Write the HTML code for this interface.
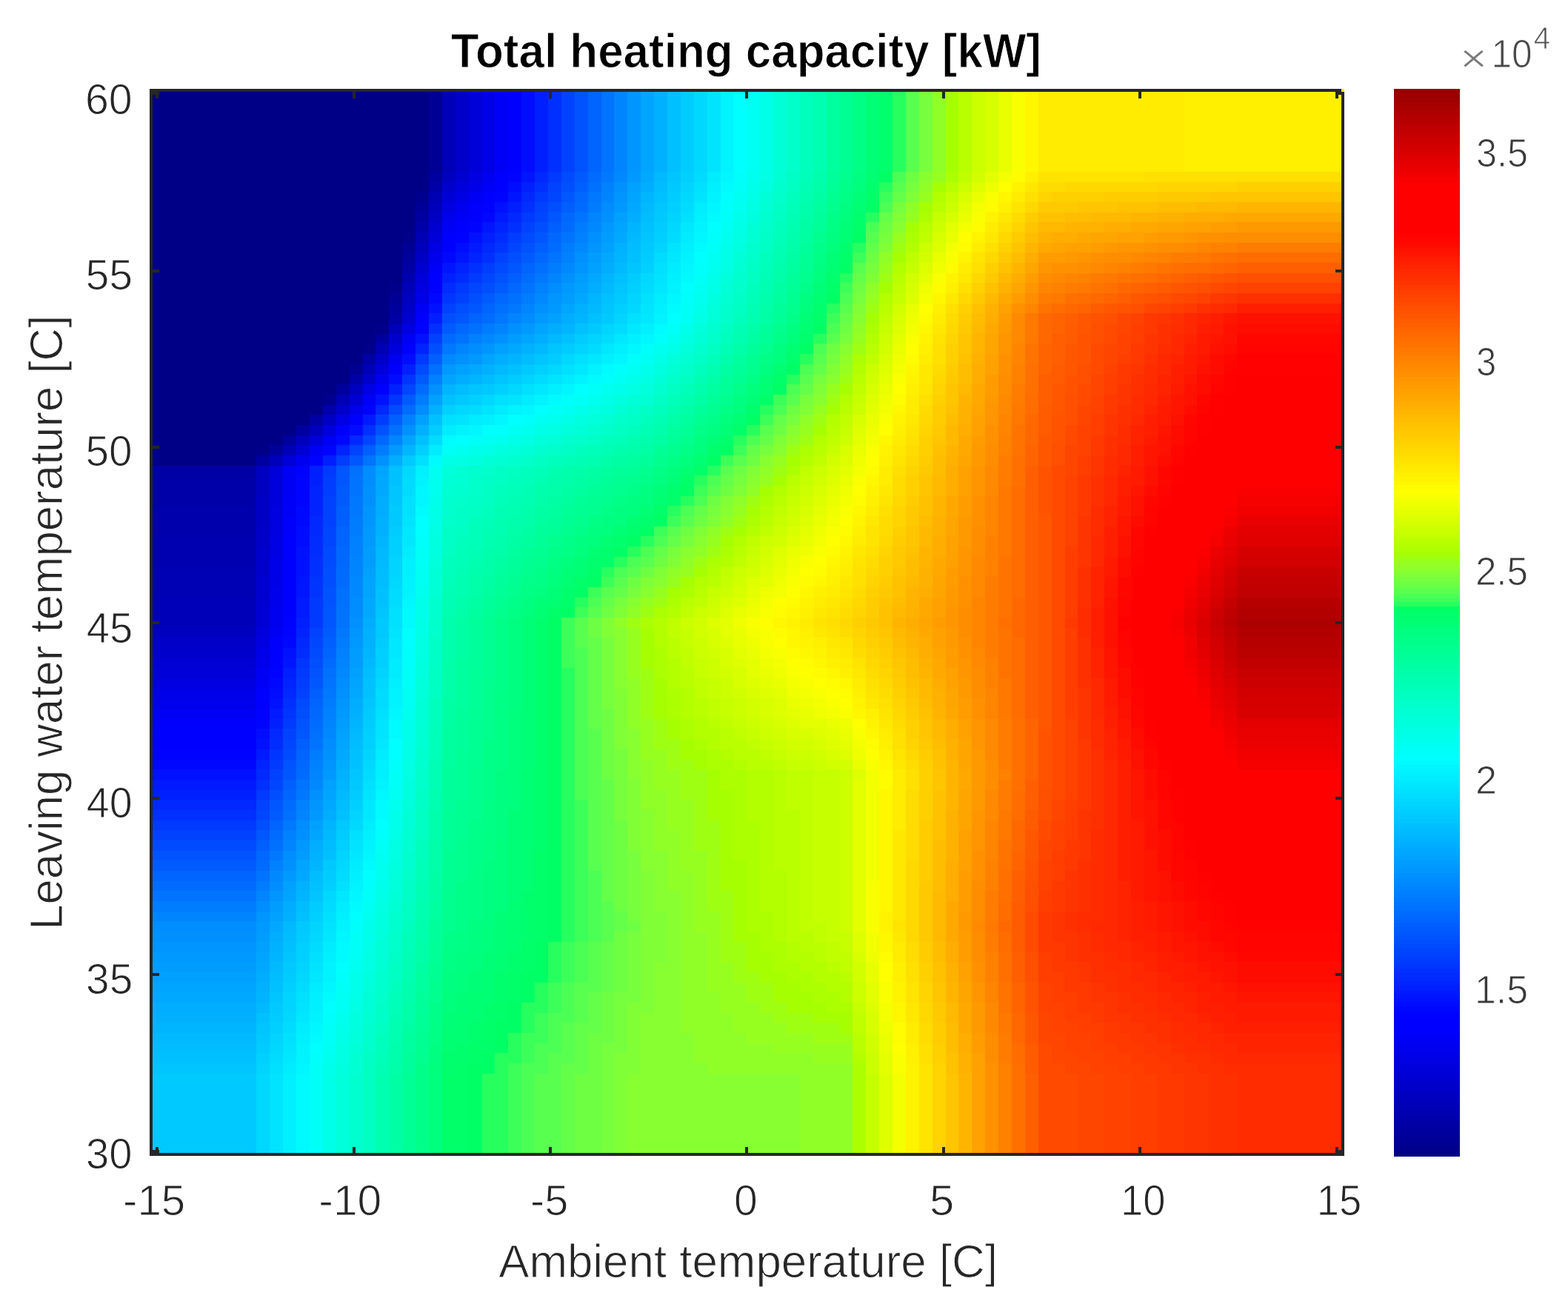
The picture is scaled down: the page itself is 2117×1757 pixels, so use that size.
<!DOCTYPE html>
<html lang="en">
<head>
<meta charset="utf-8">
<title>Total heating capacity [kW]</title>
<style>
html,body{margin:0;padding:0;background:#fff}
body{width:2117px;height:1757px;overflow:hidden;position:relative}
body>svg{position:absolute;left:0;top:0;display:block}
text{font-family:"Liberation Sans",Arial,Helvetica,sans-serif;fill:#262626;stroke:#fff;stroke-width:1px}
</style>
</head>
<body>
<svg width="2117" height="1757" viewBox="0 0 2117 1757">
<rect width="2117" height="1757" fill="#fff"/>
<svg x="203.40" y="122.40" width="1609.80" height="1436.80" viewBox="0 0 90 105" preserveAspectRatio="none" shape-rendering="crispEdges">
<path fill="#000087" d="M0 0h21v1h-21zM0 1h21v1h-21zM0 2h21v1h-21zM0 3h21v1h-21zM0 4h21v1h-21zM0 5h21v1h-21zM0 6h21v1h-21zM0 7h21v1h-21zM0 8h21v1h-21zM0 9h21v1h-21zM0 10h20v1h-20zM0 11h20v1h-20zM0 12h20v1h-20zM0 13h20v1h-20zM0 14h19v1h-19zM0 15h19v1h-19zM0 16h19v1h-19zM0 17h19v1h-19zM0 18h19v1h-19zM0 19h18v1h-18zM0 20h18v1h-18zM0 21h18v1h-18zM0 22h18v1h-18zM0 23h17v1h-17zM0 24h17v1h-17zM0 25h16v1h-16zM0 26h16v1h-16zM0 27h15v1h-15zM0 28h15v1h-15zM0 29h14v1h-14zM0 30h13v1h-13zM0 31h13v1h-13zM0 32h12v1h-12zM0 33h11v1h-11zM0 34h10v1h-10zM0 35h9v1h-9zM0 36h8v1h-8z"/>
<path fill="#00008b" d="M19 14h1v1h-1zM18 19h1v1h-1zM17 23h1v1h-1zM16 25h1v1h-1z"/>
<path fill="#00008f" d="M20 10h1v1h-1zM13 30h1v1h-1z"/>
<path fill="#000094" d="M21 0h1v1h-1zM21 1h1v1h-1zM21 2h1v1h-1zM21 3h1v1h-1zM21 4h1v1h-1zM21 5h1v1h-1zM21 6h1v1h-1zM21 7h1v1h-1zM19 15h1v1h-1zM18 20h1v1h-1zM15 27h1v1h-1z"/>
<path fill="#000098" d="M20 11h1v1h-1z"/>
<path fill="#00009c" d="M19 16h1v1h-1zM18 21h1v1h-1zM14 29h1v1h-1zM10 34h1v1h-1zM9 35h1v1h-1z"/>
<path fill="#0000a0" d="M21 8h1v1h-1zM20 12h1v1h-1zM17 24h1v1h-1zM11 33h1v1h-1zM8 36h1v1h-1z"/>
<path fill="#0000a4" d="M19 17h1v1h-1zM18 22h1v1h-1zM16 26h1v1h-1zM12 32h1v1h-1zM0 37h8v1h-8z"/>
<path fill="#0000a8" d="M21 9h1v1h-1zM20 13h1v1h-1zM15 28h1v1h-1zM0 38h8v1h-8zM0 39h8v1h-8zM0 40h8v1h-8z"/>
<path fill="#0000ac" d="M13 31h1v1h-1zM0 41h8v1h-8zM0 42h8v1h-8zM0 43h8v1h-8z"/>
<path fill="#0000b0" d="M19 18h1v1h-1zM0 44h8v1h-8zM0 45h8v1h-8zM0 46h8v1h-8z"/>
<path fill="#0000b4" d="M21 10h1v1h-1zM20 14h1v1h-1zM17 25h1v1h-1zM14 30h1v1h-1zM0 47h8v1h-8zM0 48h8v1h-8zM0 49h8v1h-8z"/>
<path fill="#0000b8" d="M22 0h1v1h-1zM22 1h1v1h-1zM22 2h1v1h-1zM22 3h1v1h-1zM22 4h1v1h-1zM22 5h1v1h-1zM22 6h1v1h-1zM22 7h1v1h-1zM19 19h1v1h-1zM18 23h1v1h-1zM16 27h1v1h-1zM10 35h1v1h-1zM0 50h8v1h-8zM0 51h8v1h-8zM0 52h8v1h-8z"/>
<path fill="#0000bc" d="M21 11h1v1h-1zM20 15h1v1h-1zM12 33h1v1h-1zM11 34h1v1h-1zM9 36h1v1h-1z"/>
<path fill="#0000c0" d="M22 8h1v1h-1zM19 20h1v1h-1zM15 29h1v1h-1zM8 37h1v1h-1zM8 38h1v1h-1zM8 39h1v1h-1zM0 53h8v1h-8z"/>
<path fill="#0000c4" d="M21 12h1v1h-1zM20 16h1v1h-1zM13 32h1v1h-1zM8 40h1v1h-1zM8 41h1v1h-1zM8 42h1v1h-1z"/>
<path fill="#0000c8" d="M23 0h1v1h-1zM23 1h1v1h-1zM23 2h1v1h-1zM23 3h1v1h-1zM23 4h1v1h-1zM23 5h1v1h-1zM23 6h1v1h-1zM23 7h1v1h-1zM19 21h1v1h-1zM17 26h1v1h-1zM8 43h1v1h-1zM8 44h1v1h-1zM0 54h8v1h-8z"/>
<path fill="#0000cc" d="M22 9h1v1h-1zM18 24h1v1h-1zM16 28h1v1h-1zM14 31h1v1h-1zM8 45h1v1h-1zM8 46h1v1h-1zM8 47h1v1h-1zM0 55h8v1h-8z"/>
<path fill="#0000d0" d="M23 8h1v1h-1zM21 13h1v1h-1zM20 17h1v1h-1zM19 22h1v1h-1zM8 48h1v1h-1zM8 49h1v1h-1zM8 50h1v1h-1z"/>
<path fill="#0000d4" d="M22 10h1v1h-1zM15 30h1v1h-1zM11 35h1v1h-1zM8 51h1v1h-1zM8 52h1v1h-1zM0 56h8v1h-8z"/>
<path fill="#0000d8" d="M24 0h1v1h-1zM24 1h1v1h-1zM24 2h1v1h-1zM24 3h1v1h-1zM24 4h1v1h-1zM24 5h1v1h-1zM24 6h1v1h-1zM24 7h1v1h-1zM21 14h1v1h-1zM20 18h1v1h-1zM12 34h1v1h-1zM10 36h1v1h-1zM9 37h1v1h-1zM0 57h8v1h-8z"/>
<path fill="#0000dc" d="M23 9h1v1h-1zM18 25h1v1h-1zM17 27h1v1h-1zM13 33h1v1h-1zM9 38h1v1h-1zM9 39h1v1h-1zM9 40h1v1h-1zM8 53h1v1h-1z"/>
<path fill="#0000e0" d="M24 8h1v1h-1zM22 11h1v1h-1zM20 19h1v1h-1zM19 23h1v1h-1zM9 41h1v1h-1zM9 42h1v1h-1zM9 43h1v1h-1zM8 54h1v1h-1zM0 58h8v1h-8z"/>
<path fill="#0000e4" d="M23 10h1v1h-1zM21 15h1v1h-1zM16 29h1v1h-1zM14 32h1v1h-1zM9 44h1v1h-1zM9 45h1v1h-1z"/>
<path fill="#0000e8" d="M25 0h1v1h-1zM25 1h1v1h-1zM25 2h1v1h-1zM25 3h1v1h-1zM25 4h1v1h-1zM25 5h1v1h-1zM25 6h1v1h-1zM25 7h1v1h-1zM24 9h1v1h-1zM20 20h1v1h-1zM9 46h1v1h-1zM9 47h1v1h-1zM9 48h1v1h-1zM8 55h1v1h-1zM0 59h8v1h-8z"/>
<path fill="#0000ec" d="M22 12h1v1h-1zM21 16h1v1h-1zM15 31h1v1h-1zM9 49h1v1h-1zM9 50h1v1h-1zM8 56h1v1h-1zM0 60h8v1h-8z"/>
<path fill="#0000f0" d="M25 8h1v1h-1zM23 11h1v1h-1zM18 26h1v1h-1zM17 28h1v1h-1zM11 36h1v1h-1zM9 51h1v1h-1zM9 52h1v1h-1z"/>
<path fill="#0000f4" d="M24 10h1v1h-1zM22 13h1v1h-1zM20 21h1v1h-1zM19 24h1v1h-1zM13 34h1v1h-1zM12 35h1v1h-1zM10 37h1v1h-1zM10 38h1v1h-1zM10 39h1v1h-1zM9 53h1v1h-1zM8 57h1v1h-1zM0 61h8v1h-8z"/>
<path fill="#0000f8" d="M26 0h1v1h-1zM26 1h1v1h-1zM26 2h1v1h-1zM26 3h1v1h-1zM26 4h1v1h-1zM26 5h1v1h-1zM26 6h1v1h-1zM26 7h1v1h-1zM25 9h1v1h-1zM23 12h1v1h-1zM21 17h1v1h-1zM16 30h1v1h-1zM10 40h1v1h-1zM10 41h1v1h-1zM8 58h1v1h-1z"/>
<path fill="#0000fc" d="M24 11h1v1h-1zM20 22h1v1h-1zM14 33h1v1h-1zM10 42h1v1h-1zM10 43h1v1h-1zM9 54h1v1h-1zM0 62h8v1h-8z"/>
<path fill="#0000ff" d="M26 8h1v1h-1zM22 14h1v1h-1zM21 18h1v1h-1zM10 44h1v1h-1zM10 45h1v1h-1zM10 46h1v1h-1zM9 55h1v1h-1zM8 59h1v1h-1zM0 63h8v1h-8z"/>
<path fill="#0000ff" d="M25 10h1v1h-1zM23 13h1v1h-1zM19 25h1v1h-1zM18 27h1v1h-1zM15 32h1v1h-1zM10 47h1v1h-1zM10 48h1v1h-1zM8 60h1v1h-1z"/>
<path fill="#0000ff" d="M27 0h1v1h-1zM27 1h1v1h-1zM27 2h1v1h-1zM27 3h1v1h-1zM27 4h1v1h-1zM27 5h1v1h-1zM27 6h1v1h-1zM27 7h1v1h-1zM26 9h1v1h-1zM24 12h1v1h-1zM22 15h1v1h-1zM21 19h1v1h-1zM17 29h1v1h-1zM10 49h1v1h-1zM10 50h1v1h-1zM10 51h1v1h-1zM9 56h1v1h-1zM0 64h8v1h-8z"/>
<path fill="#0002ff" d="M25 11h1v1h-1zM23 14h1v1h-1zM20 23h1v1h-1zM16 31h1v1h-1zM12 36h1v1h-1zM11 37h1v1h-1zM10 52h1v1h-1zM9 57h1v1h-1zM8 61h1v1h-1zM0 65h8v1h-8z"/>
<path fill="#0004ff" d="M27 8h1v1h-1zM26 10h1v1h-1zM24 13h1v1h-1zM13 35h1v1h-1zM11 38h1v1h-1zM11 39h1v1h-1zM11 40h1v1h-1zM10 53h1v1h-1zM8 62h1v1h-1z"/>
<path fill="#0007ff" d="M25 12h1v1h-1zM22 16h1v1h-1zM21 20h1v1h-1zM14 34h1v1h-1zM11 41h1v1h-1zM11 42h1v1h-1zM10 54h1v1h-1zM9 58h1v1h-1zM0 66h8v1h-8z"/>
<path fill="#000cff" d="M28 0h1v1h-1zM28 1h1v1h-1zM28 2h1v1h-1zM28 3h1v1h-1zM28 4h1v1h-1zM28 5h1v1h-1zM28 6h1v1h-1zM28 7h1v1h-1zM27 9h1v1h-1zM23 15h1v1h-1zM19 26h1v1h-1zM18 28h1v1h-1zM15 33h1v1h-1zM11 43h1v1h-1zM11 44h1v1h-1zM9 59h1v1h-1zM8 63h1v1h-1z"/>
<path fill="#0011ff" d="M26 11h1v1h-1zM24 14h1v1h-1zM21 21h1v1h-1zM20 24h1v1h-1zM17 30h1v1h-1zM11 45h1v1h-1zM11 46h1v1h-1zM11 47h1v1h-1zM10 55h1v1h-1zM9 60h1v1h-1zM8 64h1v1h-1zM0 67h8v1h-8z"/>
<path fill="#0015ff" d="M28 8h1v1h-1zM27 10h1v1h-1zM25 13h1v1h-1zM23 16h1v1h-1zM22 17h1v1h-1zM11 48h1v1h-1zM11 49h1v1h-1zM10 56h1v1h-1z"/>
<path fill="#001aff" d="M26 12h1v1h-1zM24 15h1v1h-1zM16 32h1v1h-1zM11 50h1v1h-1zM11 51h1v1h-1zM9 61h1v1h-1zM8 65h1v1h-1zM0 68h8v1h-8z"/>
<path fill="#001fff" d="M29 0h1v1h-1zM29 1h1v1h-1zM29 2h1v1h-1zM29 3h1v1h-1zM29 4h1v1h-1zM29 5h1v1h-1zM29 6h1v1h-1zM29 7h1v1h-1zM28 9h1v1h-1zM27 11h1v1h-1zM25 14h1v1h-1zM22 18h1v1h-1zM21 22h1v1h-1zM19 27h1v1h-1zM18 29h1v1h-1zM13 36h1v1h-1zM12 37h1v1h-1zM12 38h1v1h-1zM11 52h1v1h-1zM10 57h1v1h-1zM9 62h1v1h-1zM0 69h8v1h-8z"/>
<path fill="#0023ff" d="M26 13h1v1h-1zM24 16h1v1h-1zM23 17h1v1h-1zM20 25h1v1h-1zM14 35h1v1h-1zM12 39h1v1h-1zM12 40h1v1h-1zM12 41h1v1h-1zM11 53h1v1h-1zM10 58h1v1h-1zM8 66h1v1h-1z"/>
<path fill="#0028ff" d="M29 8h1v1h-1zM28 10h1v1h-1zM27 12h1v1h-1zM25 15h1v1h-1zM17 31h1v1h-1zM15 34h1v1h-1zM12 42h1v1h-1zM12 43h1v1h-1zM11 54h1v1h-1zM10 59h1v1h-1zM9 63h1v1h-1zM8 67h1v1h-1zM0 70h8v1h-8z"/>
<path fill="#002cff" d="M26 14h1v1h-1zM23 18h1v1h-1zM22 19h1v1h-1zM12 44h1v1h-1zM12 45h1v1h-1zM11 55h1v1h-1zM9 64h1v1h-1z"/>
<path fill="#0030ff" d="M30 0h1v1h-1zM30 1h1v1h-1zM30 2h1v1h-1zM30 3h1v1h-1zM30 4h1v1h-1zM30 5h1v1h-1zM30 6h1v1h-1zM30 7h1v1h-1zM29 9h1v1h-1zM28 11h1v1h-1zM27 13h1v1h-1zM25 16h1v1h-1zM24 17h1v1h-1zM21 23h1v1h-1zM16 33h1v1h-1zM12 46h1v1h-1zM12 47h1v1h-1zM10 60h1v1h-1zM8 68h1v1h-1zM0 71h8v1h-8z"/>
<path fill="#0035ff" d="M26 15h1v1h-1zM22 20h1v1h-1zM19 28h1v1h-1zM18 30h1v1h-1zM12 48h1v1h-1zM12 49h1v1h-1zM11 56h1v1h-1zM10 61h1v1h-1zM9 65h1v1h-1z"/>
<path fill="#0039ff" d="M30 8h1v1h-1zM29 10h1v1h-1zM28 12h1v1h-1zM24 18h1v1h-1zM23 19h1v1h-1zM20 26h1v1h-1zM13 37h1v1h-1zM12 50h1v1h-1zM12 51h1v1h-1zM12 52h1v1h-1zM11 57h1v1h-1zM10 62h1v1h-1zM9 66h1v1h-1zM8 69h1v1h-1zM0 72h8v1h-8z"/>
<path fill="#003eff" d="M27 14h1v1h-1zM25 17h1v1h-1zM17 32h1v1h-1zM14 36h1v1h-1zM13 38h1v1h-1zM13 39h1v1h-1zM11 58h1v1h-1z"/>
<path fill="#0042ff" d="M31 0h1v1h-1zM31 1h1v1h-1zM31 2h1v1h-1zM31 3h1v1h-1zM31 4h1v1h-1zM31 5h1v1h-1zM31 6h1v1h-1zM31 7h1v1h-1zM30 9h1v1h-1zM29 11h1v1h-1zM28 13h1v1h-1zM26 16h1v1h-1zM23 20h1v1h-1zM22 21h1v1h-1zM21 24h1v1h-1zM15 35h1v1h-1zM13 40h1v1h-1zM13 41h1v1h-1zM13 42h1v1h-1zM12 53h1v1h-1zM11 59h1v1h-1zM10 63h1v1h-1zM9 67h1v1h-1zM8 70h1v1h-1zM0 73h8v1h-8z"/>
<path fill="#0046ff" d="M30 10h1v1h-1zM29 12h1v1h-1zM27 15h1v1h-1zM25 18h1v1h-1zM24 19h1v1h-1zM19 29h1v1h-1zM16 34h1v1h-1zM13 43h1v1h-1zM13 44h1v1h-1zM12 54h1v1h-1zM10 64h1v1h-1zM9 68h1v1h-1zM8 71h1v1h-1z"/>
<path fill="#004aff" d="M31 8h1v1h-1zM28 14h1v1h-1zM26 17h1v1h-1zM20 27h1v1h-1zM18 31h1v1h-1zM13 45h1v1h-1zM13 46h1v1h-1zM12 55h1v1h-1zM11 60h1v1h-1zM10 65h1v1h-1zM0 74h8v1h-8z"/>
<path fill="#004fff" d="M31 9h1v1h-1zM30 11h1v1h-1zM29 13h1v1h-1zM27 16h1v1h-1zM25 19h1v1h-1zM24 20h1v1h-1zM23 21h1v1h-1zM22 22h1v1h-1zM21 25h1v1h-1zM13 47h1v1h-1zM13 48h1v1h-1zM12 56h1v1h-1zM11 61h1v1h-1zM9 69h1v1h-1zM8 72h1v1h-1z"/>
<path fill="#0053ff" d="M32 0h1v1h-1zM32 1h1v1h-1zM32 2h1v1h-1zM32 3h1v1h-1zM32 4h1v1h-1zM32 5h1v1h-1zM32 6h1v1h-1zM32 7h1v1h-1zM28 15h1v1h-1zM26 18h1v1h-1zM17 33h1v1h-1zM13 49h1v1h-1zM13 50h1v1h-1zM12 57h1v1h-1zM11 62h1v1h-1zM10 66h1v1h-1zM0 75h8v1h-8z"/>
<path fill="#0057ff" d="M31 10h1v1h-1zM30 12h1v1h-1zM29 14h1v1h-1zM27 17h1v1h-1zM24 21h1v1h-1zM23 22h1v1h-1zM15 36h1v1h-1zM14 37h1v1h-1zM14 38h1v1h-1zM13 51h1v1h-1zM13 52h1v1h-1zM12 58h1v1h-1zM11 63h1v1h-1zM10 67h1v1h-1zM9 70h1v1h-1zM8 73h1v1h-1z"/>
<path fill="#005bff" d="M32 8h1v1h-1zM28 16h1v1h-1zM26 19h1v1h-1zM25 20h1v1h-1zM22 23h1v1h-1zM20 28h1v1h-1zM19 30h1v1h-1zM14 39h1v1h-1zM14 40h1v1h-1zM13 53h1v1h-1zM9 71h1v1h-1zM0 76h8v1h-8z"/>
<path fill="#005fff" d="M32 9h1v1h-1zM31 11h1v1h-1zM30 13h1v1h-1zM29 15h1v1h-1zM27 18h1v1h-1zM21 26h1v1h-1zM18 32h1v1h-1zM16 35h1v1h-1zM14 41h1v1h-1zM14 42h1v1h-1zM13 54h1v1h-1zM12 59h1v1h-1zM11 64h1v1h-1zM10 68h1v1h-1zM8 74h1v1h-1z"/>
<path fill="#0064ff" d="M33 0h1v1h-1zM33 1h1v1h-1zM33 2h1v1h-1zM33 3h1v1h-1zM33 4h1v1h-1zM33 5h1v1h-1zM33 6h1v1h-1zM33 7h1v1h-1zM28 17h1v1h-1zM25 21h1v1h-1zM24 22h1v1h-1zM14 43h1v1h-1zM14 44h1v1h-1zM13 55h1v1h-1zM12 60h1v1h-1zM11 65h1v1h-1zM10 69h1v1h-1zM9 72h1v1h-1zM0 77h8v1h-8z"/>
<path fill="#0068ff" d="M32 10h1v1h-1zM31 12h1v1h-1zM30 14h1v1h-1zM29 16h1v1h-1zM27 19h1v1h-1zM26 20h1v1h-1zM23 23h1v1h-1zM17 34h1v1h-1zM14 45h1v1h-1zM14 46h1v1h-1zM12 61h1v1h-1zM11 66h1v1h-1zM8 75h1v1h-1z"/>
<path fill="#006cff" d="M33 8h1v1h-1zM32 11h1v1h-1zM31 13h1v1h-1zM30 15h1v1h-1zM28 18h1v1h-1zM25 22h1v1h-1zM22 24h1v1h-1zM20 29h1v1h-1zM19 31h1v1h-1zM14 47h1v1h-1zM14 48h1v1h-1zM13 56h1v1h-1zM12 62h1v1h-1zM11 67h1v1h-1zM10 70h1v1h-1zM9 73h1v1h-1zM8 76h1v1h-1zM0 78h8v1h-8z"/>
<path fill="#0070ff" d="M33 9h1v1h-1zM29 17h1v1h-1zM27 20h1v1h-1zM26 21h1v1h-1zM24 23h1v1h-1zM21 27h1v1h-1zM18 33h1v1h-1zM15 37h1v1h-1zM14 49h1v1h-1zM14 50h1v1h-1zM13 57h1v1h-1zM12 63h1v1h-1zM10 71h1v1h-1zM9 74h1v1h-1z"/>
<path fill="#0074ff" d="M34 0h1v1h-1zM34 1h1v1h-1zM34 2h1v1h-1zM34 3h1v1h-1zM34 4h1v1h-1zM34 5h1v1h-1zM34 6h1v1h-1zM34 7h1v1h-1zM32 12h1v1h-1zM31 14h1v1h-1zM30 16h1v1h-1zM28 19h1v1h-1zM23 24h1v1h-1zM16 36h1v1h-1zM15 38h1v1h-1zM15 39h1v1h-1zM14 51h1v1h-1zM14 52h1v1h-1zM13 58h1v1h-1zM12 64h1v1h-1zM11 68h1v1h-1zM8 77h1v1h-1zM0 79h8v1h-8z"/>
<path fill="#0078ff" d="M34 8h1v1h-1zM33 10h1v1h-1zM29 18h1v1h-1zM27 21h1v1h-1zM26 22h1v1h-1zM22 25h1v1h-1zM15 40h1v1h-1zM15 41h1v1h-1zM14 53h1v1h-1zM13 59h1v1h-1zM11 69h1v1h-1zM10 72h1v1h-1zM9 75h1v1h-1z"/>
<path fill="#007cff" d="M33 11h1v1h-1zM32 13h1v1h-1zM31 15h1v1h-1zM30 17h1v1h-1zM28 20h1v1h-1zM25 23h1v1h-1zM20 30h1v1h-1zM17 35h1v1h-1zM15 42h1v1h-1zM15 43h1v1h-1zM14 54h1v1h-1zM13 60h1v1h-1zM12 65h1v1h-1zM8 78h1v1h-1zM0 80h8v1h-8z"/>
<path fill="#0081ff" d="M34 9h1v1h-1zM32 14h1v1h-1zM31 16h1v1h-1zM29 19h1v1h-1zM24 24h1v1h-1zM21 28h1v1h-1zM19 32h1v1h-1zM15 44h1v1h-1zM15 45h1v1h-1zM14 55h1v1h-1zM13 61h1v1h-1zM12 66h1v1h-1zM11 70h1v1h-1zM10 73h1v1h-1zM9 76h1v1h-1z"/>
<path fill="#0085ff" d="M35 0h1v1h-1zM35 1h1v1h-1zM35 2h1v1h-1zM35 3h1v1h-1zM35 4h1v1h-1zM35 5h1v1h-1zM35 6h1v1h-1zM35 7h1v1h-1zM34 10h1v1h-1zM33 12h1v1h-1zM30 18h1v1h-1zM28 21h1v1h-1zM27 22h1v1h-1zM26 23h1v1h-1zM23 25h1v1h-1zM18 34h1v1h-1zM15 46h1v1h-1zM15 47h1v1h-1zM14 56h1v1h-1zM13 62h1v1h-1zM12 67h1v1h-1zM11 71h1v1h-1zM10 74h1v1h-1zM8 79h1v1h-1zM0 81h8v1h-8z"/>
<path fill="#0089ff" d="M35 8h1v1h-1zM33 13h1v1h-1zM32 15h1v1h-1zM31 17h1v1h-1zM29 20h1v1h-1zM25 24h1v1h-1zM22 26h1v1h-1zM15 48h1v1h-1zM15 49h1v1h-1zM14 57h1v1h-1zM13 63h1v1h-1zM12 68h1v1h-1zM9 77h1v1h-1z"/>
<path fill="#008dff" d="M34 11h1v1h-1zM30 19h1v1h-1zM28 22h1v1h-1zM24 25h1v1h-1zM20 31h1v1h-1zM16 37h1v1h-1zM16 38h1v1h-1zM15 50h1v1h-1zM15 51h1v1h-1zM14 58h1v1h-1zM13 64h1v1h-1zM11 72h1v1h-1zM10 75h1v1h-1zM9 78h1v1h-1zM8 80h1v1h-1zM0 82h8v1h-8z"/>
<path fill="#0091ff" d="M35 9h1v1h-1zM34 12h1v1h-1zM33 14h1v1h-1zM32 16h1v1h-1zM31 18h1v1h-1zM29 21h1v1h-1zM27 23h1v1h-1zM26 24h1v1h-1zM23 26h1v1h-1zM21 29h1v1h-1zM19 33h1v1h-1zM17 36h1v1h-1zM16 39h1v1h-1zM16 40h1v1h-1zM15 52h1v1h-1zM14 59h1v1h-1zM13 65h1v1h-1zM12 69h1v1h-1zM11 73h1v1h-1zM10 76h1v1h-1zM0 83h8v1h-8z"/>
<path fill="#0095ff" d="M36 0h1v1h-1zM36 1h1v1h-1zM36 2h1v1h-1zM36 3h1v1h-1zM36 4h1v1h-1zM36 5h1v1h-1zM36 6h1v1h-1zM36 7h1v1h-1zM35 10h1v1h-1zM33 15h1v1h-1zM32 17h1v1h-1zM30 20h1v1h-1zM25 25h1v1h-1zM16 41h1v1h-1zM16 42h1v1h-1zM15 53h1v1h-1zM14 60h1v1h-1zM13 66h1v1h-1zM12 70h1v1h-1zM9 79h1v1h-1zM8 81h1v1h-1zM0 84h8v1h-8z"/>
<path fill="#0099ff" d="M36 8h1v1h-1zM35 11h1v1h-1zM34 13h1v1h-1zM31 19h1v1h-1zM30 21h1v1h-1zM29 22h1v1h-1zM28 23h1v1h-1zM24 26h1v1h-1zM22 27h1v1h-1zM18 35h1v1h-1zM16 43h1v1h-1zM16 44h1v1h-1zM15 54h1v1h-1zM14 61h1v1h-1zM13 67h1v1h-1zM12 71h1v1h-1zM11 74h1v1h-1zM10 77h1v1h-1zM8 82h1v1h-1zM0 85h8v1h-8z"/>
<path fill="#009dff" d="M34 14h1v1h-1zM33 16h1v1h-1zM32 18h1v1h-1zM31 20h1v1h-1zM27 24h1v1h-1zM16 45h1v1h-1zM16 46h1v1h-1zM15 55h1v1h-1zM15 56h1v1h-1zM14 62h1v1h-1zM11 75h1v1h-1zM9 80h1v1h-1zM8 83h1v1h-1zM0 86h8v1h-8z"/>
<path fill="#00a1ff" d="M36 9h1v1h-1zM35 12h1v1h-1zM34 15h1v1h-1zM33 17h1v1h-1zM32 19h1v1h-1zM30 22h1v1h-1zM26 25h1v1h-1zM23 27h1v1h-1zM21 30h1v1h-1zM20 32h1v1h-1zM16 47h1v1h-1zM15 57h1v1h-1zM14 63h1v1h-1zM13 68h1v1h-1zM12 72h1v1h-1zM10 78h1v1h-1zM9 81h1v1h-1zM8 84h1v1h-1zM0 87h8v1h-8z"/>
<path fill="#00a5ff" d="M37 0h1v1h-1zM37 1h1v1h-1zM37 2h1v1h-1zM37 3h1v1h-1zM37 4h1v1h-1zM37 5h1v1h-1zM37 6h1v1h-1zM37 7h1v1h-1zM36 10h1v1h-1zM35 13h1v1h-1zM31 21h1v1h-1zM29 23h1v1h-1zM28 24h1v1h-1zM25 26h1v1h-1zM22 28h1v1h-1zM19 34h1v1h-1zM17 37h1v1h-1zM16 48h1v1h-1zM16 49h1v1h-1zM15 58h1v1h-1zM14 64h1v1h-1zM13 69h1v1h-1zM12 73h1v1h-1zM11 76h1v1h-1zM10 79h1v1h-1zM8 85h1v1h-1zM0 88h8v1h-8z"/>
<path fill="#00a9ff" d="M37 8h1v1h-1zM36 11h1v1h-1zM35 14h1v1h-1zM34 16h1v1h-1zM33 18h1v1h-1zM32 20h1v1h-1zM27 25h1v1h-1zM24 27h1v1h-1zM17 38h1v1h-1zM17 39h1v1h-1zM16 50h1v1h-1zM16 51h1v1h-1zM15 59h1v1h-1zM14 65h1v1h-1zM13 70h1v1h-1zM11 77h1v1h-1zM9 82h1v1h-1zM8 86h1v1h-1zM0 89h8v1h-8z"/>
<path fill="#00adff" d="M37 9h1v1h-1zM36 12h1v1h-1zM34 17h1v1h-1zM33 19h1v1h-1zM31 22h1v1h-1zM30 23h1v1h-1zM29 24h1v1h-1zM26 26h1v1h-1zM23 28h1v1h-1zM18 36h1v1h-1zM17 40h1v1h-1zM17 41h1v1h-1zM16 52h1v1h-1zM15 60h1v1h-1zM14 66h1v1h-1zM13 71h1v1h-1zM12 74h1v1h-1zM10 80h1v1h-1zM9 83h1v1h-1zM8 87h1v1h-1zM0 90h8v1h-8z"/>
<path fill="#00b1ff" d="M38 0h1v1h-1zM38 1h1v1h-1zM38 2h1v1h-1zM38 3h1v1h-1zM38 4h1v1h-1zM38 5h1v1h-1zM38 6h1v1h-1zM38 7h1v1h-1zM35 15h1v1h-1zM32 21h1v1h-1zM28 25h1v1h-1zM25 27h1v1h-1zM21 31h1v1h-1zM20 33h1v1h-1zM17 42h1v1h-1zM17 43h1v1h-1zM16 53h1v1h-1zM16 54h1v1h-1zM15 61h1v1h-1zM14 67h1v1h-1zM12 75h1v1h-1zM11 78h1v1h-1zM10 81h1v1h-1zM9 84h1v1h-1zM8 88h1v1h-1zM0 91h8v1h-8z"/>
<path fill="#00b5ff" d="M37 10h1v1h-1zM36 13h1v1h-1zM35 16h1v1h-1zM34 18h1v1h-1zM33 20h1v1h-1zM32 22h1v1h-1zM31 23h1v1h-1zM27 26h1v1h-1zM24 28h1v1h-1zM22 29h1v1h-1zM19 35h1v1h-1zM17 44h1v1h-1zM16 55h1v1h-1zM15 62h1v1h-1zM14 68h1v1h-1zM13 72h1v1h-1zM12 76h1v1h-1zM11 79h1v1h-1zM9 85h1v1h-1zM8 89h1v1h-1zM0 92h8v1h-8z"/>
<path fill="#00b9ff" d="M38 8h1v1h-1zM37 11h1v1h-1zM36 14h1v1h-1zM35 17h1v1h-1zM34 19h1v1h-1zM33 21h1v1h-1zM30 24h1v1h-1zM29 25h1v1h-1zM26 27h1v1h-1zM17 45h1v1h-1zM17 46h1v1h-1zM16 56h1v1h-1zM15 63h1v1h-1zM14 69h1v1h-1zM13 73h1v1h-1zM10 82h1v1h-1zM9 86h1v1h-1zM8 90h1v1h-1zM0 93h8v1h-8z"/>
<path fill="#00bdff" d="M38 9h1v1h-1zM37 12h1v1h-1zM36 15h1v1h-1zM28 26h1v1h-1zM25 28h1v1h-1zM23 29h1v1h-1zM17 47h1v1h-1zM17 48h1v1h-1zM16 57h1v1h-1zM15 64h1v1h-1zM14 70h1v1h-1zM13 74h1v1h-1zM12 77h1v1h-1zM11 80h1v1h-1zM10 83h1v1h-1zM9 87h1v1h-1zM0 94h8v1h-8z"/>
<path fill="#00c1ff" d="M39 0h1v1h-1zM39 1h1v1h-1zM39 2h1v1h-1zM39 3h1v1h-1zM39 4h1v1h-1zM39 5h1v1h-1zM39 6h1v1h-1zM39 7h1v1h-1zM38 10h1v1h-1zM37 13h1v1h-1zM36 16h1v1h-1zM35 18h1v1h-1zM34 20h1v1h-1zM33 22h1v1h-1zM32 23h1v1h-1zM31 24h1v1h-1zM27 27h1v1h-1zM22 30h1v1h-1zM21 32h1v1h-1zM20 34h1v1h-1zM18 37h1v1h-1zM18 38h1v1h-1zM17 49h1v1h-1zM17 50h1v1h-1zM16 58h1v1h-1zM16 59h1v1h-1zM15 65h1v1h-1zM15 66h1v1h-1zM14 71h1v1h-1zM13 75h1v1h-1zM12 78h1v1h-1zM11 81h1v1h-1zM10 84h1v1h-1zM9 88h1v1h-1zM8 91h1v1h-1zM0 95h8v1h-8z"/>
<path fill="#00c5ff" d="M39 8h1v1h-1zM38 11h1v1h-1zM37 14h1v1h-1zM36 17h1v1h-1zM35 19h1v1h-1zM34 21h1v1h-1zM30 25h1v1h-1zM29 26h1v1h-1zM26 28h1v1h-1zM24 29h1v1h-1zM18 39h1v1h-1zM18 40h1v1h-1zM17 51h1v1h-1zM16 60h1v1h-1zM15 67h1v1h-1zM12 79h1v1h-1zM10 85h1v1h-1zM9 89h1v1h-1zM8 92h1v1h-1zM0 96h8v1h-8z"/>
<path fill="#00c9ff" d="M39 9h1v1h-1zM38 12h1v1h-1zM37 15h1v1h-1zM35 20h1v1h-1zM34 22h1v1h-1zM33 23h1v1h-1zM28 27h1v1h-1zM25 29h1v1h-1zM23 30h1v1h-1zM19 36h1v1h-1zM18 41h1v1h-1zM18 42h1v1h-1zM17 52h1v1h-1zM17 53h1v1h-1zM16 61h1v1h-1zM15 68h1v1h-1zM14 72h1v1h-1zM13 76h1v1h-1zM11 82h1v1h-1zM10 86h1v1h-1zM9 90h1v1h-1zM8 93h1v1h-1zM0 97h8v1h-8zM0 98h8v1h-8zM0 99h8v1h-8zM0 100h8v1h-8zM0 101h8v1h-8zM0 102h8v1h-8zM0 103h8v1h-8zM0 104h8v1h-8z"/>
<path fill="#00ccff" d="M40 0h1v1h-1zM40 1h1v1h-1zM40 2h1v1h-1zM40 3h1v1h-1zM40 4h1v1h-1zM40 5h1v1h-1zM40 6h1v1h-1zM40 7h1v1h-1zM39 10h1v1h-1zM38 13h1v1h-1zM37 16h1v1h-1zM36 18h1v1h-1zM32 24h1v1h-1zM31 25h1v1h-1zM30 26h1v1h-1zM27 28h1v1h-1zM21 33h1v1h-1zM18 43h1v1h-1zM17 54h1v1h-1zM16 62h1v1h-1zM15 69h1v1h-1zM14 73h1v1h-1zM13 77h1v1h-1zM12 80h1v1h-1zM11 83h1v1h-1zM10 87h1v1h-1zM9 91h1v1h-1zM8 94h1v1h-1z"/>
<path fill="#00d0ff" d="M40 8h1v1h-1zM39 11h1v1h-1zM38 14h1v1h-1zM37 17h1v1h-1zM36 19h1v1h-1zM35 21h1v1h-1zM29 27h1v1h-1zM26 29h1v1h-1zM24 30h1v1h-1zM22 31h1v1h-1zM20 35h1v1h-1zM18 44h1v1h-1zM18 45h1v1h-1zM17 55h1v1h-1zM17 56h1v1h-1zM16 63h1v1h-1zM16 64h1v1h-1zM15 70h1v1h-1zM14 74h1v1h-1zM13 78h1v1h-1zM12 81h1v1h-1zM11 84h1v1h-1zM11 85h1v1h-1zM10 88h1v1h-1zM9 92h1v1h-1zM8 95h1v1h-1z"/>
<path fill="#00d4ff" d="M40 9h1v1h-1zM39 12h1v1h-1zM38 15h1v1h-1zM36 20h1v1h-1zM35 22h1v1h-1zM34 23h1v1h-1zM33 24h1v1h-1zM32 25h1v1h-1zM28 28h1v1h-1zM18 46h1v1h-1zM18 47h1v1h-1zM17 57h1v1h-1zM16 65h1v1h-1zM15 71h1v1h-1zM14 75h1v1h-1zM12 82h1v1h-1zM11 86h1v1h-1zM10 89h1v1h-1zM10 90h1v1h-1zM9 93h1v1h-1zM8 96h1v1h-1z"/>
<path fill="#00d8ff" d="M41 0h1v1h-1zM41 1h1v1h-1zM41 2h1v1h-1zM41 3h1v1h-1zM41 4h1v1h-1zM41 5h1v1h-1zM41 6h1v1h-1zM41 7h1v1h-1zM40 10h1v1h-1zM39 13h1v1h-1zM37 18h1v1h-1zM36 21h1v1h-1zM31 26h1v1h-1zM30 27h1v1h-1zM27 29h1v1h-1zM25 30h1v1h-1zM23 31h1v1h-1zM19 37h1v1h-1zM18 48h1v1h-1zM17 58h1v1h-1zM16 66h1v1h-1zM15 72h1v1h-1zM14 76h1v1h-1zM13 79h1v1h-1zM12 83h1v1h-1zM11 87h1v1h-1zM10 91h1v1h-1zM9 94h1v1h-1zM8 97h1v1h-1zM8 98h1v1h-1zM8 99h1v1h-1zM8 100h1v1h-1zM8 101h1v1h-1zM8 102h1v1h-1zM8 103h1v1h-1zM8 104h1v1h-1z"/>
<path fill="#00dcff" d="M41 8h1v1h-1zM40 11h1v1h-1zM39 14h1v1h-1zM38 16h1v1h-1zM37 19h1v1h-1zM35 23h1v1h-1zM34 24h1v1h-1zM33 25h1v1h-1zM29 28h1v1h-1zM24 31h1v1h-1zM21 34h1v1h-1zM19 38h1v1h-1zM19 39h1v1h-1zM18 49h1v1h-1zM18 50h1v1h-1zM17 59h1v1h-1zM17 60h1v1h-1zM16 67h1v1h-1zM14 77h1v1h-1zM13 80h1v1h-1zM12 84h1v1h-1zM11 88h1v1h-1zM10 92h1v1h-1zM9 95h1v1h-1z"/>
<path fill="#00e0ff" d="M41 9h1v1h-1zM40 12h1v1h-1zM38 17h1v1h-1zM37 20h1v1h-1zM36 22h1v1h-1zM32 26h1v1h-1zM31 27h1v1h-1zM28 29h1v1h-1zM26 30h1v1h-1zM22 32h1v1h-1zM20 36h1v1h-1zM19 40h1v1h-1zM19 41h1v1h-1zM18 51h1v1h-1zM18 52h1v1h-1zM17 61h1v1h-1zM16 68h1v1h-1zM15 73h1v1h-1zM14 78h1v1h-1zM13 81h1v1h-1zM12 85h1v1h-1zM11 89h1v1h-1zM10 93h1v1h-1zM9 96h1v1h-1z"/>
<path fill="#00e4ff" d="M42 0h1v1h-1zM42 1h1v1h-1zM42 2h1v1h-1zM42 3h1v1h-1zM42 4h1v1h-1zM42 5h1v1h-1zM42 6h1v1h-1zM42 7h1v1h-1zM41 10h1v1h-1zM39 15h1v1h-1zM38 18h1v1h-1zM37 21h1v1h-1zM30 28h1v1h-1zM27 30h1v1h-1zM25 31h1v1h-1zM23 32h1v1h-1zM19 42h1v1h-1zM18 53h1v1h-1zM17 62h1v1h-1zM17 63h1v1h-1zM16 69h1v1h-1zM15 74h1v1h-1zM13 82h1v1h-1zM12 86h1v1h-1zM11 90h1v1h-1zM10 94h1v1h-1zM9 97h1v1h-1zM9 98h1v1h-1zM9 99h1v1h-1zM9 100h1v1h-1zM9 101h1v1h-1zM9 102h1v1h-1zM9 103h1v1h-1zM9 104h1v1h-1z"/>
<path fill="#00e8ff" d="M40 13h1v1h-1zM39 16h1v1h-1zM38 19h1v1h-1zM37 22h1v1h-1zM36 23h1v1h-1zM35 24h1v1h-1zM34 25h1v1h-1zM33 26h1v1h-1zM32 27h1v1h-1zM29 29h1v1h-1zM19 43h1v1h-1zM19 44h1v1h-1zM18 54h1v1h-1zM18 55h1v1h-1zM17 64h1v1h-1zM16 70h1v1h-1zM16 71h1v1h-1zM15 75h1v1h-1zM14 79h1v1h-1zM13 83h1v1h-1zM12 87h1v1h-1zM11 91h1v1h-1zM10 95h1v1h-1z"/>
<path fill="#00ecff" d="M42 8h1v1h-1zM41 11h1v1h-1zM40 14h1v1h-1zM39 17h1v1h-1zM38 20h1v1h-1zM31 28h1v1h-1zM28 30h1v1h-1zM26 31h1v1h-1zM24 32h1v1h-1zM22 33h1v1h-1zM21 35h1v1h-1zM19 45h1v1h-1zM18 56h1v1h-1zM18 57h1v1h-1zM17 65h1v1h-1zM16 72h1v1h-1zM15 76h1v1h-1zM14 80h1v1h-1zM13 84h1v1h-1zM12 88h1v1h-1zM11 92h1v1h-1zM10 96h1v1h-1z"/>
<path fill="#00f0ff" d="M42 9h1v1h-1zM41 12h1v1h-1zM40 15h1v1h-1zM39 18h1v1h-1zM38 21h1v1h-1zM37 23h1v1h-1zM36 24h1v1h-1zM35 25h1v1h-1zM34 26h1v1h-1zM30 29h1v1h-1zM25 32h1v1h-1zM20 37h1v1h-1zM19 46h1v1h-1zM19 47h1v1h-1zM18 58h1v1h-1zM17 66h1v1h-1zM17 67h1v1h-1zM16 73h1v1h-1zM15 77h1v1h-1zM14 81h1v1h-1zM13 85h1v1h-1zM12 89h1v1h-1zM12 90h1v1h-1zM11 93h1v1h-1zM10 97h1v1h-1zM10 98h1v1h-1zM10 99h1v1h-1zM10 100h1v1h-1zM10 101h1v1h-1zM10 102h1v1h-1zM10 103h1v1h-1zM10 104h1v1h-1z"/>
<path fill="#00f3ff" d="M43 0h1v1h-1zM43 1h1v1h-1zM43 2h1v1h-1zM43 3h1v1h-1zM43 4h1v1h-1zM43 5h1v1h-1zM43 6h1v1h-1zM43 7h1v1h-1zM42 10h1v1h-1zM41 13h1v1h-1zM40 16h1v1h-1zM39 19h1v1h-1zM38 22h1v1h-1zM33 27h1v1h-1zM32 28h1v1h-1zM29 30h1v1h-1zM27 31h1v1h-1zM23 33h1v1h-1zM20 38h1v1h-1zM19 48h1v1h-1zM19 49h1v1h-1zM18 59h1v1h-1zM18 60h1v1h-1zM17 68h1v1h-1zM16 74h1v1h-1zM15 78h1v1h-1zM14 82h1v1h-1zM13 86h1v1h-1zM13 87h1v1h-1zM12 91h1v1h-1zM11 94h1v1h-1zM11 95h1v1h-1z"/>
<path fill="#00f7ff" d="M43 8h1v1h-1zM42 11h1v1h-1zM41 14h1v1h-1zM40 17h1v1h-1zM39 20h1v1h-1zM37 24h1v1h-1zM36 25h1v1h-1zM35 26h1v1h-1zM31 29h1v1h-1zM28 31h1v1h-1zM26 32h1v1h-1zM24 33h1v1h-1zM20 39h1v1h-1zM20 40h1v1h-1zM19 50h1v1h-1zM18 61h1v1h-1zM17 69h1v1h-1zM16 75h1v1h-1zM15 79h1v1h-1zM14 83h1v1h-1zM13 88h1v1h-1zM12 92h1v1h-1zM11 96h1v1h-1z"/>
<path fill="#00fbff" d="M43 9h1v1h-1zM42 12h1v1h-1zM41 15h1v1h-1zM40 18h1v1h-1zM39 21h1v1h-1zM38 23h1v1h-1zM34 27h1v1h-1zM33 28h1v1h-1zM30 30h1v1h-1zM22 34h1v1h-1zM21 36h1v1h-1zM20 41h1v1h-1zM19 51h1v1h-1zM19 52h1v1h-1zM18 62h1v1h-1zM18 63h1v1h-1zM17 70h1v1h-1zM17 71h1v1h-1zM16 76h1v1h-1zM15 80h1v1h-1zM14 84h1v1h-1zM14 85h1v1h-1zM13 89h1v1h-1zM12 93h1v1h-1zM11 97h1v1h-1zM11 98h1v1h-1zM11 99h1v1h-1zM11 100h1v1h-1zM11 101h1v1h-1zM11 102h1v1h-1zM11 103h1v1h-1zM11 104h1v1h-1z"/>
<path fill="#00ffff" d="M44 0h1v1h-1zM44 1h1v1h-1zM44 2h1v1h-1zM44 3h1v1h-1zM44 4h1v1h-1zM44 5h1v1h-1zM44 6h1v1h-1zM44 7h1v1h-1zM43 10h1v1h-1zM42 13h1v1h-1zM41 16h1v1h-1zM40 19h1v1h-1zM39 22h1v1h-1zM32 29h1v1h-1zM29 31h1v1h-1zM27 32h1v1h-1zM25 33h1v1h-1zM23 34h1v1h-1zM20 42h1v1h-1zM20 43h1v1h-1zM19 53h1v1h-1zM19 54h1v1h-1zM18 64h1v1h-1zM18 65h1v1h-1zM17 72h1v1h-1zM16 77h1v1h-1zM15 81h1v1h-1zM14 86h1v1h-1zM13 90h1v1h-1zM12 94h1v1h-1z"/>
<path fill="#00fffb" d="M44 8h1v1h-1zM43 11h1v1h-1zM42 14h1v1h-1zM41 17h1v1h-1zM40 20h1v1h-1zM38 24h1v1h-1zM37 25h1v1h-1zM36 26h1v1h-1zM35 27h1v1h-1zM34 28h1v1h-1zM31 30h1v1h-1zM28 32h1v1h-1zM26 33h1v1h-1zM20 44h1v1h-1zM19 55h1v1h-1zM19 56h1v1h-1zM18 66h1v1h-1zM17 73h1v1h-1zM16 78h1v1h-1zM15 82h1v1h-1zM14 87h1v1h-1zM13 91h1v1h-1zM12 95h1v1h-1z"/>
<path fill="#00fff7" d="M44 9h1v1h-1zM43 12h1v1h-1zM42 15h1v1h-1zM41 18h1v1h-1zM40 21h1v1h-1zM39 23h1v1h-1zM33 29h1v1h-1zM32 30h1v1h-1zM30 31h1v1h-1zM24 34h1v1h-1zM22 35h1v1h-1zM20 45h1v1h-1zM20 46h1v1h-1zM19 57h1v1h-1zM19 58h1v1h-1zM18 67h1v1h-1zM18 68h1v1h-1zM17 74h1v1h-1zM16 79h1v1h-1zM15 83h1v1h-1zM15 84h1v1h-1zM14 88h1v1h-1zM13 92h1v1h-1zM13 93h1v1h-1zM12 96h1v1h-1zM12 97h1v1h-1zM12 98h1v1h-1zM12 99h1v1h-1zM12 100h1v1h-1zM12 101h1v1h-1zM12 102h1v1h-1zM12 103h1v1h-1zM12 104h1v1h-1z"/>
<path fill="#00fff3" d="M45 0h1v1h-1zM45 1h1v1h-1zM45 2h1v1h-1zM45 3h1v1h-1zM45 4h1v1h-1zM45 5h1v1h-1zM45 6h1v1h-1zM45 7h1v1h-1zM44 10h1v1h-1zM43 13h1v1h-1zM42 16h1v1h-1zM41 19h1v1h-1zM40 22h1v1h-1zM37 26h1v1h-1zM36 27h1v1h-1zM35 28h1v1h-1zM31 31h1v1h-1zM29 32h1v1h-1zM27 33h1v1h-1zM25 34h1v1h-1zM21 37h1v1h-1zM20 47h1v1h-1zM20 48h1v1h-1zM19 59h1v1h-1zM19 60h1v1h-1zM18 69h1v1h-1zM17 75h1v1h-1zM16 80h1v1h-1zM15 85h1v1h-1zM14 89h1v1h-1zM14 90h1v1h-1zM13 94h1v1h-1z"/>
<path fill="#00ffef" d="M45 8h1v1h-1zM44 11h1v1h-1zM43 14h1v1h-1zM42 17h1v1h-1zM41 20h1v1h-1zM39 24h1v1h-1zM38 25h1v1h-1zM34 29h1v1h-1zM33 30h1v1h-1zM30 32h1v1h-1zM28 33h1v1h-1zM26 34h1v1h-1zM23 35h1v1h-1zM21 38h1v1h-1zM21 39h1v1h-1zM20 49h1v1h-1zM19 61h1v1h-1zM18 70h1v1h-1zM17 76h1v1h-1zM17 77h1v1h-1zM16 81h1v1h-1zM15 86h1v1h-1zM14 91h1v1h-1zM13 95h1v1h-1z"/>
<path fill="#00ffeb" d="M45 9h1v1h-1zM44 12h1v1h-1zM43 15h1v1h-1zM42 18h1v1h-1zM41 21h1v1h-1zM40 23h1v1h-1zM37 27h1v1h-1zM36 28h1v1h-1zM35 29h1v1h-1zM32 31h1v1h-1zM24 35h1v1h-1zM21 40h1v1h-1zM20 50h1v1h-1zM20 51h1v1h-1zM19 62h1v1h-1zM19 63h1v1h-1zM18 71h1v1h-1zM18 72h1v1h-1zM17 78h1v1h-1zM16 82h1v1h-1zM16 83h1v1h-1zM15 87h1v1h-1zM15 88h1v1h-1zM14 92h1v1h-1zM13 96h1v1h-1z"/>
<path fill="#00ffe7" d="M46 0h1v1h-1zM46 1h1v1h-1zM46 2h1v1h-1zM46 3h1v1h-1zM46 4h1v1h-1zM46 5h1v1h-1zM46 6h1v1h-1zM46 7h1v1h-1zM45 10h1v1h-1zM44 13h1v1h-1zM43 16h1v1h-1zM42 19h1v1h-1zM39 25h1v1h-1zM38 26h1v1h-1zM34 30h1v1h-1zM31 32h1v1h-1zM29 33h1v1h-1zM27 34h1v1h-1zM25 35h1v1h-1zM22 36h1v1h-1zM21 41h1v1h-1zM21 42h1v1h-1zM20 52h1v1h-1zM20 53h1v1h-1zM19 64h1v1h-1zM19 65h1v1h-1zM18 73h1v1h-1zM17 79h1v1h-1zM16 84h1v1h-1zM15 89h1v1h-1zM14 93h1v1h-1zM13 97h1v1h-1zM13 98h1v1h-1zM13 99h1v1h-1zM13 100h1v1h-1zM13 101h1v1h-1zM13 102h1v1h-1zM13 103h1v1h-1zM13 104h1v1h-1z"/>
<path fill="#00ffe3" d="M46 8h1v1h-1zM45 11h1v1h-1zM44 14h1v1h-1zM43 17h1v1h-1zM41 22h1v1h-1zM40 24h1v1h-1zM37 28h1v1h-1zM36 29h1v1h-1zM33 31h1v1h-1zM30 33h1v1h-1zM28 34h1v1h-1zM23 36h1v1h-1zM21 43h1v1h-1zM20 54h1v1h-1zM20 55h1v1h-1zM19 66h1v1h-1zM19 67h1v1h-1zM18 74h1v1h-1zM18 75h1v1h-1zM17 80h1v1h-1zM16 85h1v1h-1zM16 86h1v1h-1zM15 90h1v1h-1zM14 94h1v1h-1zM14 95h1v1h-1z"/>
<path fill="#00ffdf" d="M46 9h1v1h-1zM45 12h1v1h-1zM44 15h1v1h-1zM42 20h1v1h-1zM38 27h1v1h-1zM35 30h1v1h-1zM34 31h1v1h-1zM32 32h1v1h-1zM26 35h1v1h-1zM24 36h1v1h-1zM21 44h1v1h-1zM21 45h1v1h-1zM20 56h1v1h-1zM20 57h1v1h-1zM19 68h1v1h-1zM19 69h1v1h-1zM18 76h1v1h-1zM17 81h1v1h-1zM17 82h1v1h-1zM16 87h1v1h-1zM15 91h1v1h-1zM15 92h1v1h-1zM14 96h1v1h-1z"/>
<path fill="#00ffda" d="M43 18h1v1h-1zM42 21h1v1h-1zM41 23h1v1h-1zM40 25h1v1h-1zM39 26h1v1h-1zM37 29h1v1h-1zM33 32h1v1h-1zM31 33h1v1h-1zM29 34h1v1h-1zM27 35h1v1h-1zM22 37h1v1h-1zM21 46h1v1h-1zM20 58h1v1h-1zM20 59h1v1h-1zM19 70h1v1h-1zM18 77h1v1h-1zM18 78h1v1h-1zM17 83h1v1h-1zM16 88h1v1h-1zM15 93h1v1h-1zM14 97h1v1h-1zM14 98h1v1h-1zM14 99h1v1h-1zM14 100h1v1h-1zM14 101h1v1h-1zM14 102h1v1h-1zM14 103h1v1h-1zM14 104h1v1h-1z"/>
<path fill="#00ffd6" d="M47 0h1v1h-1zM47 1h1v1h-1zM47 2h1v1h-1zM47 3h1v1h-1zM47 4h1v1h-1zM47 5h1v1h-1zM47 6h1v1h-1zM47 7h1v1h-1zM46 10h1v1h-1zM45 13h1v1h-1zM44 16h1v1h-1zM43 19h1v1h-1zM42 22h1v1h-1zM41 24h1v1h-1zM38 28h1v1h-1zM36 30h1v1h-1zM35 31h1v1h-1zM32 33h1v1h-1zM30 34h1v1h-1zM28 35h1v1h-1zM25 36h1v1h-1zM22 38h1v1h-1zM21 47h1v1h-1zM21 48h1v1h-1zM20 60h1v1h-1zM20 61h1v1h-1zM20 62h1v1h-1zM19 71h1v1h-1zM19 72h1v1h-1zM18 79h1v1h-1zM17 84h1v1h-1zM17 85h1v1h-1zM16 89h1v1h-1zM16 90h1v1h-1zM15 94h1v1h-1z"/>
<path fill="#00ffd2" d="M47 8h1v1h-1zM46 11h1v1h-1zM45 14h1v1h-1zM44 17h1v1h-1zM43 20h1v1h-1zM40 26h1v1h-1zM39 27h1v1h-1zM37 30h1v1h-1zM34 32h1v1h-1zM26 36h1v1h-1zM23 37h1v1h-1zM23 38h1v1h-1zM22 39h1v1h-1zM21 49h1v1h-1zM20 63h1v1h-1zM20 64h1v1h-1zM19 73h1v1h-1zM19 74h1v1h-1zM18 80h1v1h-1zM17 86h1v1h-1zM16 91h1v1h-1zM15 95h1v1h-1zM15 96h1v1h-1z"/>
<path fill="#00ffce" d="M47 9h1v1h-1zM46 12h1v1h-1zM45 15h1v1h-1zM44 18h1v1h-1zM43 21h1v1h-1zM42 23h1v1h-1zM41 25h1v1h-1zM38 29h1v1h-1zM36 31h1v1h-1zM33 33h1v1h-1zM31 34h1v1h-1zM29 35h1v1h-1zM27 36h1v1h-1zM24 37h1v1h-1zM23 39h1v1h-1zM22 40h1v1h-1zM22 41h1v1h-1zM21 50h1v1h-1zM21 51h1v1h-1zM20 65h1v1h-1zM20 66h1v1h-1zM19 75h1v1h-1zM19 76h1v1h-1zM18 81h1v1h-1zM18 82h1v1h-1zM17 87h1v1h-1zM17 88h1v1h-1zM16 92h1v1h-1zM16 93h1v1h-1zM15 97h1v1h-1zM15 98h1v1h-1zM15 99h1v1h-1zM15 100h1v1h-1zM15 101h1v1h-1zM15 102h1v1h-1zM15 103h1v1h-1zM15 104h1v1h-1z"/>
<path fill="#00ffca" d="M48 0h1v1h-1zM48 1h1v1h-1zM48 2h1v1h-1zM48 3h1v1h-1zM48 4h1v1h-1zM48 5h1v1h-1zM48 6h1v1h-1zM48 7h1v1h-1zM47 10h1v1h-1zM46 13h1v1h-1zM45 16h1v1h-1zM44 19h1v1h-1zM43 22h1v1h-1zM42 24h1v1h-1zM40 27h1v1h-1zM39 28h1v1h-1zM35 32h1v1h-1zM34 33h1v1h-1zM32 34h1v1h-1zM30 35h1v1h-1zM28 36h1v1h-1zM25 37h1v1h-1zM24 38h1v1h-1zM24 39h1v1h-1zM23 40h1v1h-1zM22 42h1v1h-1zM21 52h1v1h-1zM21 53h1v1h-1zM20 67h1v1h-1zM20 68h1v1h-1zM19 77h1v1h-1zM18 83h1v1h-1zM18 84h1v1h-1zM17 89h1v1h-1zM16 94h1v1h-1z"/>
<path fill="#00ffc6" d="M48 8h1v1h-1zM47 11h1v1h-1zM46 14h1v1h-1zM45 17h1v1h-1zM44 20h1v1h-1zM41 26h1v1h-1zM38 30h1v1h-1zM37 31h1v1h-1zM36 32h1v1h-1zM33 34h1v1h-1zM31 35h1v1h-1zM26 37h1v1h-1zM25 38h1v1h-1zM24 40h1v1h-1zM23 41h1v1h-1zM23 42h1v1h-1zM22 43h1v1h-1zM22 44h1v1h-1zM21 54h1v1h-1zM21 55h1v1h-1zM21 56h1v1h-1zM20 69h1v1h-1zM20 70h1v1h-1zM19 78h1v1h-1zM19 79h1v1h-1zM18 85h1v1h-1zM17 90h1v1h-1zM17 91h1v1h-1zM16 95h1v1h-1z"/>
<path fill="#00ffc2" d="M48 9h1v1h-1zM47 12h1v1h-1zM46 15h1v1h-1zM45 18h1v1h-1zM44 21h1v1h-1zM43 23h1v1h-1zM42 25h1v1h-1zM40 28h1v1h-1zM39 29h1v1h-1zM35 33h1v1h-1zM29 36h1v1h-1zM27 37h1v1h-1zM26 38h1v1h-1zM25 39h1v1h-1zM25 40h1v1h-1zM24 41h1v1h-1zM23 43h1v1h-1zM22 45h1v1h-1zM21 57h1v1h-1zM21 58h1v1h-1zM21 59h1v1h-1zM20 71h1v1h-1zM20 72h1v1h-1zM20 73h1v1h-1zM19 80h1v1h-1zM19 81h1v1h-1zM18 86h1v1h-1zM18 87h1v1h-1zM17 92h1v1h-1zM16 96h1v1h-1zM16 97h1v1h-1zM16 98h1v1h-1zM16 99h1v1h-1zM16 100h1v1h-1zM16 101h1v1h-1zM16 102h1v1h-1zM16 103h1v1h-1zM16 104h1v1h-1z"/>
<path fill="#00ffbd" d="M49 0h1v1h-1zM49 1h1v1h-1zM49 2h1v1h-1zM49 3h1v1h-1zM49 4h1v1h-1zM49 5h1v1h-1zM49 6h1v1h-1zM49 7h1v1h-1zM48 10h1v1h-1zM47 13h1v1h-1zM46 16h1v1h-1zM45 19h1v1h-1zM44 22h1v1h-1zM43 24h1v1h-1zM41 27h1v1h-1zM38 31h1v1h-1zM37 32h1v1h-1zM36 33h1v1h-1zM34 34h1v1h-1zM32 35h1v1h-1zM30 36h1v1h-1zM28 37h1v1h-1zM27 38h1v1h-1zM26 39h1v1h-1zM25 41h1v1h-1zM24 42h1v1h-1zM23 44h1v1h-1zM22 46h1v1h-1zM22 47h1v1h-1zM21 60h1v1h-1zM21 61h1v1h-1zM21 62h1v1h-1zM20 74h1v1h-1zM20 75h1v1h-1zM19 82h1v1h-1zM18 88h1v1h-1zM17 93h1v1h-1zM17 94h1v1h-1z"/>
<path fill="#00ffb9" d="M49 8h1v1h-1zM48 11h1v1h-1zM47 14h1v1h-1zM46 17h1v1h-1zM45 20h1v1h-1zM42 26h1v1h-1zM40 29h1v1h-1zM39 30h1v1h-1zM35 34h1v1h-1zM33 35h1v1h-1zM31 36h1v1h-1zM29 37h1v1h-1zM28 38h1v1h-1zM27 39h1v1h-1zM26 40h1v1h-1zM25 42h1v1h-1zM24 43h1v1h-1zM24 44h1v1h-1zM23 45h1v1h-1zM23 46h1v1h-1zM22 48h1v1h-1zM21 63h1v1h-1zM21 64h1v1h-1zM21 65h1v1h-1zM20 76h1v1h-1zM20 77h1v1h-1zM19 83h1v1h-1zM19 84h1v1h-1zM18 89h1v1h-1zM18 90h1v1h-1zM17 95h1v1h-1z"/>
<path fill="#00ffb5" d="M49 9h1v1h-1zM48 12h1v1h-1zM47 15h1v1h-1zM46 18h1v1h-1zM45 21h1v1h-1zM44 23h1v1h-1zM43 25h1v1h-1zM41 28h1v1h-1zM38 32h1v1h-1zM37 33h1v1h-1zM34 35h1v1h-1zM32 36h1v1h-1zM28 39h1v1h-1zM27 40h1v1h-1zM26 41h1v1h-1zM25 43h1v1h-1zM24 45h1v1h-1zM23 47h1v1h-1zM22 49h1v1h-1zM22 50h1v1h-1zM21 66h1v1h-1zM21 67h1v1h-1zM21 68h1v1h-1zM20 78h1v1h-1zM20 79h1v1h-1zM19 85h1v1h-1zM19 86h1v1h-1zM18 91h1v1h-1zM17 96h1v1h-1z"/>
<path fill="#00ffb1" d="M50 0h1v1h-1zM50 1h1v1h-1zM50 2h1v1h-1zM50 3h1v1h-1zM50 4h1v1h-1zM50 5h1v1h-1zM50 6h1v1h-1zM50 7h1v1h-1zM49 10h1v1h-1zM48 13h1v1h-1zM47 16h1v1h-1zM46 19h1v1h-1zM45 22h1v1h-1zM44 24h1v1h-1zM42 27h1v1h-1zM40 30h1v1h-1zM39 31h1v1h-1zM36 34h1v1h-1zM33 36h1v1h-1zM30 37h1v1h-1zM29 38h1v1h-1zM28 40h1v1h-1zM27 41h1v1h-1zM26 42h1v1h-1zM26 43h1v1h-1zM25 44h1v1h-1zM24 46h1v1h-1zM23 48h1v1h-1zM23 49h1v1h-1zM22 51h1v1h-1zM21 69h1v1h-1zM21 70h1v1h-1zM20 80h1v1h-1zM20 81h1v1h-1zM19 87h1v1h-1zM18 92h1v1h-1zM18 93h1v1h-1zM17 97h1v1h-1zM17 98h1v1h-1zM17 99h1v1h-1zM17 100h1v1h-1zM17 101h1v1h-1zM17 102h1v1h-1zM17 103h1v1h-1zM17 104h1v1h-1z"/>
<path fill="#00ffac" d="M50 8h1v1h-1zM49 11h1v1h-1zM48 14h1v1h-1zM47 17h1v1h-1zM46 20h1v1h-1zM43 26h1v1h-1zM41 29h1v1h-1zM38 33h1v1h-1zM37 34h1v1h-1zM35 35h1v1h-1zM31 37h1v1h-1zM30 38h1v1h-1zM29 39h1v1h-1zM28 41h1v1h-1zM27 42h1v1h-1zM26 44h1v1h-1zM25 45h1v1h-1zM24 47h1v1h-1zM23 50h1v1h-1zM22 52h1v1h-1zM22 53h1v1h-1zM22 54h1v1h-1zM22 55h1v1h-1zM21 71h1v1h-1zM21 72h1v1h-1zM21 73h1v1h-1zM20 82h1v1h-1zM20 83h1v1h-1zM19 88h1v1h-1zM19 89h1v1h-1zM18 94h1v1h-1zM18 95h1v1h-1z"/>
<path fill="#00ffa8" d="M50 9h1v1h-1zM49 12h1v1h-1zM48 15h1v1h-1zM47 18h1v1h-1zM46 21h1v1h-1zM45 23h1v1h-1zM44 25h1v1h-1zM42 28h1v1h-1zM40 31h1v1h-1zM39 32h1v1h-1zM36 35h1v1h-1zM34 36h1v1h-1zM32 37h1v1h-1zM31 38h1v1h-1zM30 39h1v1h-1zM29 40h1v1h-1zM28 42h1v1h-1zM27 43h1v1h-1zM26 45h1v1h-1zM25 46h1v1h-1zM25 47h1v1h-1zM24 48h1v1h-1zM24 49h1v1h-1zM23 51h1v1h-1zM22 56h1v1h-1zM22 57h1v1h-1zM22 58h1v1h-1zM22 59h1v1h-1zM21 74h1v1h-1zM21 75h1v1h-1zM21 76h1v1h-1zM20 84h1v1h-1zM20 85h1v1h-1zM19 90h1v1h-1zM19 91h1v1h-1zM18 96h1v1h-1z"/>
<path fill="#00ffa4" d="M50 10h1v1h-1zM49 13h1v1h-1zM48 16h1v1h-1zM47 19h1v1h-1zM46 22h1v1h-1zM45 24h1v1h-1zM43 27h1v1h-1zM41 30h1v1h-1zM38 34h1v1h-1zM37 35h1v1h-1zM35 36h1v1h-1zM33 37h1v1h-1zM32 38h1v1h-1zM31 39h1v1h-1zM30 40h1v1h-1zM29 41h1v1h-1zM28 43h1v1h-1zM27 44h1v1h-1zM26 46h1v1h-1zM25 48h1v1h-1zM24 50h1v1h-1zM23 52h1v1h-1zM23 53h1v1h-1zM23 54h1v1h-1zM23 55h1v1h-1zM22 60h1v1h-1zM22 61h1v1h-1zM22 62h1v1h-1zM21 77h1v1h-1zM21 78h1v1h-1zM21 79h1v1h-1zM20 86h1v1h-1zM19 92h1v1h-1zM18 97h1v1h-1zM18 98h1v1h-1zM18 99h1v1h-1zM18 100h1v1h-1zM18 101h1v1h-1zM18 102h1v1h-1zM18 103h1v1h-1zM18 104h1v1h-1z"/>
<path fill="#00ff9f" d="M51 0h1v1h-1zM51 1h1v1h-1zM51 2h1v1h-1zM51 3h1v1h-1zM51 4h1v1h-1zM51 5h1v1h-1zM51 6h1v1h-1zM51 7h1v1h-1zM50 11h1v1h-1zM49 14h1v1h-1zM48 17h1v1h-1zM47 20h1v1h-1zM44 26h1v1h-1zM42 29h1v1h-1zM40 32h1v1h-1zM39 33h1v1h-1zM36 36h1v1h-1zM34 37h1v1h-1zM33 38h1v1h-1zM32 39h1v1h-1zM31 40h1v1h-1zM30 41h1v1h-1zM29 42h1v1h-1zM28 44h1v1h-1zM27 45h1v1h-1zM26 47h1v1h-1zM25 49h1v1h-1zM24 51h1v1h-1zM23 56h1v1h-1zM23 57h1v1h-1zM23 58h1v1h-1zM23 59h1v1h-1zM23 60h1v1h-1zM22 63h1v1h-1zM22 64h1v1h-1zM22 65h1v1h-1zM22 66h1v1h-1zM21 80h1v1h-1zM21 81h1v1h-1zM20 87h1v1h-1zM20 88h1v1h-1zM19 93h1v1h-1zM19 94h1v1h-1z"/>
<path fill="#00ff9b" d="M51 8h1v1h-1zM50 12h1v1h-1zM49 15h1v1h-1zM48 18h1v1h-1zM47 21h1v1h-1zM46 23h1v1h-1zM45 25h1v1h-1zM43 28h1v1h-1zM41 31h1v1h-1zM37 36h1v1h-1zM35 37h1v1h-1zM30 42h1v1h-1zM29 43h1v1h-1zM27 46h1v1h-1zM26 48h1v1h-1zM25 50h1v1h-1zM24 52h1v1h-1zM24 53h1v1h-1zM24 54h1v1h-1zM24 55h1v1h-1zM24 56h1v1h-1zM23 61h1v1h-1zM23 62h1v1h-1zM23 63h1v1h-1zM23 64h1v1h-1zM22 67h1v1h-1zM22 68h1v1h-1zM22 69h1v1h-1zM22 70h1v1h-1zM21 82h1v1h-1zM21 83h1v1h-1zM20 89h1v1h-1zM20 90h1v1h-1zM19 95h1v1h-1zM19 96h1v1h-1z"/>
<path fill="#00ff97" d="M51 9h1v1h-1zM50 13h1v1h-1zM49 16h1v1h-1zM48 19h1v1h-1zM47 22h1v1h-1zM46 24h1v1h-1zM44 27h1v1h-1zM43 29h1v1h-1zM42 30h1v1h-1zM40 33h1v1h-1zM39 34h1v1h-1zM38 35h1v1h-1zM36 37h1v1h-1zM34 38h1v1h-1zM33 39h1v1h-1zM32 40h1v1h-1zM31 41h1v1h-1zM30 43h1v1h-1zM29 44h1v1h-1zM28 45h1v1h-1zM27 47h1v1h-1zM26 49h1v1h-1zM25 51h1v1h-1zM24 57h1v1h-1zM24 58h1v1h-1zM24 59h1v1h-1zM24 60h1v1h-1zM24 61h1v1h-1zM23 65h1v1h-1zM23 66h1v1h-1zM23 67h1v1h-1zM23 68h1v1h-1zM23 69h1v1h-1zM22 71h1v1h-1zM22 72h1v1h-1zM22 73h1v1h-1zM22 74h1v1h-1zM21 84h1v1h-1zM21 85h1v1h-1zM20 91h1v1h-1zM20 92h1v1h-1zM19 97h1v1h-1zM19 98h1v1h-1zM19 99h1v1h-1zM19 100h1v1h-1zM19 101h1v1h-1zM19 102h1v1h-1zM19 103h1v1h-1zM19 104h1v1h-1z"/>
<path fill="#00ff92" d="M52 0h1v1h-1zM52 1h1v1h-1zM52 2h1v1h-1zM52 3h1v1h-1zM52 4h1v1h-1zM52 5h1v1h-1zM52 6h1v1h-1zM52 7h1v1h-1zM51 10h1v1h-1zM49 17h1v1h-1zM48 20h1v1h-1zM45 26h1v1h-1zM44 28h1v1h-1zM42 31h1v1h-1zM41 32h1v1h-1zM35 38h1v1h-1zM34 39h1v1h-1zM33 40h1v1h-1zM32 41h1v1h-1zM31 42h1v1h-1zM29 45h1v1h-1zM28 46h1v1h-1zM27 48h1v1h-1zM26 50h1v1h-1zM25 52h1v1h-1zM25 53h1v1h-1zM25 54h1v1h-1zM25 55h1v1h-1zM25 56h1v1h-1zM25 57h1v1h-1zM24 62h1v1h-1zM24 63h1v1h-1zM24 64h1v1h-1zM24 65h1v1h-1zM24 66h1v1h-1zM23 70h1v1h-1zM23 71h1v1h-1zM23 72h1v1h-1zM23 73h1v1h-1zM22 75h1v1h-1zM22 76h1v1h-1zM22 77h1v1h-1zM22 78h1v1h-1zM21 86h1v1h-1zM21 87h1v1h-1zM20 93h1v1h-1zM20 94h1v1h-1z"/>
<path fill="#00ff8e" d="M52 8h1v1h-1zM51 11h1v1h-1zM50 14h1v1h-1zM49 18h1v1h-1zM48 21h1v1h-1zM47 23h1v1h-1zM46 25h1v1h-1zM45 27h1v1h-1zM43 30h1v1h-1zM40 34h1v1h-1zM39 35h1v1h-1zM38 36h1v1h-1zM37 37h1v1h-1zM36 38h1v1h-1zM35 39h1v1h-1zM34 40h1v1h-1zM33 41h1v1h-1zM32 42h1v1h-1zM31 43h1v1h-1zM30 44h1v1h-1zM29 46h1v1h-1zM28 47h1v1h-1zM27 49h1v1h-1zM26 51h1v1h-1zM25 58h1v1h-1zM25 59h1v1h-1zM25 60h1v1h-1zM25 61h1v1h-1zM25 62h1v1h-1zM25 63h1v1h-1zM24 67h1v1h-1zM24 68h1v1h-1zM24 69h1v1h-1zM24 70h1v1h-1zM24 71h1v1h-1zM23 74h1v1h-1zM23 75h1v1h-1zM23 76h1v1h-1zM23 77h1v1h-1zM22 79h1v1h-1zM22 80h1v1h-1zM22 81h1v1h-1zM22 82h1v1h-1zM21 88h1v1h-1zM21 89h1v1h-1zM20 95h1v1h-1z"/>
<path fill="#00ff89" d="M52 9h1v1h-1zM51 12h1v1h-1zM50 15h1v1h-1zM49 19h1v1h-1zM48 22h1v1h-1zM47 24h1v1h-1zM44 29h1v1h-1zM42 32h1v1h-1zM41 33h1v1h-1zM37 38h1v1h-1zM36 39h1v1h-1zM32 43h1v1h-1zM31 44h1v1h-1zM30 45h1v1h-1zM29 47h1v1h-1zM28 48h1v1h-1zM27 50h1v1h-1zM26 52h1v1h-1zM26 53h1v1h-1zM26 54h1v1h-1zM26 55h1v1h-1zM26 56h1v1h-1zM26 57h1v1h-1zM26 58h1v1h-1zM25 64h1v1h-1zM25 65h1v1h-1zM25 66h1v1h-1zM25 67h1v1h-1zM25 68h1v1h-1zM25 69h1v1h-1zM24 72h1v1h-1zM24 73h1v1h-1zM24 74h1v1h-1zM24 75h1v1h-1zM24 76h1v1h-1zM23 78h1v1h-1zM23 79h1v1h-1zM23 80h1v1h-1zM23 81h1v1h-1zM23 82h1v1h-1zM22 83h1v1h-1zM22 84h1v1h-1zM21 90h1v1h-1zM21 91h1v1h-1zM20 96h1v1h-1zM20 97h1v1h-1zM20 98h1v1h-1zM20 99h1v1h-1zM20 100h1v1h-1zM20 101h1v1h-1zM20 102h1v1h-1zM20 103h1v1h-1zM20 104h1v1h-1z"/>
<path fill="#00ff85" d="M53 0h1v1h-1zM53 1h1v1h-1zM53 2h1v1h-1zM53 3h1v1h-1zM53 4h1v1h-1zM53 5h1v1h-1zM53 6h1v1h-1zM53 7h1v1h-1zM52 10h1v1h-1zM51 13h1v1h-1zM50 16h1v1h-1zM46 26h1v1h-1zM45 28h1v1h-1zM43 31h1v1h-1zM40 35h1v1h-1zM39 36h1v1h-1zM38 37h1v1h-1zM35 40h1v1h-1zM34 41h1v1h-1zM33 42h1v1h-1zM31 45h1v1h-1zM30 46h1v1h-1zM29 48h1v1h-1zM28 49h1v1h-1zM27 51h1v1h-1zM26 59h1v1h-1zM26 60h1v1h-1zM26 61h1v1h-1zM26 62h1v1h-1zM26 63h1v1h-1zM26 64h1v1h-1zM26 65h1v1h-1zM26 66h1v1h-1zM25 70h1v1h-1zM25 71h1v1h-1zM25 72h1v1h-1zM25 73h1v1h-1zM25 74h1v1h-1zM25 75h1v1h-1zM24 77h1v1h-1zM24 78h1v1h-1zM24 79h1v1h-1zM24 80h1v1h-1zM24 81h1v1h-1zM23 83h1v1h-1zM23 84h1v1h-1zM22 85h1v1h-1zM22 86h1v1h-1zM21 92h1v1h-1zM21 93h1v1h-1z"/>
<path fill="#00ff80" d="M53 8h1v1h-1zM52 11h1v1h-1zM51 14h1v1h-1zM50 17h1v1h-1zM49 20h1v1h-1zM48 23h1v1h-1zM47 25h1v1h-1zM46 27h1v1h-1zM44 30h1v1h-1zM42 33h1v1h-1zM41 34h1v1h-1zM38 38h1v1h-1zM37 39h1v1h-1zM36 40h1v1h-1zM35 41h1v1h-1zM34 42h1v1h-1zM33 43h1v1h-1zM32 44h1v1h-1zM30 47h1v1h-1zM29 49h1v1h-1zM28 50h1v1h-1zM27 52h1v1h-1zM27 53h1v1h-1zM27 54h1v1h-1zM27 55h1v1h-1zM27 56h1v1h-1zM27 57h1v1h-1zM27 58h1v1h-1zM27 59h1v1h-1zM27 60h1v1h-1zM26 67h1v1h-1zM26 68h1v1h-1zM26 69h1v1h-1zM26 70h1v1h-1zM26 71h1v1h-1zM26 72h1v1h-1zM26 73h1v1h-1zM25 76h1v1h-1zM25 77h1v1h-1zM25 78h1v1h-1zM25 79h1v1h-1zM25 80h1v1h-1zM25 81h1v1h-1zM24 82h1v1h-1zM24 83h1v1h-1zM24 84h1v1h-1zM23 85h1v1h-1zM23 86h1v1h-1zM22 87h1v1h-1zM22 88h1v1h-1zM21 94h1v1h-1zM21 95h1v1h-1z"/>
<path fill="#00ff7c" d="M53 9h1v1h-1zM52 12h1v1h-1zM51 15h1v1h-1zM50 18h1v1h-1zM49 21h1v1h-1zM48 24h1v1h-1zM47 26h1v1h-1zM45 29h1v1h-1zM44 31h1v1h-1zM43 32h1v1h-1zM41 35h1v1h-1zM40 36h1v1h-1zM39 37h1v1h-1zM37 40h1v1h-1zM36 41h1v1h-1zM35 42h1v1h-1zM34 43h1v1h-1zM33 44h1v1h-1zM32 45h1v1h-1zM31 46h1v1h-1zM30 48h1v1h-1zM28 51h1v1h-1zM27 61h1v1h-1zM27 62h1v1h-1zM27 63h1v1h-1zM27 64h1v1h-1zM27 65h1v1h-1zM27 66h1v1h-1zM27 67h1v1h-1zM27 68h1v1h-1zM27 69h1v1h-1zM27 70h1v1h-1zM26 74h1v1h-1zM26 75h1v1h-1zM26 76h1v1h-1zM26 77h1v1h-1zM26 78h1v1h-1zM26 79h1v1h-1zM26 80h1v1h-1zM25 82h1v1h-1zM25 83h1v1h-1zM25 84h1v1h-1zM24 85h1v1h-1zM24 86h1v1h-1zM23 87h1v1h-1zM23 88h1v1h-1zM22 89h1v1h-1zM22 90h1v1h-1zM21 96h1v1h-1zM21 97h1v1h-1zM21 98h1v1h-1zM21 99h1v1h-1zM21 100h1v1h-1zM21 101h1v1h-1zM21 102h1v1h-1zM21 103h1v1h-1zM21 104h1v1h-1z"/>
<path fill="#00ff77" d="M54 0h1v1h-1zM54 1h1v1h-1zM54 2h1v1h-1zM54 3h1v1h-1zM54 4h1v1h-1zM54 5h1v1h-1zM54 6h1v1h-1zM54 7h1v1h-1zM53 10h1v1h-1zM52 13h1v1h-1zM51 16h1v1h-1zM50 19h1v1h-1zM49 22h1v1h-1zM46 28h1v1h-1zM45 30h1v1h-1zM43 33h1v1h-1zM42 34h1v1h-1zM39 38h1v1h-1zM38 39h1v1h-1zM32 46h1v1h-1zM31 47h1v1h-1zM30 49h1v1h-1zM29 50h1v1h-1zM28 52h1v1h-1zM28 53h1v1h-1zM28 54h1v1h-1zM28 55h1v1h-1zM28 56h1v1h-1zM28 57h1v1h-1zM28 58h1v1h-1zM28 59h1v1h-1zM28 60h1v1h-1zM28 61h1v1h-1zM28 62h1v1h-1zM28 63h1v1h-1zM28 64h1v1h-1zM28 65h1v1h-1zM28 66h1v1h-1zM27 71h1v1h-1zM27 72h1v1h-1zM27 73h1v1h-1zM27 74h1v1h-1zM27 75h1v1h-1zM27 76h1v1h-1zM27 77h1v1h-1zM27 78h1v1h-1zM27 79h1v1h-1zM26 81h1v1h-1zM26 82h1v1h-1zM26 83h1v1h-1zM26 84h1v1h-1zM25 85h1v1h-1zM25 86h1v1h-1zM24 87h1v1h-1zM24 88h1v1h-1zM23 89h1v1h-1zM23 90h1v1h-1zM22 91h1v1h-1zM22 92h1v1h-1z"/>
<path fill="#00ff72" d="M54 8h1v1h-1zM53 11h1v1h-1zM52 14h1v1h-1zM51 17h1v1h-1zM50 20h1v1h-1zM49 23h1v1h-1zM48 25h1v1h-1zM47 27h1v1h-1zM46 29h1v1h-1zM44 32h1v1h-1zM41 36h1v1h-1zM40 37h1v1h-1zM38 40h1v1h-1zM37 41h1v1h-1zM36 42h1v1h-1zM35 43h1v1h-1zM34 44h1v1h-1zM33 45h1v1h-1zM32 47h1v1h-1zM31 48h1v1h-1zM30 50h1v1h-1zM29 51h1v1h-1zM28 67h1v1h-1zM28 68h1v1h-1zM28 69h1v1h-1zM28 70h1v1h-1zM28 71h1v1h-1zM28 72h1v1h-1zM28 73h1v1h-1zM28 74h1v1h-1zM28 75h1v1h-1zM28 76h1v1h-1zM28 77h1v1h-1zM28 78h1v1h-1zM27 80h1v1h-1zM27 81h1v1h-1zM27 82h1v1h-1zM27 83h1v1h-1zM27 84h1v1h-1zM26 85h1v1h-1zM26 86h1v1h-1zM25 87h1v1h-1zM25 88h1v1h-1zM24 89h2v1h-2zM24 90h1v1h-1zM23 91h2v1h-2zM23 92h1v1h-1zM22 93h2v1h-2zM22 94h1v1h-1z"/>
<path fill="#00ff6d" d="M55 0h1v1h-1zM55 1h1v1h-1zM55 2h1v1h-1zM55 3h1v1h-1zM55 4h1v1h-1zM55 5h1v1h-1zM55 6h1v1h-1zM55 7h1v1h-1zM54 9h1v1h-1zM53 12h1v1h-1zM52 15h1v1h-1zM51 18h1v1h-1zM50 21h1v1h-1zM49 24h1v1h-1zM48 26h1v1h-1zM45 31h1v1h-1zM43 34h1v1h-1zM42 35h1v1h-1zM39 39h1v1h-1zM37 42h1v1h-1zM36 43h1v1h-1zM35 44h1v1h-1zM34 45h1v1h-1zM33 46h1v1h-1zM31 49h1v1h-1zM29 52h1v1h-1zM29 53h1v1h-1zM29 54h1v1h-1zM29 55h1v1h-1zM29 56h1v1h-1zM29 57h1v1h-1zM29 58h1v1h-1zM29 59h1v1h-1zM29 60h1v1h-1zM29 61h1v1h-1zM29 62h1v1h-1zM29 63h1v1h-1zM29 64h1v1h-1zM29 65h1v1h-1zM29 66h1v1h-1zM29 67h1v1h-1zM29 68h1v1h-1zM29 69h1v1h-1zM29 70h1v1h-1zM29 71h1v1h-1zM29 72h1v1h-1zM29 73h1v1h-1zM29 74h1v1h-1zM28 79h1v1h-1zM28 80h1v1h-1zM28 81h1v1h-1zM28 82h1v1h-1zM28 83h1v1h-1zM27 85h1v1h-1zM27 86h1v1h-1zM26 87h1v1h-1zM26 88h1v1h-1zM26 89h1v1h-1zM25 90h1v1h-1zM25 91h1v1h-1zM24 92h1v1h-1zM24 93h1v1h-1zM23 94h1v1h-1zM22 95h2v1h-2zM22 96h1v1h-1z"/>
<path fill="#00ff69" d="M54 10h1v1h-1zM53 13h1v1h-1zM52 16h1v1h-1zM51 19h1v1h-1zM50 22h1v1h-1zM47 28h1v1h-1zM46 30h1v1h-1zM44 33h1v1h-1zM41 37h1v1h-1zM40 38h1v1h-1zM39 40h1v1h-1zM38 41h1v1h-1zM34 46h1v1h-1zM33 47h1v1h-1zM32 48h1v1h-1zM31 50h1v1h-1zM30 51h1v1h-1zM29 75h1v1h-1zM29 76h1v1h-1zM29 77h1v1h-1zM29 78h1v1h-1zM29 79h1v1h-1zM29 80h1v1h-1zM29 81h1v1h-1zM29 82h1v1h-1zM29 83h1v1h-1zM28 84h1v1h-1zM28 85h1v1h-1zM28 86h1v1h-1zM27 87h1v1h-1zM27 88h1v1h-1zM27 89h1v1h-1zM26 90h1v1h-1zM26 91h1v1h-1zM25 92h1v1h-1zM25 93h1v1h-1zM24 94h2v1h-2zM24 95h1v1h-1zM23 96h1v1h-1zM22 97h2v1h-2zM22 98h2v1h-2zM22 99h2v1h-2zM22 100h2v1h-2zM22 101h2v1h-2zM22 102h2v1h-2zM22 103h2v1h-2zM22 104h2v1h-2z"/>
<path fill="#00ff64" d="M55 8h1v1h-1zM54 11h1v1h-1zM53 14h1v1h-1zM52 17h1v1h-1zM51 20h1v1h-1zM50 23h1v1h-1zM49 25h1v1h-1zM48 27h1v1h-1zM47 29h1v1h-1zM45 32h1v1h-1zM43 35h1v1h-1zM42 36h1v1h-1zM40 39h1v1h-1zM38 42h1v1h-1zM37 43h1v1h-1zM36 44h1v1h-1zM35 45h1v1h-1zM33 48h1v1h-1zM32 49h1v1h-1zM31 51h1v1h-1zM30 52h1v1h-1zM30 53h1v1h-1zM30 54h1v1h-1zM30 55h1v1h-1zM30 56h1v1h-1zM30 57h1v1h-1zM30 58h1v1h-1zM30 59h1v1h-1zM30 60h1v1h-1zM30 61h1v1h-1zM30 62h1v1h-1zM30 63h1v1h-1zM30 64h1v1h-1zM30 65h1v1h-1zM30 66h1v1h-1zM30 67h1v1h-1zM30 68h1v1h-1zM30 69h1v1h-1zM30 70h1v1h-1zM30 71h1v1h-1zM30 72h1v1h-1zM30 73h1v1h-1zM30 74h1v1h-1zM30 75h1v1h-1zM30 76h1v1h-1zM30 77h1v1h-1zM30 78h1v1h-1zM30 79h1v1h-1zM30 80h1v1h-1zM30 81h1v1h-1zM30 82h1v1h-1zM30 83h1v1h-1zM29 84h1v1h-1zM29 85h1v1h-1zM29 86h1v1h-1zM28 87h2v1h-2zM28 88h1v1h-1zM28 89h1v1h-1zM27 90h1v1h-1zM27 91h1v1h-1zM26 92h2v1h-2zM26 93h1v1h-1zM26 94h1v1h-1zM25 95h1v1h-1zM24 96h2v1h-2zM24 97h1v1h-1zM24 98h1v1h-1zM24 99h1v1h-1zM24 100h1v1h-1zM24 101h1v1h-1zM24 102h1v1h-1zM24 103h1v1h-1zM24 104h1v1h-1z"/>
<path fill="#27ff5f" d="M56 0h1v1h-1zM56 1h1v1h-1zM56 2h1v1h-1zM56 3h1v1h-1zM56 4h1v1h-1zM56 5h1v1h-1zM56 6h1v1h-1zM56 7h1v1h-1zM55 9h1v1h-1zM54 12h1v1h-1zM53 15h1v1h-1zM52 18h1v1h-1zM51 21h1v1h-1zM50 24h1v1h-1zM49 26h1v1h-1zM48 28h1v1h-1zM46 31h1v1h-1zM45 33h1v1h-1zM44 34h1v1h-1zM42 37h1v1h-1zM41 38h1v1h-1zM40 40h1v1h-1zM39 41h1v1h-1zM37 44h1v1h-1zM36 45h1v1h-1zM35 46h1v1h-1zM34 47h1v1h-1zM32 50h1v1h-1zM31 57h1v1h-1zM31 58h1v1h-1zM31 59h1v1h-1zM31 60h1v1h-1zM31 61h1v1h-1zM31 62h1v1h-1zM31 63h1v1h-1zM31 64h1v1h-1zM31 65h1v1h-1zM31 66h1v1h-1zM31 67h1v1h-1zM31 68h1v1h-1zM31 69h1v1h-1zM31 70h1v1h-1zM31 71h1v1h-1zM31 72h1v1h-1zM31 73h1v1h-1zM31 74h1v1h-1zM31 75h1v1h-1zM31 76h1v1h-1zM31 77h1v1h-1zM31 78h1v1h-1zM31 79h1v1h-1zM31 80h1v1h-1zM31 81h1v1h-1zM31 82h1v1h-1zM31 83h1v1h-1zM30 84h1v1h-1zM30 85h1v1h-1zM30 86h1v1h-1zM30 87h1v1h-1zM29 88h1v1h-1zM29 89h1v1h-1zM28 90h2v1h-2zM28 91h1v1h-1zM28 92h1v1h-1zM27 93h1v1h-1zM27 94h1v1h-1zM26 95h2v1h-2zM26 96h1v1h-1zM25 97h2v1h-2zM25 98h2v1h-2zM25 99h2v1h-2zM25 100h2v1h-2zM25 101h2v1h-2zM25 102h2v1h-2zM25 103h2v1h-2zM25 104h2v1h-2z"/>
<path fill="#3dff59" d="M55 10h1v1h-1zM53 16h1v1h-1zM52 19h1v1h-1zM51 22h1v1h-1zM47 30h1v1h-1zM46 32h1v1h-1zM44 35h1v1h-1zM43 36h1v1h-1zM41 39h1v1h-1zM39 42h1v1h-1zM38 43h1v1h-1zM34 48h1v1h-1zM33 49h1v1h-1zM32 51h1v1h-1zM31 52h1v1h-1zM31 53h1v1h-1zM31 54h1v1h-1zM31 55h1v1h-1zM31 56h1v1h-1zM32 70h1v1h-1zM32 71h1v1h-1zM32 72h1v1h-1zM32 73h1v1h-1zM32 74h1v1h-1zM32 75h1v1h-1zM32 76h1v1h-1zM32 77h1v1h-1zM32 78h1v1h-1zM32 79h1v1h-1zM32 80h1v1h-1zM32 81h1v1h-1zM32 82h1v1h-1zM32 83h1v1h-1zM31 84h1v1h-1zM31 85h1v1h-1zM31 86h1v1h-1zM31 87h1v1h-1zM30 88h1v1h-1zM30 89h1v1h-1zM30 90h1v1h-1zM29 91h1v1h-1zM29 92h1v1h-1zM28 93h2v1h-2zM28 94h1v1h-1zM28 95h1v1h-1zM27 96h1v1h-1zM27 97h1v1h-1zM27 98h1v1h-1zM27 99h1v1h-1zM27 100h1v1h-1zM27 101h1v1h-1zM27 102h1v1h-1zM27 103h1v1h-1zM27 104h1v1h-1z"/>
<path fill="#4cff54" d="M56 8h1v1h-1zM55 11h1v1h-1zM54 13h1v1h-1zM52 20h1v1h-1zM51 23h1v1h-1zM50 25h1v1h-1zM49 27h1v1h-1zM48 29h1v1h-1zM47 31h1v1h-1zM45 34h1v1h-1zM42 38h1v1h-1zM41 40h1v1h-1zM40 41h1v1h-1zM38 44h1v1h-1zM37 45h1v1h-1zM36 46h1v1h-1zM35 47h1v1h-1zM33 50h1v1h-1zM32 55h1v1h-1zM32 56h1v1h-1zM32 57h1v1h-1zM32 58h1v1h-1zM32 59h1v1h-1zM32 60h1v1h-1zM32 61h1v1h-1zM32 62h1v1h-1zM32 63h1v1h-1zM32 64h1v1h-1zM32 65h1v1h-1zM32 66h1v1h-1zM32 67h1v1h-1zM32 68h1v1h-1zM32 69h1v1h-1zM33 77h1v1h-1zM33 78h1v1h-1zM33 79h1v1h-1zM33 80h1v1h-1zM33 81h1v1h-1zM33 82h1v1h-1zM33 83h1v1h-1zM32 84h1v1h-1zM32 85h1v1h-1zM32 86h1v1h-1zM32 87h1v1h-1zM31 88h1v1h-1zM31 89h1v1h-1zM31 90h1v1h-1zM30 91h2v1h-2zM30 92h1v1h-1zM30 93h1v1h-1zM29 94h2v1h-2zM29 95h1v1h-1zM28 96h2v1h-2zM28 97h1v1h-1zM28 98h1v1h-1zM28 99h1v1h-1zM28 100h1v1h-1zM28 101h1v1h-1zM28 102h1v1h-1zM28 103h1v1h-1zM28 104h1v1h-1z"/>
<path fill="#59ff4f" d="M57 0h1v1h-1zM57 1h1v1h-1zM57 2h1v1h-1zM57 3h1v1h-1zM57 4h1v1h-1zM57 5h1v1h-1zM57 6h1v1h-1zM57 7h1v1h-1zM56 9h1v1h-1zM54 14h1v1h-1zM53 17h1v1h-1zM52 21h1v1h-1zM51 24h1v1h-1zM50 26h1v1h-1zM49 28h1v1h-1zM48 30h1v1h-1zM46 33h1v1h-1zM44 36h1v1h-1zM43 37h1v1h-1zM42 39h1v1h-1zM40 42h1v1h-1zM39 43h1v1h-1zM37 46h1v1h-1zM36 47h1v1h-1zM35 48h1v1h-1zM34 49h1v1h-1zM33 51h1v1h-1zM32 52h1v1h-1zM32 53h1v1h-1zM32 54h1v1h-1zM33 63h1v1h-1zM33 64h1v1h-1zM33 65h1v1h-1zM33 66h1v1h-1zM33 67h1v1h-1zM33 68h1v1h-1zM33 69h1v1h-1zM33 70h1v1h-1zM33 71h1v1h-1zM33 72h1v1h-1zM33 73h1v1h-1zM33 74h1v1h-1zM33 75h1v1h-1zM33 76h1v1h-1zM34 80h1v1h-1zM34 81h1v1h-1zM34 82h1v1h-1zM34 83h1v1h-1zM33 84h1v1h-1zM33 85h1v1h-1zM33 86h1v1h-1zM33 87h1v1h-1zM32 88h2v1h-2zM32 89h1v1h-1zM32 90h1v1h-1zM32 91h1v1h-1zM31 92h1v1h-1zM31 93h1v1h-1zM31 94h1v1h-1zM30 95h2v1h-2zM30 96h1v1h-1zM29 97h2v1h-2zM29 98h2v1h-2zM29 99h2v1h-2zM29 100h2v1h-2zM29 101h2v1h-2zM29 102h2v1h-2zM29 103h2v1h-2zM29 104h2v1h-2z"/>
<path fill="#64ff49" d="M56 10h1v1h-1zM55 12h1v1h-1zM54 15h1v1h-1zM53 18h1v1h-1zM52 22h1v1h-1zM50 27h1v1h-1zM49 29h1v1h-1zM47 32h1v1h-1zM46 34h1v1h-1zM45 35h1v1h-1zM43 38h1v1h-1zM41 41h1v1h-1zM39 44h1v1h-1zM38 45h1v1h-1zM35 49h1v1h-1zM34 50h1v1h-1zM33 54h1v1h-1zM33 55h1v1h-1zM33 56h1v1h-1zM33 57h1v1h-1zM33 58h1v1h-1zM33 59h1v1h-1zM33 60h1v1h-1zM33 61h1v1h-1zM33 62h1v1h-1zM34 68h1v1h-1zM34 69h1v1h-1zM34 70h1v1h-1zM34 71h1v1h-1zM34 72h1v1h-1zM34 73h1v1h-1zM34 74h1v1h-1zM34 75h1v1h-1zM34 76h1v1h-1zM34 77h1v1h-1zM34 78h1v1h-1zM34 79h1v1h-1zM35 81h1v1h-1zM35 82h1v1h-1zM34 84h1v1h-1zM34 85h1v1h-1zM34 86h1v1h-1zM34 87h1v1h-1zM34 88h1v1h-1zM33 89h1v1h-1zM33 90h1v1h-1zM33 91h1v1h-1zM32 92h2v1h-2zM32 93h1v1h-1zM32 94h1v1h-1zM32 95h1v1h-1zM31 96h2v1h-2zM31 97h1v1h-1zM31 98h1v1h-1zM31 99h1v1h-1zM31 100h1v1h-1zM31 101h1v1h-1zM31 102h1v1h-1zM31 103h1v1h-1zM31 104h1v1h-1z"/>
<path fill="#6eff43" d="M57 8h1v1h-1zM55 13h1v1h-1zM54 16h1v1h-1zM53 19h1v1h-1zM52 23h1v1h-1zM51 25h1v1h-1zM48 31h1v1h-1zM47 33h1v1h-1zM45 36h1v1h-1zM44 37h1v1h-1zM43 39h1v1h-1zM42 40h1v1h-1zM41 42h1v1h-1zM40 43h1v1h-1zM38 46h1v1h-1zM37 47h1v1h-1zM36 48h1v1h-1zM34 51h1v1h-1zM33 52h1v1h-1zM33 53h1v1h-1zM34 61h1v1h-1zM34 62h1v1h-1zM34 63h1v1h-1zM34 64h1v1h-1zM34 65h1v1h-1zM34 66h1v1h-1zM34 67h1v1h-1zM35 72h1v1h-1zM35 73h1v1h-1zM35 74h1v1h-1zM35 75h1v1h-1zM35 76h1v1h-1zM35 77h1v1h-1zM35 78h1v1h-1zM35 79h1v1h-1zM35 80h1v1h-1zM36 82h1v1h-1zM35 83h1v1h-1zM35 84h1v1h-1zM35 85h1v1h-1zM35 86h1v1h-1zM35 87h1v1h-1zM35 88h1v1h-1zM34 89h1v1h-1zM34 90h1v1h-1zM34 91h1v1h-1zM34 92h1v1h-1zM33 93h2v1h-2zM33 94h1v1h-1zM33 95h1v1h-1zM33 96h1v1h-1zM32 97h2v1h-2zM32 98h2v1h-2zM32 99h2v1h-2zM32 100h2v1h-2zM32 101h2v1h-2zM32 102h2v1h-2zM32 103h2v1h-2zM32 104h2v1h-2z"/>
<path fill="#77ff3d" d="M58 0h1v1h-1zM58 1h1v1h-1zM58 2h1v1h-1zM58 3h1v1h-1zM58 4h1v1h-1zM58 5h1v1h-1zM58 6h1v1h-1zM58 7h1v1h-1zM57 9h1v1h-1zM56 11h1v1h-1zM55 14h1v1h-1zM54 17h1v1h-1zM53 20h1v1h-1zM52 24h1v1h-1zM51 26h1v1h-1zM50 28h1v1h-1zM49 30h1v1h-1zM48 32h1v1h-1zM46 35h1v1h-1zM44 38h1v1h-1zM42 41h1v1h-1zM40 44h1v1h-1zM39 45h1v1h-1zM36 49h1v1h-1zM35 50h1v1h-1zM34 54h1v1h-1zM34 55h1v1h-1zM34 56h1v1h-1zM34 57h1v1h-1zM34 58h1v1h-1zM34 59h1v1h-1zM34 60h1v1h-1zM35 65h1v1h-1zM35 66h1v1h-1zM35 67h1v1h-1zM35 68h1v1h-1zM35 69h1v1h-1zM35 70h1v1h-1zM35 71h1v1h-1zM36 75h1v1h-1zM36 76h1v1h-1zM36 77h1v1h-1zM36 78h1v1h-1zM36 79h1v1h-1zM36 80h1v1h-1zM36 81h1v1h-1zM36 83h1v1h-1zM36 84h1v1h-1zM36 85h1v1h-1zM36 86h1v1h-1zM36 87h1v1h-1zM36 88h1v1h-1zM35 89h2v1h-2zM35 90h1v1h-1zM35 91h1v1h-1zM35 92h1v1h-1zM35 93h1v1h-1zM34 94h2v1h-2zM34 95h1v1h-1zM34 96h1v1h-1zM34 97h1v1h-1zM34 98h1v1h-1zM34 99h1v1h-1zM34 100h1v1h-1zM34 101h1v1h-1zM34 102h1v1h-1zM34 103h1v1h-1zM34 104h1v1h-1z"/>
<path fill="#80ff37" d="M57 10h1v1h-1zM56 12h1v1h-1zM55 15h1v1h-1zM54 18h1v1h-1zM53 21h1v1h-1zM51 27h1v1h-1zM50 29h1v1h-1zM49 31h1v1h-1zM47 34h1v1h-1zM45 37h1v1h-1zM44 39h1v1h-1zM43 40h1v1h-1zM42 42h1v1h-1zM41 43h1v1h-1zM39 46h1v1h-1zM38 47h1v1h-1zM37 48h1v1h-1zM35 51h1v1h-1zM34 52h1v1h-1zM34 53h1v1h-1zM35 59h1v1h-1zM35 60h1v1h-1zM35 61h1v1h-1zM35 62h1v1h-1zM35 63h1v1h-1zM35 64h1v1h-1zM36 68h1v1h-1zM36 69h1v1h-1zM36 70h1v1h-1zM36 71h1v1h-1zM36 72h1v1h-1zM36 73h1v1h-1zM36 74h1v1h-1zM37 77h1v1h-1zM37 78h1v1h-1zM37 79h1v1h-1zM37 80h1v1h-1zM37 81h2v1h-2zM37 82h2v1h-2zM37 83h2v1h-2zM37 84h2v1h-2zM37 85h2v1h-2zM37 86h1v1h-1zM37 87h1v1h-1zM37 88h1v1h-1zM37 89h1v1h-1zM36 90h2v1h-2zM36 91h1v1h-1zM36 92h1v1h-1zM36 93h1v1h-1zM36 94h1v1h-1zM35 95h2v1h-2zM35 96h2v1h-2zM35 97h1v1h-1zM35 98h1v1h-1zM35 99h1v1h-1zM35 100h1v1h-1zM35 101h1v1h-1zM35 102h1v1h-1zM35 103h1v1h-1zM35 104h1v1h-1z"/>
<path fill="#88ff30" d="M58 8h1v1h-1zM56 13h1v1h-1zM53 22h1v1h-1zM52 25h1v1h-1zM51 28h1v1h-1zM50 30h1v1h-1zM48 33h1v1h-1zM47 35h1v1h-1zM46 36h1v1h-1zM45 38h1v1h-1zM43 41h1v1h-1zM41 44h1v1h-1zM40 45h1v1h-1zM38 48h1v1h-1zM37 49h1v1h-1zM36 50h1v1h-1zM35 53h1v1h-1zM35 54h1v1h-1zM35 55h1v1h-1zM35 56h1v1h-1zM35 57h1v1h-1zM35 58h1v1h-1zM36 63h1v1h-1zM36 64h1v1h-1zM36 65h1v1h-1zM36 66h1v1h-1zM36 67h1v1h-1zM37 71h1v1h-1zM37 72h1v1h-1zM37 73h1v1h-1zM37 74h1v1h-1zM37 75h2v1h-2zM37 76h2v1h-2zM38 77h1v1h-1zM38 78h1v1h-1zM38 79h2v1h-2zM38 80h2v1h-2zM39 81h1v1h-1zM39 82h1v1h-1zM39 83h1v1h-1zM39 84h1v1h-1zM39 85h1v1h-1zM38 86h2v1h-2zM38 87h2v1h-2zM38 88h2v1h-2zM38 89h2v1h-2zM38 90h2v1h-2zM37 91h3v1h-3zM37 92h3v1h-3zM37 93h4v1h-4zM37 94h4v1h-4zM37 95h4v1h-4zM37 96h5v1h-5zM36 97h13v1h-13zM36 98h13v1h-13zM36 99h13v1h-13zM36 100h13v1h-13zM36 101h13v1h-13zM36 102h13v1h-13zM36 103h13v1h-13zM36 104h13v1h-13z"/>
<path fill="#90ff28" d="M59 0h1v1h-1zM59 1h1v1h-1zM59 2h1v1h-1zM59 3h1v1h-1zM59 4h1v1h-1zM59 5h1v1h-1zM59 6h1v1h-1zM59 7h1v1h-1zM58 9h1v1h-1zM57 11h1v1h-1zM55 16h1v1h-1zM54 19h1v1h-1zM53 23h1v1h-1zM52 26h1v1h-1zM49 32h1v1h-1zM48 34h1v1h-1zM46 37h1v1h-1zM45 39h1v1h-1zM44 40h1v1h-1zM43 42h1v1h-1zM42 43h1v1h-1zM41 45h1v1h-1zM40 46h1v1h-1zM39 47h1v1h-1zM36 51h1v1h-1zM35 52h1v1h-1zM36 58h1v1h-1zM36 59h1v1h-1zM36 60h1v1h-1zM36 61h1v1h-1zM36 62h1v1h-1zM37 66h1v1h-1zM37 67h1v1h-1zM37 68h1v1h-1zM37 69h2v1h-2zM37 70h2v1h-2zM38 71h1v1h-1zM38 72h1v1h-1zM38 73h2v1h-2zM38 74h2v1h-2zM39 75h1v1h-1zM39 76h1v1h-1zM39 77h2v1h-2zM39 78h2v1h-2zM40 79h1v1h-1zM40 80h1v1h-1zM40 81h1v1h-1zM40 82h1v1h-1zM40 83h2v1h-2zM40 84h2v1h-2zM40 85h2v1h-2zM40 86h2v1h-2zM40 87h2v1h-2zM40 88h2v1h-2zM40 89h3v1h-3zM40 90h3v1h-3zM40 91h4v1h-4zM40 92h4v1h-4zM41 93h4v1h-4zM41 94h6v1h-6zM41 95h9v1h-9zM42 96h11v1h-11zM49 97h4v1h-4zM49 98h4v1h-4zM49 99h4v1h-4zM49 100h4v1h-4zM49 101h4v1h-4zM49 102h4v1h-4zM49 103h4v1h-4zM49 104h4v1h-4z"/>
<path fill="#97ff1f" d="M59 8h1v1h-1zM58 10h1v1h-1zM57 12h1v1h-1zM56 14h1v1h-1zM55 17h1v1h-1zM54 20h1v1h-1zM53 24h1v1h-1zM52 27h1v1h-1zM51 29h1v1h-1zM50 31h1v1h-1zM49 33h1v1h-1zM47 36h1v1h-1zM46 38h1v1h-1zM44 41h1v1h-1zM42 44h1v1h-1zM40 47h1v1h-1zM39 48h1v1h-1zM38 49h1v1h-1zM37 50h1v1h-1zM36 53h1v1h-1zM36 54h1v1h-1zM36 55h1v1h-1zM36 56h1v1h-1zM36 57h1v1h-1zM37 62h1v1h-1zM37 63h1v1h-1zM37 64h1v1h-1zM37 65h2v1h-2zM38 66h1v1h-1zM38 67h2v1h-2zM38 68h2v1h-2zM39 69h1v1h-1zM39 70h2v1h-2zM39 71h2v1h-2zM39 72h2v1h-2zM40 73h1v1h-1zM40 74h1v1h-1zM40 75h2v1h-2zM40 76h2v1h-2zM41 77h1v1h-1zM41 78h1v1h-1zM41 79h1v1h-1zM41 80h1v1h-1zM41 81h2v1h-2zM41 82h2v1h-2zM42 83h1v1h-1zM42 84h1v1h-1zM42 85h1v1h-1zM42 86h2v1h-2zM42 87h2v1h-2zM42 88h3v1h-3zM43 89h2v1h-2zM43 90h3v1h-3zM44 91h3v1h-3zM44 92h4v1h-4zM45 93h5v1h-5zM47 94h6v1h-6zM50 95h3v1h-3z"/>
<path fill="#9fff13" d="M56 15h1v1h-1zM55 18h1v1h-1zM54 21h1v1h-1zM53 25h1v1h-1zM52 28h1v1h-1zM51 30h1v1h-1zM50 32h1v1h-1zM49 34h1v1h-1zM48 35h1v1h-1zM47 37h1v1h-1zM45 40h1v1h-1zM44 42h1v1h-1zM43 43h1v1h-1zM42 45h1v1h-1zM41 46h1v1h-1zM38 50h1v1h-1zM37 51h1v1h-1zM36 52h1v1h-1zM37 57h1v1h-1zM37 58h1v1h-1zM37 59h1v1h-1zM37 60h1v1h-1zM37 61h1v1h-1zM38 62h1v1h-1zM38 63h1v1h-1zM38 64h2v1h-2zM39 65h1v1h-1zM39 66h2v1h-2zM40 67h2v1h-2zM40 68h2v1h-2zM40 69h2v1h-2zM41 70h1v1h-1zM41 71h1v1h-1zM41 72h2v1h-2zM41 73h2v1h-2zM41 74h2v1h-2zM42 75h1v1h-1zM42 76h1v1h-1zM42 77h1v1h-1zM42 78h1v1h-1zM42 79h2v1h-2zM42 80h2v1h-2zM43 81h1v1h-1zM43 82h1v1h-1zM43 83h1v1h-1zM43 84h2v1h-2zM43 85h2v1h-2zM44 86h1v1h-1zM44 87h2v1h-2zM45 88h2v1h-2zM45 89h2v1h-2zM46 90h2v1h-2zM47 91h3v1h-3zM48 92h4v1h-4zM50 93h3v1h-3z"/>
<path fill="#a6ff00" d="M60 0h1v1h-1zM60 1h1v1h-1zM60 2h1v1h-1zM60 3h1v1h-1zM60 4h1v1h-1zM60 5h1v1h-1zM60 6h1v1h-1zM60 7h1v1h-1zM59 9h1v1h-1zM58 11h1v1h-1zM57 13h1v1h-1zM56 16h1v1h-1zM55 19h1v1h-1zM54 22h1v1h-1zM52 29h1v1h-1zM51 31h1v1h-1zM50 33h1v1h-1zM48 36h1v1h-1zM47 38h1v1h-1zM46 39h1v1h-1zM45 41h1v1h-1zM44 43h1v1h-1zM43 44h1v1h-1zM41 47h1v1h-1zM40 48h1v1h-1zM39 49h1v1h-1zM37 53h1v1h-1zM37 54h1v1h-1zM37 55h1v1h-1zM37 56h1v1h-1zM38 58h1v1h-1zM38 59h1v1h-1zM38 60h1v1h-1zM38 61h1v1h-1zM39 62h1v1h-1zM39 63h1v1h-1zM40 64h1v1h-1zM40 65h2v1h-2zM41 66h1v1h-1zM42 67h1v1h-1zM42 68h1v1h-1zM42 69h2v1h-2zM42 70h2v1h-2zM42 71h2v1h-2zM43 72h1v1h-1zM43 73h1v1h-1zM43 74h1v1h-1zM43 75h1v1h-1zM43 76h2v1h-2zM43 77h2v1h-2zM43 78h2v1h-2zM44 79h1v1h-1zM44 80h1v1h-1zM44 81h1v1h-1zM44 82h1v1h-1zM44 83h2v1h-2zM45 84h1v1h-1zM45 85h2v1h-2zM45 86h2v1h-2zM46 87h2v1h-2zM47 88h2v1h-2zM47 89h3v1h-3zM48 90h3v1h-3zM50 91h3v1h-3zM52 92h1v1h-1z"/>
<path fill="#acff00" d="M60 8h1v1h-1zM58 12h1v1h-1zM57 14h1v1h-1zM54 23h1v1h-1zM53 26h1v1h-1zM49 35h1v1h-1zM48 37h1v1h-1zM46 40h1v1h-1zM45 42h1v1h-1zM43 45h1v1h-1zM42 46h1v1h-1zM40 49h1v1h-1zM39 50h1v1h-1zM38 51h1v1h-1zM37 52h1v1h-1zM38 55h1v1h-1zM38 56h1v1h-1zM38 57h1v1h-1zM39 59h1v1h-1zM39 60h1v1h-1zM39 61h1v1h-1zM40 62h1v1h-1zM40 63h1v1h-1zM41 64h1v1h-1zM42 65h1v1h-1zM42 66h2v1h-2zM43 67h2v1h-2zM43 68h2v1h-2zM44 69h1v1h-1zM44 70h1v1h-1zM44 71h1v1h-1zM44 72h2v1h-2zM44 73h2v1h-2zM44 74h2v1h-2zM44 75h2v1h-2zM45 76h1v1h-1zM45 77h1v1h-1zM45 78h1v1h-1zM45 79h1v1h-1zM45 80h1v1h-1zM45 81h2v1h-2zM45 82h2v1h-2zM46 83h1v1h-1zM46 84h2v1h-2zM47 85h1v1h-1zM47 86h2v1h-2zM48 87h2v1h-2zM49 88h2v1h-2zM50 89h2v1h-2zM51 90h2v1h-2zM53 96h1v1h-1zM53 97h1v1h-1zM53 98h1v1h-1zM53 99h1v1h-1zM53 100h1v1h-1zM53 101h1v1h-1zM53 102h1v1h-1zM53 103h1v1h-1zM53 104h1v1h-1z"/>
<path fill="#b3ff00" d="M59 10h1v1h-1zM57 15h1v1h-1zM56 17h1v1h-1zM55 20h1v1h-1zM54 24h1v1h-1zM53 27h1v1h-1zM52 30h1v1h-1zM51 32h1v1h-1zM50 34h1v1h-1zM49 36h1v1h-1zM47 39h1v1h-1zM46 41h1v1h-1zM45 43h1v1h-1zM44 44h1v1h-1zM43 46h1v1h-1zM42 47h1v1h-1zM41 48h1v1h-1zM39 51h1v1h-1zM38 52h1v1h-1zM38 53h1v1h-1zM38 54h1v1h-1zM39 56h1v1h-1zM39 57h1v1h-1zM39 58h1v1h-1zM40 59h1v1h-1zM40 60h1v1h-1zM40 61h1v1h-1zM41 62h1v1h-1zM41 63h2v1h-2zM42 64h1v1h-1zM43 65h1v1h-1zM44 66h1v1h-1zM45 67h2v1h-2zM45 68h2v1h-2zM45 69h2v1h-2zM45 70h2v1h-2zM45 71h2v1h-2zM46 72h1v1h-1zM46 73h1v1h-1zM46 74h1v1h-1zM46 75h1v1h-1zM46 76h1v1h-1zM46 77h2v1h-2zM46 78h2v1h-2zM46 79h2v1h-2zM46 80h2v1h-2zM47 81h1v1h-1zM47 82h1v1h-1zM47 83h1v1h-1zM48 84h1v1h-1zM48 85h2v1h-2zM49 86h2v1h-2zM50 87h2v1h-2zM51 88h2v1h-2zM52 89h1v1h-1zM53 95h1v1h-1z"/>
<path fill="#b9ff00" d="M61 0h1v1h-1zM61 1h1v1h-1zM61 2h1v1h-1zM61 3h1v1h-1zM61 4h1v1h-1zM61 5h1v1h-1zM61 6h1v1h-1zM61 7h1v1h-1zM60 9h1v1h-1zM59 11h1v1h-1zM58 13h1v1h-1zM56 18h1v1h-1zM55 21h1v1h-1zM54 25h1v1h-1zM53 28h1v1h-1zM52 31h1v1h-1zM51 33h1v1h-1zM50 35h1v1h-1zM48 38h1v1h-1zM47 40h1v1h-1zM46 42h1v1h-1zM44 45h1v1h-1zM42 48h1v1h-1zM41 49h1v1h-1zM40 50h1v1h-1zM39 54h1v1h-1zM39 55h1v1h-1zM40 57h1v1h-1zM40 58h1v1h-1zM41 60h1v1h-1zM41 61h1v1h-1zM42 62h1v1h-1zM43 63h1v1h-1zM43 64h2v1h-2zM44 65h2v1h-2zM45 66h2v1h-2zM47 67h1v1h-1zM47 68h1v1h-1zM47 69h1v1h-1zM47 70h1v1h-1zM47 71h2v1h-2zM47 72h2v1h-2zM47 73h2v1h-2zM47 74h2v1h-2zM47 75h2v1h-2zM47 76h2v1h-2zM48 77h1v1h-1zM48 78h1v1h-1zM48 79h1v1h-1zM48 80h1v1h-1zM48 81h1v1h-1zM48 82h1v1h-1zM48 83h2v1h-2zM49 84h2v1h-2zM50 85h1v1h-1zM51 86h1v1h-1zM52 87h1v1h-1zM53 93h1v1h-1zM53 94h1v1h-1z"/>
<path fill="#c0ff00" d="M61 8h1v1h-1zM58 14h1v1h-1zM57 16h1v1h-1zM56 19h1v1h-1zM55 22h1v1h-1zM54 26h1v1h-1zM53 29h1v1h-1zM52 32h1v1h-1zM51 34h1v1h-1zM50 36h1v1h-1zM49 37h1v1h-1zM48 39h1v1h-1zM47 41h1v1h-1zM46 43h1v1h-1zM45 44h1v1h-1zM44 46h1v1h-1zM43 47h1v1h-1zM41 50h1v1h-1zM40 51h1v1h-1zM39 52h1v1h-1zM39 53h1v1h-1zM40 55h1v1h-1zM40 56h1v1h-1zM41 58h1v1h-1zM41 59h1v1h-1zM42 60h1v1h-1zM42 61h1v1h-1zM43 62h1v1h-1zM44 63h1v1h-1zM45 64h1v1h-1zM46 65h1v1h-1zM47 66h1v1h-1zM48 67h2v1h-2zM48 68h2v1h-2zM48 69h2v1h-2zM48 70h2v1h-2zM49 71h1v1h-1zM49 72h1v1h-1zM49 73h1v1h-1zM49 74h1v1h-1zM49 75h1v1h-1zM49 76h1v1h-1zM49 77h1v1h-1zM49 78h1v1h-1zM49 79h1v1h-1zM49 80h1v1h-1zM49 81h1v1h-1zM49 82h2v1h-2zM50 83h1v1h-1zM51 84h1v1h-1zM51 85h2v1h-2zM52 86h1v1h-1zM53 91h1v1h-1zM53 92h1v1h-1z"/>
<path fill="#c6ff00" d="M60 10h1v1h-1zM59 12h1v1h-1zM57 17h1v1h-1zM56 20h1v1h-1zM55 23h1v1h-1zM53 30h1v1h-1zM52 33h1v1h-1zM51 35h1v1h-1zM49 38h1v1h-1zM48 40h1v1h-1zM47 42h1v1h-1zM45 45h1v1h-1zM43 48h1v1h-1zM42 49h1v1h-1zM40 53h1v1h-1zM40 54h1v1h-1zM41 56h1v1h-1zM41 57h1v1h-1zM42 58h1v1h-1zM42 59h1v1h-1zM43 60h1v1h-1zM43 61h1v1h-1zM44 62h1v1h-1zM45 63h1v1h-1zM46 64h1v1h-1zM47 65h1v1h-1zM48 66h2v1h-2zM50 67h2v1h-2zM50 68h2v1h-2zM50 69h2v1h-2zM50 70h2v1h-2zM50 71h2v1h-2zM50 72h2v1h-2zM50 73h2v1h-2zM50 74h2v1h-2zM50 75h2v1h-2zM50 76h2v1h-2zM50 77h2v1h-2zM50 78h2v1h-2zM50 79h2v1h-2zM50 80h2v1h-2zM50 81h2v1h-2zM51 82h1v1h-1zM51 83h2v1h-2zM52 84h1v1h-1zM53 90h1v1h-1zM54 97h1v1h-1zM54 98h1v1h-1zM54 99h1v1h-1zM54 100h1v1h-1zM54 101h1v1h-1zM54 102h1v1h-1zM54 103h1v1h-1zM54 104h1v1h-1z"/>
<path fill="#ccff00" d="M62 0h1v1h-1zM62 1h1v1h-1zM62 2h1v1h-1zM62 3h1v1h-1zM62 4h1v1h-1zM62 5h1v1h-1zM62 6h1v1h-1zM62 7h1v1h-1zM61 9h1v1h-1zM60 11h1v1h-1zM59 13h1v1h-1zM58 15h1v1h-1zM55 24h1v1h-1zM54 27h1v1h-1zM53 31h1v1h-1zM52 34h1v1h-1zM50 37h1v1h-1zM49 39h1v1h-1zM48 41h1v1h-1zM47 43h1v1h-1zM46 44h1v1h-1zM45 46h1v1h-1zM44 47h1v1h-1zM43 49h1v1h-1zM42 50h1v1h-1zM41 51h1v1h-1zM40 52h1v1h-1zM41 54h1v1h-1zM41 55h1v1h-1zM42 56h1v1h-1zM42 57h1v1h-1zM43 58h1v1h-1zM43 59h1v1h-1zM44 60h1v1h-1zM44 61h1v1h-1zM45 62h1v1h-1zM46 63h1v1h-1zM47 64h1v1h-1zM48 65h2v1h-2zM50 66h1v1h-1zM52 67h1v1h-1zM52 68h1v1h-1zM52 69h1v1h-1zM52 70h1v1h-1zM52 71h1v1h-1zM52 72h1v1h-1zM52 73h1v1h-1zM52 74h1v1h-1zM52 75h1v1h-1zM52 76h1v1h-1zM52 77h1v1h-1zM52 78h1v1h-1zM52 79h1v1h-1zM52 80h1v1h-1zM52 81h1v1h-1zM52 82h1v1h-1zM53 88h1v1h-1zM53 89h1v1h-1zM54 95h1v1h-1zM54 96h1v1h-1z"/>
<path fill="#d2ff00" d="M62 8h1v1h-1zM58 16h1v1h-1zM57 18h1v1h-1zM56 21h1v1h-1zM55 25h1v1h-1zM54 28h1v1h-1zM51 36h1v1h-1zM50 38h1v1h-1zM49 40h1v1h-1zM48 42h1v1h-1zM47 44h1v1h-1zM46 45h1v1h-1zM45 47h1v1h-1zM44 48h1v1h-1zM42 51h1v1h-1zM41 52h1v1h-1zM41 53h1v1h-1zM42 55h1v1h-1zM43 57h1v1h-1zM44 59h1v1h-1zM45 60h1v1h-1zM45 61h1v1h-1zM46 62h1v1h-1zM47 63h1v1h-1zM48 64h2v1h-2zM50 65h1v1h-1zM51 66h2v1h-2zM53 86h1v1h-1zM53 87h1v1h-1zM54 93h1v1h-1zM54 94h1v1h-1z"/>
<path fill="#d8ff00" d="M63 0h1v1h-1zM63 1h1v1h-1zM63 2h1v1h-1zM63 3h1v1h-1zM63 4h1v1h-1zM63 5h1v1h-1zM63 6h1v1h-1zM63 7h1v1h-1zM61 10h1v1h-1zM60 12h1v1h-1zM59 14h1v1h-1zM57 19h1v1h-1zM56 22h1v1h-1zM55 26h1v1h-1zM54 29h1v1h-1zM53 32h1v1h-1zM52 35h1v1h-1zM51 37h1v1h-1zM50 39h1v1h-1zM49 41h1v1h-1zM48 43h1v1h-1zM46 46h1v1h-1zM44 49h1v1h-1zM43 50h1v1h-1zM42 53h1v1h-1zM42 54h1v1h-1zM43 55h1v1h-1zM43 56h1v1h-1zM44 57h1v1h-1zM44 58h1v1h-1zM45 59h1v1h-1zM46 60h1v1h-1zM46 61h1v1h-1zM47 62h1v1h-1zM48 63h2v1h-2zM50 64h1v1h-1zM51 65h1v1h-1zM53 85h1v1h-1zM54 91h1v1h-1zM54 92h1v1h-1z"/>
<path fill="#deff00" d="M62 9h1v1h-1zM59 15h1v1h-1zM58 17h1v1h-1zM57 20h1v1h-1zM56 23h1v1h-1zM55 27h1v1h-1zM54 30h1v1h-1zM53 33h1v1h-1zM52 36h1v1h-1zM51 38h1v1h-1zM50 40h1v1h-1zM49 42h1v1h-1zM48 44h1v1h-1zM47 45h1v1h-1zM46 47h1v1h-1zM45 48h1v1h-1zM44 50h1v1h-1zM43 51h1v1h-1zM42 52h1v1h-1zM43 54h1v1h-1zM44 56h1v1h-1zM45 58h1v1h-1zM46 59h1v1h-1zM47 60h1v1h-1zM47 61h1v1h-1zM48 62h1v1h-1zM50 63h1v1h-1zM51 64h1v1h-1zM52 65h1v1h-1zM53 67h1v1h-1zM53 83h1v1h-1zM53 84h1v1h-1zM54 90h1v1h-1zM55 97h1v1h-1zM55 98h1v1h-1zM55 99h1v1h-1zM55 100h1v1h-1zM55 101h1v1h-1zM55 102h1v1h-1zM55 103h1v1h-1zM55 104h1v1h-1z"/>
<path fill="#e3ff00" d="M63 8h1v1h-1zM61 11h1v1h-1zM60 13h1v1h-1zM58 18h1v1h-1zM56 24h1v1h-1zM55 28h1v1h-1zM54 31h1v1h-1zM53 34h1v1h-1zM52 37h1v1h-1zM51 39h1v1h-1zM50 41h1v1h-1zM49 43h1v1h-1zM47 46h1v1h-1zM46 48h1v1h-1zM45 49h1v1h-1zM43 52h1v1h-1zM43 53h1v1h-1zM44 55h1v1h-1zM45 56h1v1h-1zM45 57h1v1h-1zM46 58h1v1h-1zM47 59h1v1h-1zM48 61h1v1h-1zM49 62h2v1h-2zM51 63h1v1h-1zM52 64h1v1h-1zM53 68h1v1h-1zM53 69h1v1h-1zM53 70h1v1h-1zM53 71h1v1h-1zM53 72h1v1h-1zM53 73h1v1h-1zM53 74h1v1h-1zM53 75h1v1h-1zM53 76h1v1h-1zM53 77h1v1h-1zM53 78h1v1h-1zM53 79h1v1h-1zM53 80h1v1h-1zM53 81h1v1h-1zM53 82h1v1h-1zM54 88h1v1h-1zM54 89h1v1h-1zM55 95h1v1h-1zM55 96h1v1h-1z"/>
<path fill="#e9ff00" d="M64 0h1v1h-1zM64 1h1v1h-1zM64 2h1v1h-1zM64 3h1v1h-1zM64 4h1v1h-1zM64 5h1v1h-1zM64 6h1v1h-1zM64 7h1v1h-1zM62 10h1v1h-1zM61 12h1v1h-1zM60 14h1v1h-1zM59 16h1v1h-1zM57 21h1v1h-1zM56 25h1v1h-1zM55 29h1v1h-1zM54 32h1v1h-1zM53 35h1v1h-1zM52 38h1v1h-1zM51 40h1v1h-1zM50 42h1v1h-1zM49 44h1v1h-1zM48 45h1v1h-1zM47 47h1v1h-1zM45 50h1v1h-1zM44 51h1v1h-1zM44 53h1v1h-1zM44 54h1v1h-1zM45 55h1v1h-1zM46 57h1v1h-1zM47 58h1v1h-1zM48 60h1v1h-1zM49 61h1v1h-1zM51 62h1v1h-1zM52 63h1v1h-1zM53 66h1v1h-1zM54 86h1v1h-1zM54 87h1v1h-1zM55 93h1v1h-1zM55 94h1v1h-1z"/>
<path fill="#efff00" d="M63 9h1v1h-1zM59 17h1v1h-1zM58 19h1v1h-1zM57 22h1v1h-1zM56 26h1v1h-1zM55 30h1v1h-1zM54 33h1v1h-1zM53 36h1v1h-1zM52 39h1v1h-1zM51 41h1v1h-1zM50 43h1v1h-1zM49 45h1v1h-1zM48 46h1v1h-1zM47 48h1v1h-1zM46 49h1v1h-1zM45 51h1v1h-1zM44 52h1v1h-1zM45 54h1v1h-1zM46 56h1v1h-1zM47 57h1v1h-1zM48 59h1v1h-1zM49 60h1v1h-1zM50 61h1v1h-1zM52 62h1v1h-1zM53 65h1v1h-1zM54 85h1v1h-1zM55 92h1v1h-1z"/>
<path fill="#f4ff00" d="M64 8h1v1h-1zM62 11h1v1h-1zM61 13h1v1h-1zM60 15h1v1h-1zM58 20h1v1h-1zM57 23h1v1h-1zM56 27h1v1h-1zM55 31h1v1h-1zM54 34h1v1h-1zM53 37h1v1h-1zM52 40h1v1h-1zM51 42h1v1h-1zM50 44h1v1h-1zM48 47h1v1h-1zM47 49h1v1h-1zM46 50h1v1h-1zM45 53h1v1h-1zM46 55h1v1h-1zM47 56h1v1h-1zM48 58h1v1h-1zM49 59h1v1h-1zM50 60h1v1h-1zM51 61h1v1h-1zM53 64h1v1h-1zM54 67h1v1h-1zM54 68h1v1h-1zM54 69h1v1h-1zM54 70h1v1h-1zM54 71h1v1h-1zM54 72h1v1h-1zM54 73h1v1h-1zM54 74h1v1h-1zM54 75h1v1h-1zM54 76h1v1h-1zM54 77h1v1h-1zM54 83h1v1h-1zM54 84h1v1h-1zM55 90h1v1h-1zM55 91h1v1h-1zM56 97h1v1h-1zM56 98h1v1h-1zM56 99h1v1h-1zM56 100h1v1h-1zM56 101h1v1h-1zM56 102h1v1h-1zM56 103h1v1h-1zM56 104h1v1h-1z"/>
<path fill="#faff00" d="M65 0h1v1h-1zM65 1h1v1h-1zM65 2h1v1h-1zM65 3h1v1h-1zM65 4h1v1h-1zM65 5h1v1h-1zM65 6h1v1h-1zM65 7h1v1h-1zM63 10h1v1h-1zM62 12h1v1h-1zM60 16h1v1h-1zM59 18h1v1h-1zM57 24h1v1h-1zM56 28h1v1h-1zM55 32h1v1h-1zM54 35h1v1h-1zM53 38h1v1h-1zM52 41h1v1h-1zM51 43h1v1h-1zM50 45h1v1h-1zM49 46h1v1h-1zM48 48h1v1h-1zM46 51h1v1h-1zM45 52h1v1h-1zM46 53h1v1h-1zM46 54h1v1h-1zM47 55h1v1h-1zM48 57h1v1h-1zM49 58h1v1h-1zM50 59h1v1h-1zM51 60h1v1h-1zM52 61h1v1h-1zM53 63h1v1h-1zM54 66h1v1h-1zM54 78h1v1h-1zM54 79h1v1h-1zM54 80h1v1h-1zM54 81h1v1h-1zM54 82h1v1h-1zM55 88h1v1h-1zM55 89h1v1h-1zM56 95h1v1h-1zM56 96h1v1h-1z"/>
<path fill="#ffff00" d="M64 9h1v1h-1zM61 14h1v1h-1zM58 21h1v1h-1zM57 25h1v1h-1zM56 29h1v1h-1zM55 33h1v1h-1zM54 36h1v1h-1zM53 39h1v1h-1zM52 42h1v1h-1zM51 44h1v1h-1zM50 46h1v1h-1zM49 47h1v1h-1zM48 49h1v1h-1zM47 50h1v1h-1zM46 52h1v1h-1zM47 54h1v1h-1zM48 56h1v1h-1zM49 57h1v1h-1zM50 58h1v1h-1zM51 59h1v1h-1zM52 60h1v1h-1zM53 62h1v1h-1zM54 65h1v1h-1zM55 86h1v1h-1zM55 87h1v1h-1zM56 94h1v1h-1z"/>
<path fill="#fffb00" d="M65 8h1v1h-1zM63 11h1v1h-1zM62 13h1v1h-1zM61 15h1v1h-1zM60 17h1v1h-1zM59 19h1v1h-1zM58 22h1v1h-1zM57 26h1v1h-1zM56 30h1v1h-1zM54 37h1v1h-1zM53 40h1v1h-1zM52 43h1v1h-1zM51 45h1v1h-1zM50 47h1v1h-1zM49 48h1v1h-1zM48 50h1v1h-1zM47 51h1v1h-1zM47 53h1v1h-1zM48 55h1v1h-1zM49 56h1v1h-1zM50 57h1v1h-1zM51 58h1v1h-1zM52 59h1v1h-1zM54 64h1v1h-1zM55 67h1v1h-1zM55 68h1v1h-1zM55 85h1v1h-1zM56 92h1v1h-1zM56 93h1v1h-1z"/>
<path fill="#fff700" d="M66 0h1v1h-1zM66 1h1v1h-1zM66 2h1v1h-1zM66 3h1v1h-1zM66 4h1v1h-1zM66 5h1v1h-1zM66 6h1v1h-1zM66 7h1v1h-1zM64 10h1v1h-1zM59 20h1v1h-1zM58 23h1v1h-1zM57 27h1v1h-1zM56 31h1v1h-1zM55 34h1v1h-1zM54 38h1v1h-1zM53 41h1v1h-1zM52 44h1v1h-1zM51 46h1v1h-1zM50 48h1v1h-1zM49 49h1v1h-1zM48 51h1v1h-1zM47 52h1v1h-1zM48 53h1v1h-1zM48 54h1v1h-1zM49 55h1v1h-1zM50 56h1v1h-1zM51 57h1v1h-1zM52 58h1v1h-1zM53 61h1v1h-1zM54 63h1v1h-1zM55 66h1v1h-1zM55 69h1v1h-1zM55 70h1v1h-1zM55 71h1v1h-1zM55 72h1v1h-1zM55 73h1v1h-1zM55 74h1v1h-1zM55 75h1v1h-1zM55 76h1v1h-1zM55 77h1v1h-1zM55 78h1v1h-1zM55 79h1v1h-1zM55 80h1v1h-1zM55 83h1v1h-1zM55 84h1v1h-1zM56 90h1v1h-1zM56 91h1v1h-1z"/>
<path fill="#fff300" d="M65 9h1v1h-1zM63 12h1v1h-1zM62 14h1v1h-1zM61 16h1v1h-1zM60 18h1v1h-1zM58 24h1v1h-1zM57 28h1v1h-1zM56 32h1v1h-1zM55 35h1v1h-1zM54 39h1v1h-1zM53 42h1v1h-1zM52 45h1v1h-1zM51 47h1v1h-1zM49 50h1v1h-1zM48 52h1v1h-1zM49 54h1v1h-1zM50 55h1v1h-1zM53 60h1v1h-1zM54 62h1v1h-1zM55 65h1v1h-1zM55 81h1v1h-1zM55 82h1v1h-1zM56 88h1v1h-1zM56 89h1v1h-1zM57 96h1v1h-1zM57 97h1v1h-1zM57 98h1v1h-1zM57 99h1v1h-1zM57 100h1v1h-1zM57 101h1v1h-1zM57 102h1v1h-1zM57 103h1v1h-1zM57 104h1v1h-1z"/>
<path fill="#fff000" d="M78 0h12v1h-12zM78 1h12v1h-12zM78 2h12v1h-12zM78 3h12v1h-12zM78 4h12v1h-12zM78 5h12v1h-12zM78 6h12v1h-12zM78 7h12v1h-12zM66 8h1v1h-1zM64 11h1v1h-1zM60 19h1v1h-1zM59 21h1v1h-1zM58 25h1v1h-1zM57 29h1v1h-1zM56 33h1v1h-1zM55 36h1v1h-1zM54 40h1v1h-1zM53 43h1v1h-1zM52 46h1v1h-1zM51 48h1v1h-1zM50 49h1v1h-1zM49 51h1v1h-1zM49 53h1v1h-1zM50 54h1v1h-1zM51 56h1v1h-1zM52 57h1v1h-1zM53 59h1v1h-1zM54 61h1v1h-1zM55 64h1v1h-1zM56 86h1v1h-1zM56 87h1v1h-1zM57 94h1v1h-1zM57 95h1v1h-1z"/>
<path fill="#ffec00" d="M67 0h11v1h-11zM67 1h11v1h-11zM67 2h11v1h-11zM67 3h11v1h-11zM67 4h11v1h-11zM67 5h11v1h-11zM67 6h11v1h-11zM67 7h11v1h-11zM65 10h1v1h-1zM63 13h1v1h-1zM62 15h1v1h-1zM61 17h1v1h-1zM59 22h1v1h-1zM58 26h1v1h-1zM57 30h1v1h-1zM57 31h1v1h-1zM56 34h1v1h-1zM55 37h1v1h-1zM55 38h1v1h-1zM54 41h1v1h-1zM53 44h1v1h-1zM52 47h1v1h-1zM51 49h1v1h-1zM50 50h1v1h-1zM49 52h1v1h-1zM51 55h1v1h-1zM52 56h1v1h-1zM53 58h1v1h-1zM55 63h1v1h-1zM56 67h1v1h-1zM56 68h1v1h-1zM56 69h1v1h-1zM56 70h1v1h-1zM56 71h1v1h-1zM56 72h1v1h-1zM56 84h1v1h-1zM56 85h1v1h-1zM57 92h1v1h-1zM57 93h1v1h-1z"/>
<path fill="#ffe800" d="M66 9h1v1h-1zM64 12h1v1h-1zM63 14h1v1h-1zM61 18h1v1h-1zM60 20h1v1h-1zM59 23h1v1h-1zM58 27h1v1h-1zM58 28h1v1h-1zM57 32h1v1h-1zM56 35h1v1h-1zM55 39h1v1h-1zM54 42h1v1h-1zM53 45h1v1h-1zM52 48h1v1h-1zM51 50h1v1h-1zM50 51h1v1h-1zM50 53h1v1h-1zM51 54h1v1h-1zM52 55h1v1h-1zM53 57h1v1h-1zM54 60h1v1h-1zM55 62h1v1h-1zM56 66h1v1h-1zM56 73h1v1h-1zM56 74h1v1h-1zM56 75h1v1h-1zM56 76h1v1h-1zM56 77h1v1h-1zM56 78h1v1h-1zM56 79h1v1h-1zM56 80h1v1h-1zM56 81h1v1h-1zM56 83h1v1h-1zM57 90h1v1h-1zM57 91h1v1h-1z"/>
<path fill="#ffe400" d="M67 8h8v1h-8zM65 11h1v1h-1zM62 16h1v1h-1zM59 24h1v1h-1zM58 29h1v1h-1zM57 33h1v1h-1zM56 36h1v1h-1zM55 40h1v1h-1zM54 43h1v1h-1zM54 44h1v1h-1zM53 46h1v1h-1zM52 49h1v1h-1zM51 51h1v1h-1zM50 52h1v1h-1zM51 53h1v1h-1zM52 54h1v1h-1zM53 56h1v1h-1zM54 59h1v1h-1zM55 61h1v1h-1zM56 65h1v1h-1zM56 82h1v1h-1zM57 88h1v1h-1zM57 89h1v1h-1zM58 96h1v1h-1zM58 97h1v1h-1zM58 98h1v1h-1zM58 99h1v1h-1zM58 100h1v1h-1zM58 101h1v1h-1zM58 102h1v1h-1zM58 103h1v1h-1zM58 104h1v1h-1z"/>
<path fill="#ffe000" d="M75 8h15v1h-15zM66 10h1v1h-1zM64 13h1v1h-1zM63 15h1v1h-1zM62 17h1v1h-1zM61 19h1v1h-1zM60 21h1v1h-1zM59 25h1v1h-1zM59 26h1v1h-1zM58 30h1v1h-1zM57 34h1v1h-1zM56 37h1v1h-1zM55 41h1v1h-1zM54 45h1v1h-1zM53 47h1v1h-1zM53 48h1v1h-1zM52 50h1v1h-1zM51 52h1v1h-1zM54 58h1v1h-1zM55 60h1v1h-1zM56 63h1v1h-1zM56 64h1v1h-1zM57 67h1v1h-1zM57 68h1v1h-1zM57 86h1v1h-1zM57 87h1v1h-1zM58 94h1v1h-1zM58 95h1v1h-1z"/>
<path fill="#ffdc00" d="M67 9h2v1h-2zM65 12h1v1h-1zM60 22h1v1h-1zM59 27h1v1h-1zM58 31h1v1h-1zM57 35h1v1h-1zM56 38h1v1h-1zM56 39h1v1h-1zM55 42h1v1h-1zM55 43h1v1h-1zM54 46h1v1h-1zM53 49h1v1h-1zM52 51h1v1h-1zM52 53h1v1h-1zM53 55h1v1h-1zM54 57h1v1h-1zM55 59h1v1h-1zM56 62h1v1h-1zM57 66h1v1h-1zM57 69h1v1h-1zM57 70h1v1h-1zM57 71h1v1h-1zM57 72h1v1h-1zM57 73h1v1h-1zM57 74h1v1h-1zM57 75h1v1h-1zM57 84h1v1h-1zM57 85h1v1h-1zM58 92h1v1h-1zM58 93h1v1h-1z"/>
<path fill="#ffd800" d="M69 9h7v1h-7zM66 11h1v1h-1zM64 14h1v1h-1zM63 16h1v1h-1zM62 18h1v1h-1zM61 20h1v1h-1zM60 23h1v1h-1zM59 28h1v1h-1zM58 32h1v1h-1zM57 36h1v1h-1zM56 40h1v1h-1zM55 44h1v1h-1zM54 47h1v1h-1zM53 50h1v1h-1zM52 52h1v1h-1zM53 54h1v1h-1zM54 56h1v1h-1zM55 58h1v1h-1zM56 61h1v1h-1zM57 65h1v1h-1zM57 76h1v1h-1zM57 77h1v1h-1zM57 78h1v1h-1zM57 79h1v1h-1zM57 80h1v1h-1zM57 81h1v1h-1zM57 82h1v1h-1zM57 83h1v1h-1zM58 90h1v1h-1zM58 91h1v1h-1z"/>
<path fill="#ffd400" d="M76 9h6v1h-6zM67 10h1v1h-1zM65 13h1v1h-1zM60 24h1v1h-1zM59 29h1v1h-1zM58 33h1v1h-1zM57 37h1v1h-1zM56 41h1v1h-1zM56 42h1v1h-1zM55 45h1v1h-1zM54 48h1v1h-1zM53 51h1v1h-1zM53 53h1v1h-1zM54 55h1v1h-1zM55 57h1v1h-1zM56 60h1v1h-1zM57 64h1v1h-1zM58 88h1v1h-1zM58 89h1v1h-1zM59 96h1v1h-1zM59 97h1v1h-1zM59 98h1v1h-1zM59 99h1v1h-1zM59 100h1v1h-1zM59 101h1v1h-1zM59 102h1v1h-1zM59 103h1v1h-1zM59 104h1v1h-1z"/>
<path fill="#ffd000" d="M82 9h8v1h-8zM68 10h4v1h-4zM64 15h1v1h-1zM63 17h1v1h-1zM62 19h1v1h-1zM61 21h1v1h-1zM60 25h1v1h-1zM60 26h1v1h-1zM59 30h1v1h-1zM58 34h1v1h-1zM58 35h1v1h-1zM57 38h1v1h-1zM57 39h1v1h-1zM56 43h1v1h-1zM55 46h1v1h-1zM55 47h1v1h-1zM54 49h1v1h-1zM53 52h1v1h-1zM54 54h1v1h-1zM55 56h1v1h-1zM56 59h1v1h-1zM57 62h1v1h-1zM57 63h1v1h-1zM58 66h1v1h-1zM58 67h1v1h-1zM58 68h1v1h-1zM58 69h1v1h-1zM58 70h1v1h-1zM58 71h1v1h-1zM58 86h1v1h-1zM58 87h1v1h-1zM59 94h1v1h-1zM59 95h1v1h-1z"/>
<path fill="#ffcc00" d="M72 10h4v1h-4zM66 12h1v1h-1zM65 14h1v1h-1zM61 22h1v1h-1zM60 27h1v1h-1zM59 31h1v1h-1zM59 32h1v1h-1zM58 36h1v1h-1zM57 40h1v1h-1zM56 44h1v1h-1zM55 48h1v1h-1zM54 50h1v1h-1zM54 51h1v1h-1zM54 53h1v1h-1zM55 55h1v1h-1zM56 58h1v1h-1zM57 61h1v1h-1zM58 65h1v1h-1zM58 72h1v1h-1zM58 73h1v1h-1zM58 74h1v1h-1zM58 75h1v1h-1zM58 76h1v1h-1zM58 77h1v1h-1zM58 84h1v1h-1zM58 85h1v1h-1zM59 92h1v1h-1zM59 93h1v1h-1z"/>
<path fill="#ffc900" d="M76 10h4v1h-4zM67 11h3v1h-3zM64 16h1v1h-1zM63 18h1v1h-1zM62 20h1v1h-1zM61 23h1v1h-1zM60 28h1v1h-1zM59 33h1v1h-1zM58 37h1v1h-1zM57 41h1v1h-1zM57 42h1v1h-1zM56 45h1v1h-1zM56 46h1v1h-1zM55 49h1v1h-1zM54 52h1v1h-1zM55 54h1v1h-1zM56 57h1v1h-1zM57 60h1v1h-1zM58 64h1v1h-1zM58 78h1v1h-1zM58 79h1v1h-1zM58 80h1v1h-1zM58 81h1v1h-1zM58 82h1v1h-1zM58 83h1v1h-1zM59 90h1v1h-1zM59 91h1v1h-1z"/>
<path fill="#ffc500" d="M80 10h10v1h-10zM70 11h3v1h-3zM66 13h1v1h-1zM65 15h1v1h-1zM61 24h1v1h-1zM61 25h1v1h-1zM60 29h1v1h-1zM60 30h1v1h-1zM59 34h1v1h-1zM58 38h1v1h-1zM58 39h1v1h-1zM57 43h1v1h-1zM57 44h1v1h-1zM56 47h1v1h-1zM55 50h1v1h-1zM55 53h1v1h-1zM56 56h1v1h-1zM57 59h1v1h-1zM58 62h1v1h-1zM58 63h1v1h-1zM59 67h1v1h-1zM59 68h1v1h-1zM59 88h1v1h-1zM59 89h1v1h-1zM60 97h1v1h-1zM60 98h1v1h-1zM60 99h1v1h-1zM60 100h1v1h-1zM60 101h1v1h-1zM60 102h1v1h-1zM60 103h1v1h-1zM60 104h1v1h-1z"/>
<path fill="#ffc100" d="M73 11h3v1h-3zM67 12h2v1h-2zM64 17h1v1h-1zM63 19h1v1h-1zM62 21h1v1h-1zM61 26h1v1h-1zM60 31h1v1h-1zM59 35h1v1h-1zM58 40h1v1h-1zM58 41h1v1h-1zM57 45h1v1h-1zM56 48h1v1h-1zM56 49h1v1h-1zM55 51h1v1h-1zM55 52h1v1h-1zM56 55h1v1h-1zM57 58h1v1h-1zM58 61h1v1h-1zM59 65h1v1h-1zM59 66h1v1h-1zM59 69h1v1h-1zM59 70h1v1h-1zM59 71h1v1h-1zM59 72h1v1h-1zM59 73h1v1h-1zM59 86h1v1h-1zM59 87h1v1h-1zM60 95h1v1h-1zM60 96h1v1h-1z"/>
<path fill="#ffbd00" d="M76 11h3v1h-3zM69 12h2v1h-2zM66 14h1v1h-1zM65 16h1v1h-1zM62 22h1v1h-1zM61 27h1v1h-1zM61 28h1v1h-1zM60 32h1v1h-1zM59 36h1v1h-1zM59 37h1v1h-1zM58 42h1v1h-1zM57 46h1v1h-1zM57 47h1v1h-1zM56 50h1v1h-1zM56 54h1v1h-1zM57 56h1v1h-1zM57 57h1v1h-1zM58 60h1v1h-1zM59 64h1v1h-1zM59 74h1v1h-1zM59 75h1v1h-1zM59 76h1v1h-1zM59 77h1v1h-1zM59 78h1v1h-1zM59 84h1v1h-1zM59 85h1v1h-1zM60 92h1v1h-1zM60 93h1v1h-1zM60 94h1v1h-1z"/>
<path fill="#ffb900" d="M79 11h3v1h-3zM71 12h3v1h-3zM67 13h2v1h-2zM64 18h1v1h-1zM63 20h1v1h-1zM62 23h1v1h-1zM61 29h1v1h-1zM60 33h1v1h-1zM60 34h1v1h-1zM59 38h1v1h-1zM59 39h1v1h-1zM58 43h1v1h-1zM58 44h1v1h-1zM57 48h1v1h-1zM56 51h1v1h-1zM56 53h1v1h-1zM57 55h1v1h-1zM58 58h1v1h-1zM58 59h1v1h-1zM59 62h1v1h-1zM59 63h1v1h-1zM59 79h1v1h-1zM59 80h1v1h-1zM59 81h1v1h-1zM59 82h1v1h-1zM59 83h1v1h-1zM60 90h1v1h-1zM60 91h1v1h-1z"/>
<path fill="#ffb500" d="M82 11h8v1h-8zM74 12h2v1h-2zM69 13h1v1h-1zM66 15h1v1h-1zM65 17h1v1h-1zM62 24h1v1h-1zM62 25h1v1h-1zM61 30h1v1h-1zM60 35h1v1h-1zM59 40h1v1h-1zM59 41h1v1h-1zM58 45h1v1h-1zM58 46h1v1h-1zM57 49h1v1h-1zM57 50h1v1h-1zM56 52h1v1h-1zM57 54h1v1h-1zM58 57h1v1h-1zM59 61h1v1h-1zM60 66h1v1h-1zM60 67h1v1h-1zM60 68h1v1h-1zM60 69h1v1h-1zM60 70h1v1h-1zM60 88h1v1h-1zM60 89h1v1h-1zM61 97h1v1h-1zM61 98h1v1h-1zM61 99h1v1h-1zM61 100h1v1h-1zM61 101h1v1h-1zM61 102h1v1h-1zM61 103h1v1h-1zM61 104h1v1h-1z"/>
<path fill="#ffb100" d="M76 12h2v1h-2zM70 13h2v1h-2zM67 14h1v1h-1zM64 19h1v1h-1zM63 21h1v1h-1zM62 26h1v1h-1zM61 31h1v1h-1zM61 32h1v1h-1zM60 36h1v1h-1zM59 42h1v1h-1zM59 43h1v1h-1zM58 47h1v1h-1zM58 48h1v1h-1zM57 51h1v1h-1zM57 53h1v1h-1zM58 56h1v1h-1zM59 59h1v1h-1zM59 60h1v1h-1zM60 64h1v1h-1zM60 65h1v1h-1zM60 71h1v1h-1zM60 72h1v1h-1zM60 73h1v1h-1zM60 74h1v1h-1zM60 75h1v1h-1zM60 86h1v1h-1zM60 87h1v1h-1zM61 95h1v1h-1zM61 96h1v1h-1z"/>
<path fill="#ffad00" d="M78 12h3v1h-3zM72 13h2v1h-2zM68 14h2v1h-2zM66 16h1v1h-1zM65 18h1v1h-1zM63 22h1v1h-1zM62 27h1v1h-1zM62 28h1v1h-1zM61 33h1v1h-1zM60 37h1v1h-1zM60 38h1v1h-1zM60 39h1v1h-1zM59 44h1v1h-1zM59 45h1v1h-1zM58 49h1v1h-1zM57 52h1v1h-1zM58 54h1v1h-1zM58 55h1v1h-1zM59 58h1v1h-1zM60 62h1v1h-1zM60 63h1v1h-1zM60 76h1v1h-1zM60 77h1v1h-1zM60 78h1v1h-1zM60 79h1v1h-1zM60 84h1v1h-1zM60 85h1v1h-1zM61 93h1v1h-1zM61 94h1v1h-1z"/>
<path fill="#ffa900" d="M81 12h9v1h-9zM74 13h2v1h-2zM70 14h1v1h-1zM67 15h1v1h-1zM64 20h1v1h-1zM63 23h1v1h-1zM62 29h1v1h-1zM62 30h1v1h-1zM61 34h1v1h-1zM61 35h1v1h-1zM60 40h1v1h-1zM60 41h1v1h-1zM59 46h1v1h-1zM59 47h1v1h-1zM58 50h1v1h-1zM58 51h1v1h-1zM58 53h1v1h-1zM59 56h1v1h-1zM59 57h1v1h-1zM60 61h1v1h-1zM61 67h1v1h-1zM61 68h1v1h-1zM60 80h1v1h-1zM60 81h1v1h-1zM60 82h1v1h-1zM60 83h1v1h-1zM61 90h1v1h-1zM61 91h1v1h-1zM61 92h1v1h-1z"/>
<path fill="#ffa500" d="M76 13h2v1h-2zM71 14h2v1h-2zM68 15h1v1h-1zM66 17h1v1h-1zM65 19h1v1h-1zM63 24h1v1h-1zM63 25h1v1h-1zM62 31h1v1h-1zM61 36h1v1h-1zM60 42h1v1h-1zM60 43h1v1h-1zM59 48h1v1h-1zM59 49h1v1h-1zM58 52h1v1h-1zM59 55h1v1h-1zM60 59h1v1h-1zM60 60h1v1h-1zM61 64h1v1h-1zM61 65h1v1h-1zM61 66h1v1h-1zM61 69h1v1h-1zM61 70h1v1h-1zM61 71h1v1h-1zM61 72h1v1h-1zM61 88h1v1h-1zM61 89h1v1h-1z"/>
<path fill="#ffa100" d="M78 13h2v1h-2zM73 14h2v1h-2zM69 15h2v1h-2zM64 21h1v1h-1zM63 26h1v1h-1zM63 27h1v1h-1zM62 32h1v1h-1zM62 33h1v1h-1zM61 37h1v1h-1zM61 38h1v1h-1zM61 39h1v1h-1zM60 44h1v1h-1zM60 45h1v1h-1zM60 46h1v1h-1zM59 50h1v1h-1zM59 51h1v1h-1zM59 53h1v1h-1zM59 54h1v1h-1zM60 57h1v1h-1zM60 58h1v1h-1zM61 62h1v1h-1zM61 63h1v1h-1zM61 73h1v1h-1zM61 74h1v1h-1zM61 75h1v1h-1zM61 76h1v1h-1zM61 86h1v1h-1zM61 87h1v1h-1zM62 95h1v1h-1zM62 96h1v1h-1zM62 97h1v1h-1zM62 98h1v1h-1zM62 99h1v1h-1zM62 100h1v1h-1zM62 101h1v1h-1zM62 102h1v1h-1zM62 103h1v1h-1zM62 104h1v1h-1z"/>
<path fill="#ff9d00" d="M80 13h2v1h-2zM75 14h1v1h-1zM71 15h1v1h-1zM67 16h2v1h-2zM66 18h1v1h-1zM65 20h1v1h-1zM64 22h1v1h-1zM63 28h1v1h-1zM63 29h1v1h-1zM62 34h1v1h-1zM61 40h1v1h-1zM61 41h1v1h-1zM60 47h1v1h-1zM60 48h1v1h-1zM59 52h1v1h-1zM60 55h1v1h-1zM60 56h1v1h-1zM61 60h1v1h-1zM61 61h1v1h-1zM61 77h1v1h-1zM61 78h1v1h-1zM61 79h1v1h-1zM61 80h1v1h-1zM61 83h1v1h-1zM61 84h1v1h-1zM61 85h1v1h-1zM62 93h1v1h-1zM62 94h1v1h-1z"/>
<path fill="#ff9900" d="M82 13h8v1h-8zM76 14h2v1h-2zM72 15h1v1h-1zM69 16h1v1h-1zM64 23h1v1h-1zM63 30h1v1h-1zM62 35h1v1h-1zM62 36h1v1h-1zM61 42h1v1h-1zM61 43h1v1h-1zM61 44h1v1h-1zM60 49h1v1h-1zM60 50h1v1h-1zM60 53h1v1h-1zM60 54h1v1h-1zM61 58h1v1h-1zM61 59h1v1h-1zM62 65h1v1h-1zM62 66h1v1h-1zM62 67h1v1h-1zM62 68h1v1h-1zM62 69h1v1h-1zM62 70h1v1h-1zM61 81h1v1h-1zM61 82h1v1h-1zM62 90h1v1h-1zM62 91h1v1h-1zM62 92h1v1h-1z"/>
<path fill="#ff9500" d="M78 14h1v1h-1zM73 15h2v1h-2zM70 16h1v1h-1zM67 17h1v1h-1zM66 19h1v1h-1zM64 24h1v1h-1zM64 25h1v1h-1zM63 31h1v1h-1zM63 32h1v1h-1zM62 37h1v1h-1zM62 38h1v1h-1zM62 39h1v1h-1zM61 45h1v1h-1zM61 46h1v1h-1zM61 47h1v1h-1zM60 51h1v1h-1zM60 52h1v1h-1zM61 56h1v1h-1zM61 57h1v1h-1zM62 62h1v1h-1zM62 63h1v1h-1zM62 64h1v1h-1zM62 71h1v1h-1zM62 72h1v1h-1zM62 73h1v1h-1zM62 74h1v1h-1zM62 88h1v1h-1zM62 89h1v1h-1z"/>
<path fill="#ff9100" d="M79 14h2v1h-2zM75 15h1v1h-1zM71 16h1v1h-1zM68 17h2v1h-2zM65 21h1v1h-1zM64 26h1v1h-1zM64 27h1v1h-1zM63 33h1v1h-1zM63 34h1v1h-1zM62 40h1v1h-1zM62 41h1v1h-1zM62 42h1v1h-1zM61 48h1v1h-1zM61 49h1v1h-1zM61 50h1v1h-1zM61 54h1v1h-1zM61 55h1v1h-1zM62 60h1v1h-1zM62 61h1v1h-1zM62 75h1v1h-1zM62 76h1v1h-1zM62 77h1v1h-1zM62 86h1v1h-1zM62 87h1v1h-1zM63 96h1v1h-1zM63 97h1v1h-1zM63 98h1v1h-1zM63 99h1v1h-1zM63 100h1v1h-1zM63 101h1v1h-1zM63 102h1v1h-1zM63 103h1v1h-1zM63 104h1v1h-1z"/>
<path fill="#ff8d00" d="M81 14h9v1h-9zM76 15h2v1h-2zM72 16h2v1h-2zM70 17h1v1h-1zM67 18h1v1h-1zM66 20h1v1h-1zM64 28h1v1h-1zM64 29h1v1h-1zM63 35h1v1h-1zM63 36h1v1h-1zM62 43h1v1h-1zM62 44h1v1h-1zM62 45h1v1h-1zM61 51h1v1h-1zM61 52h1v1h-1zM61 53h1v1h-1zM62 57h1v1h-1zM62 58h1v1h-1zM62 59h1v1h-1zM63 66h1v1h-1zM63 67h1v1h-1zM63 68h1v1h-1zM62 78h1v1h-1zM62 79h1v1h-1zM62 80h1v1h-1zM62 81h1v1h-1zM62 83h1v1h-1zM62 84h1v1h-1zM62 85h1v1h-1zM63 93h1v1h-1zM63 94h1v1h-1zM63 95h1v1h-1z"/>
<path fill="#ff8900" d="M78 15h1v1h-1zM74 16h1v1h-1zM71 17h1v1h-1zM68 18h1v1h-1zM65 22h1v1h-1zM65 23h1v1h-1zM65 24h1v1h-1zM64 30h1v1h-1zM64 31h1v1h-1zM63 37h1v1h-1zM63 38h1v1h-1zM63 39h1v1h-1zM62 46h1v1h-1zM62 47h1v1h-1zM62 48h1v1h-1zM62 49h1v1h-1zM62 55h1v1h-1zM62 56h1v1h-1zM63 62h1v1h-1zM63 63h1v1h-1zM63 64h1v1h-1zM63 65h1v1h-1zM63 69h1v1h-1zM63 70h1v1h-1zM63 71h1v1h-1zM62 82h1v1h-1zM63 90h1v1h-1zM63 91h1v1h-1zM63 92h1v1h-1z"/>
<path fill="#ff8500" d="M79 15h1v1h-1zM75 16h1v1h-1zM72 17h1v1h-1zM69 18h1v1h-1zM67 19h1v1h-1zM66 21h1v1h-1zM65 25h1v1h-1zM65 26h1v1h-1zM64 32h1v1h-1zM64 33h1v1h-1zM63 40h1v1h-1zM63 41h1v1h-1zM63 42h1v1h-1zM63 43h1v1h-1zM62 50h1v1h-1zM62 51h1v1h-1zM62 52h1v1h-1zM62 53h1v1h-1zM62 54h1v1h-1zM63 59h1v1h-1zM63 60h1v1h-1zM63 61h1v1h-1zM63 72h1v1h-1zM63 73h1v1h-1zM63 74h1v1h-1zM63 75h1v1h-1zM63 88h1v1h-1zM63 89h1v1h-1z"/>
<path fill="#ff8100" d="M80 15h2v1h-2zM76 16h1v1h-1zM73 17h1v1h-1zM70 18h1v1h-1zM68 19h1v1h-1zM65 27h1v1h-1zM65 28h1v1h-1zM64 34h1v1h-1zM64 35h1v1h-1zM63 44h1v1h-1zM63 45h1v1h-1zM63 46h1v1h-1zM63 47h1v1h-1zM63 56h1v1h-1zM63 57h1v1h-1zM63 58h1v1h-1zM64 67h1v1h-1zM63 76h1v1h-1zM63 77h1v1h-1zM63 78h1v1h-1zM63 85h1v1h-1zM63 86h1v1h-1zM63 87h1v1h-1zM64 96h1v1h-1zM64 97h1v1h-1zM64 98h1v1h-1zM64 99h1v1h-1zM64 100h1v1h-1zM64 101h1v1h-1zM64 102h1v1h-1zM64 103h1v1h-1zM64 104h1v1h-1z"/>
<path fill="#ff7c00" d="M82 15h8v1h-8zM77 16h2v1h-2zM74 17h1v1h-1zM71 18h1v1h-1zM69 19h1v1h-1zM67 20h1v1h-1zM65 29h1v1h-1zM65 30h1v1h-1zM64 36h1v1h-1zM64 37h1v1h-1zM64 38h1v1h-1zM63 48h1v1h-1zM63 49h1v1h-1zM63 50h1v1h-1zM63 51h1v1h-1zM63 52h1v1h-1zM63 53h1v1h-1zM63 54h1v1h-1zM63 55h1v1h-1zM64 62h1v1h-1zM64 63h1v1h-1zM64 64h1v1h-1zM64 65h1v1h-1zM64 66h1v1h-1zM64 68h1v1h-1zM64 69h1v1h-1zM64 70h1v1h-1zM63 79h1v1h-1zM63 80h1v1h-1zM63 81h1v1h-1zM63 83h1v1h-1zM63 84h1v1h-1zM64 93h1v1h-1zM64 94h1v1h-1zM64 95h1v1h-1z"/>
<path fill="#ff7800" d="M79 16h1v1h-1zM75 17h1v1h-1zM72 18h1v1h-1zM70 19h1v1h-1zM68 20h1v1h-1zM66 22h1v1h-1zM66 23h1v1h-1zM66 24h1v1h-1zM65 31h1v1h-1zM65 32h1v1h-1zM64 39h1v1h-1zM64 40h1v1h-1zM64 41h1v1h-1zM64 42h1v1h-1zM64 43h1v1h-1zM64 44h1v1h-1zM64 45h1v1h-1zM64 58h1v1h-1zM64 59h1v1h-1zM64 60h1v1h-1zM64 61h1v1h-1zM64 71h1v1h-1zM64 72h1v1h-1zM64 73h1v1h-1zM63 82h1v1h-1zM64 91h1v1h-1zM64 92h1v1h-1z"/>
<path fill="#ff7400" d="M80 16h1v1h-1zM76 17h1v1h-1zM73 18h1v1h-1zM71 19h1v1h-1zM67 21h1v1h-1zM66 25h1v1h-1zM66 26h1v1h-1zM65 33h1v1h-1zM65 34h1v1h-1zM65 35h1v1h-1zM64 46h1v1h-1zM64 47h1v1h-1zM64 48h1v1h-1zM64 49h1v1h-1zM64 50h1v1h-1zM64 51h1v1h-1zM64 53h1v1h-1zM64 54h1v1h-1zM64 55h1v1h-1zM64 56h1v1h-1zM64 57h1v1h-1zM64 74h1v1h-1zM64 75h1v1h-1zM64 76h1v1h-1zM64 88h1v1h-1zM64 89h1v1h-1zM64 90h1v1h-1z"/>
<path fill="#ff7000" d="M81 16h1v1h-1zM77 17h1v1h-1zM74 18h1v1h-1zM72 19h1v1h-1zM69 20h1v1h-1zM66 27h1v1h-1zM66 28h1v1h-1zM66 29h1v1h-1zM65 36h1v1h-1zM65 37h1v1h-1zM65 38h1v1h-1zM64 52h1v1h-1zM65 62h1v1h-1zM65 63h1v1h-1zM65 64h1v1h-1zM65 65h1v1h-1zM65 66h1v1h-1zM65 67h1v1h-1zM65 68h1v1h-1zM64 77h1v1h-1zM64 78h1v1h-1zM64 79h1v1h-1zM64 85h1v1h-1zM64 86h1v1h-1zM64 87h1v1h-1zM65 96h1v1h-1zM65 97h1v1h-1zM65 98h1v1h-1zM65 99h1v1h-1zM65 100h1v1h-1zM65 101h1v1h-1zM65 102h1v1h-1zM65 103h1v1h-1zM65 104h1v1h-1z"/>
<path fill="#ff6c00" d="M82 16h8v1h-8zM78 17h2v1h-2zM75 18h1v1h-1zM70 20h1v1h-1zM68 21h1v1h-1zM66 30h1v1h-1zM66 31h1v1h-1zM65 39h1v1h-1zM65 40h1v1h-1zM65 41h1v1h-1zM65 42h1v1h-1zM65 43h1v1h-1zM65 44h1v1h-1zM65 45h1v1h-1zM65 46h1v1h-1zM65 47h1v1h-1zM65 48h1v1h-1zM65 49h1v1h-1zM65 54h1v1h-1zM65 55h1v1h-1zM65 56h1v1h-1zM65 57h1v1h-1zM65 58h1v1h-1zM65 59h1v1h-1zM65 60h1v1h-1zM65 61h1v1h-1zM65 69h1v1h-1zM65 70h1v1h-1zM65 71h1v1h-1zM64 80h1v1h-1zM64 81h1v1h-1zM64 83h1v1h-1zM64 84h1v1h-1zM65 94h1v1h-1zM65 95h1v1h-1z"/>
<path fill="#ff6800" d="M80 17h1v1h-1zM76 18h1v1h-1zM73 19h1v1h-1zM71 20h1v1h-1zM69 21h1v1h-1zM67 22h1v1h-1zM67 23h1v1h-1zM67 24h1v1h-1zM66 32h1v1h-1zM66 33h1v1h-1zM66 34h1v1h-1zM65 50h1v1h-1zM65 51h1v1h-1zM65 52h1v1h-1zM65 53h1v1h-1zM65 72h1v1h-1zM65 73h1v1h-1zM65 74h1v1h-1zM64 82h1v1h-1zM65 91h1v1h-1zM65 92h1v1h-1zM65 93h1v1h-1z"/>
<path fill="#ff6400" d="M81 17h1v1h-1zM77 18h1v1h-1zM74 19h1v1h-1zM72 20h1v1h-1zM70 21h1v1h-1zM68 22h1v1h-1zM68 23h1v1h-1zM67 25h1v1h-1zM67 26h1v1h-1zM67 27h1v1h-1zM66 35h1v1h-1zM66 36h1v1h-1zM66 62h1v1h-1zM66 63h1v1h-1zM66 64h1v1h-1zM66 65h1v1h-1zM66 66h1v1h-1zM66 67h1v1h-1zM65 75h1v1h-1zM65 76h1v1h-1zM65 88h1v1h-1zM65 89h1v1h-1zM65 90h1v1h-1z"/>
<path fill="#ff5f00" d="M82 17h8v1h-8zM78 18h1v1h-1zM75 19h1v1h-1zM73 20h1v1h-1zM69 22h1v1h-1zM68 24h1v1h-1zM68 25h1v1h-1zM68 26h1v1h-1zM67 28h1v1h-1zM67 29h1v1h-1zM67 30h1v1h-1zM66 37h1v1h-1zM66 38h1v1h-1zM66 39h1v1h-1zM66 40h1v1h-1zM66 41h1v1h-1zM66 42h1v1h-1zM66 43h1v1h-1zM66 44h1v1h-1zM66 45h1v1h-1zM66 46h1v1h-1zM66 47h1v1h-1zM66 48h1v1h-1zM66 49h1v1h-1zM66 50h1v1h-1zM66 51h1v1h-1zM66 52h1v1h-1zM66 53h1v1h-1zM66 54h1v1h-1zM66 55h1v1h-1zM66 56h1v1h-1zM66 57h1v1h-1zM66 58h1v1h-1zM66 59h1v1h-1zM66 60h1v1h-1zM66 61h1v1h-1zM66 68h1v1h-1zM66 69h1v1h-1zM66 70h1v1h-1zM65 77h1v1h-1zM65 78h1v1h-1zM65 79h1v1h-1zM65 85h1v1h-1zM65 86h1v1h-1zM65 87h1v1h-1zM66 97h1v1h-1zM66 98h1v1h-1zM66 99h1v1h-1zM66 100h1v1h-1zM66 101h1v1h-1zM66 102h1v1h-1zM66 103h1v1h-1zM66 104h1v1h-1z"/>
<path fill="#ff5b00" d="M79 18h1v1h-1zM76 19h1v1h-1zM71 21h1v1h-1zM69 23h1v1h-1zM69 24h1v1h-1zM68 27h1v1h-1zM68 28h1v1h-1zM67 31h1v1h-1zM67 32h1v1h-1zM67 33h1v1h-1zM66 71h1v1h-1zM66 72h1v1h-1zM65 80h1v1h-1zM65 81h1v1h-1zM65 82h1v1h-1zM65 83h1v1h-1zM65 84h1v1h-1zM66 94h1v1h-1zM66 95h1v1h-1zM66 96h1v1h-1z"/>
<path fill="#ff5700" d="M80 18h1v1h-1zM77 19h1v1h-1zM74 20h1v1h-1zM72 21h1v1h-1zM70 22h1v1h-1zM70 23h1v1h-1zM69 25h1v1h-1zM69 26h1v1h-1zM69 27h1v1h-1zM68 29h1v1h-1zM68 30h1v1h-1zM68 31h1v1h-1zM67 34h1v1h-1zM67 35h1v1h-1zM67 36h1v1h-1zM67 42h1v1h-1zM67 43h1v1h-1zM67 44h1v1h-1zM67 45h1v1h-1zM67 46h1v1h-1zM67 47h1v1h-1zM67 48h1v1h-1zM67 49h1v1h-1zM67 50h1v1h-1zM67 51h1v1h-1zM67 52h1v1h-1zM67 53h1v1h-1zM67 54h1v1h-1zM67 55h1v1h-1zM67 56h1v1h-1zM67 57h1v1h-1zM67 58h1v1h-1zM67 59h1v1h-1zM67 60h1v1h-1zM67 61h1v1h-1zM67 62h1v1h-1zM66 73h1v1h-1zM66 74h1v1h-1zM66 75h1v1h-1zM66 91h1v1h-1zM66 92h1v1h-1zM66 93h1v1h-1z"/>
<path fill="#ff5300" d="M81 18h1v1h-1zM78 19h1v1h-1zM75 20h1v1h-1zM73 21h1v1h-1zM71 22h1v1h-1zM70 24h1v1h-1zM70 25h1v1h-1zM70 26h1v1h-1zM69 28h1v1h-1zM69 29h1v1h-1zM68 32h1v1h-1zM68 33h1v1h-1zM68 34h1v1h-1zM67 37h1v1h-1zM67 38h1v1h-1zM67 39h1v1h-1zM67 40h1v1h-1zM67 41h1v1h-1zM67 63h1v1h-1zM67 64h1v1h-1zM67 65h1v1h-1zM67 66h1v1h-1zM67 67h1v1h-1zM67 68h1v1h-1zM66 76h1v1h-1zM66 77h1v1h-1zM66 88h1v1h-1zM66 89h1v1h-1zM66 90h1v1h-1z"/>
<path fill="#ff4f00" d="M82 18h8v1h-8zM79 19h1v1h-1zM76 20h1v1h-1zM74 21h1v1h-1zM72 22h1v1h-1zM71 23h1v1h-1zM71 24h1v1h-1zM70 27h1v1h-1zM70 28h1v1h-1zM69 30h1v1h-1zM69 31h1v1h-1zM69 32h1v1h-1zM68 35h1v1h-1zM68 36h1v1h-1zM67 69h1v1h-1zM67 70h1v1h-1zM67 71h1v1h-1zM66 78h1v1h-1zM66 79h1v1h-1zM66 80h1v1h-1zM66 85h1v1h-1zM66 86h1v1h-1zM66 87h1v1h-1z"/>
<path fill="#ff4a00" d="M80 19h1v1h-1zM77 20h1v1h-1zM72 23h1v1h-1zM72 24h1v1h-1zM71 25h1v1h-1zM71 26h1v1h-1zM71 27h1v1h-1zM70 29h1v1h-1zM70 30h1v1h-1zM69 33h1v1h-1zM69 34h1v1h-1zM68 37h1v1h-1zM68 38h1v1h-1zM68 39h1v1h-1zM68 40h1v1h-1zM68 41h1v1h-1zM68 42h1v1h-1zM68 43h1v1h-1zM68 44h1v1h-1zM68 45h1v1h-1zM68 46h1v1h-1zM68 47h1v1h-1zM68 48h1v1h-1zM68 49h1v1h-1zM68 50h1v1h-1zM68 51h1v1h-1zM68 52h1v1h-1zM68 53h1v1h-1zM68 54h1v1h-1zM68 55h1v1h-1zM68 56h1v1h-1zM68 57h1v1h-1zM68 58h1v1h-1zM68 59h1v1h-1zM68 60h1v1h-1zM68 61h1v1h-1zM68 62h1v1h-1zM68 63h1v1h-1zM68 64h1v1h-1zM68 65h1v1h-1zM68 66h1v1h-1zM68 67h1v1h-1zM68 68h1v1h-1zM68 69h1v1h-1zM67 72h1v1h-1zM67 73h1v1h-1zM66 81h1v1h-1zM66 82h1v1h-1zM66 83h1v1h-1zM66 84h1v1h-1zM67 94h1v1h-1zM67 95h1v1h-1zM67 96h2v1h-2zM67 97h3v1h-3zM67 98h3v1h-3zM67 99h3v1h-3zM67 100h3v1h-3zM67 101h3v1h-3zM67 102h3v1h-3zM67 103h3v1h-3zM67 104h3v1h-3z"/>
<path fill="#ff4600" d="M81 19h1v1h-1zM78 20h1v1h-1zM75 21h1v1h-1zM73 22h1v1h-1zM73 23h1v1h-1zM72 25h1v1h-1zM72 26h1v1h-1zM71 28h1v1h-1zM71 29h1v1h-1zM70 31h1v1h-1zM70 32h1v1h-1zM69 35h1v1h-1zM69 36h1v1h-1zM69 37h1v1h-1zM68 70h1v1h-1zM68 71h1v1h-1zM67 74h1v1h-1zM67 75h1v1h-1zM67 91h1v1h-1zM67 92h1v1h-1zM67 93h2v1h-2zM68 94h1v1h-1zM68 95h2v1h-2zM69 96h2v1h-2zM70 97h2v1h-2zM70 98h2v1h-2zM70 99h2v1h-2zM70 100h2v1h-2zM70 101h2v1h-2zM70 102h2v1h-2zM70 103h2v1h-2zM70 104h2v1h-2z"/>
<path fill="#ff4200" d="M82 19h8v1h-8zM79 20h1v1h-1zM76 21h1v1h-1zM74 22h1v1h-1zM73 24h1v1h-1zM73 25h1v1h-1zM72 27h1v1h-1zM71 30h1v1h-1zM71 31h1v1h-1zM70 33h1v1h-1zM70 34h1v1h-1zM70 35h1v1h-1zM69 38h1v1h-1zM69 39h1v1h-1zM69 40h1v1h-1zM69 41h1v1h-1zM69 42h1v1h-1zM69 43h1v1h-1zM69 44h1v1h-1zM69 62h1v1h-1zM69 63h1v1h-1zM69 64h1v1h-1zM69 65h1v1h-1zM69 66h1v1h-1zM69 67h1v1h-1zM69 68h1v1h-1zM69 69h1v1h-1zM68 72h1v1h-1zM68 73h1v1h-1zM68 74h1v1h-1zM67 76h1v1h-1zM67 77h1v1h-1zM67 78h1v1h-1zM67 88h1v1h-1zM67 89h1v1h-1zM67 90h2v1h-2zM68 91h1v1h-1zM68 92h2v1h-2zM69 93h2v1h-2zM69 94h2v1h-2zM70 95h2v1h-2zM71 96h2v1h-2zM72 97h2v1h-2zM72 98h2v1h-2zM72 99h2v1h-2zM72 100h2v1h-2zM72 101h2v1h-2zM72 102h2v1h-2zM72 103h2v1h-2zM72 104h2v1h-2z"/>
<path fill="#ff3e00" d="M77 21h1v1h-1zM74 23h1v1h-1zM74 24h1v1h-1zM73 26h1v1h-1zM72 28h1v1h-1zM72 29h1v1h-1zM71 32h1v1h-1zM71 33h1v1h-1zM70 36h1v1h-1zM70 37h1v1h-1zM69 45h1v1h-1zM69 46h1v1h-1zM69 47h1v1h-1zM69 48h1v1h-1zM69 49h1v1h-1zM69 50h1v1h-1zM69 51h1v1h-1zM69 53h1v1h-1zM69 54h1v1h-1zM69 55h1v1h-1zM69 56h1v1h-1zM69 57h1v1h-1zM69 58h1v1h-1zM69 59h1v1h-1zM69 60h1v1h-1zM69 61h1v1h-1zM69 70h1v1h-1zM69 71h1v1h-1zM69 72h1v1h-1zM69 73h1v1h-1zM68 75h1v1h-1zM68 76h1v1h-1zM68 77h1v1h-1zM67 79h1v1h-1zM67 80h1v1h-1zM67 85h1v1h-1zM67 86h1v1h-1zM67 87h2v1h-2zM68 88h1v1h-1zM68 89h2v1h-2zM69 90h1v1h-1zM69 91h2v1h-2zM70 92h2v1h-2zM71 93h1v1h-1zM71 94h2v1h-2zM72 95h2v1h-2zM73 96h2v1h-2zM74 97h2v1h-2zM74 98h2v1h-2zM74 99h2v1h-2zM74 100h2v1h-2zM74 101h2v1h-2zM74 102h2v1h-2zM74 103h2v1h-2zM74 104h2v1h-2z"/>
<path fill="#ff3900" d="M80 20h1v1h-1zM78 21h1v1h-1zM75 22h1v1h-1zM75 23h1v1h-1zM74 25h1v1h-1zM74 26h1v1h-1zM73 27h1v1h-1zM73 28h1v1h-1zM72 30h1v1h-1zM72 31h1v1h-1zM71 34h1v1h-1zM71 35h1v1h-1zM70 38h1v1h-1zM70 39h1v1h-1zM70 40h1v1h-1zM70 41h1v1h-1zM69 52h1v1h-1zM70 64h1v1h-1zM70 65h1v1h-1zM70 66h1v1h-1zM70 67h1v1h-1zM70 68h1v1h-1zM70 69h1v1h-1zM70 70h1v1h-1zM69 74h1v1h-1zM69 75h1v1h-1zM69 76h1v1h-1zM68 78h1v1h-1zM68 79h1v1h-1zM68 80h1v1h-1zM67 81h1v1h-1zM67 82h1v1h-1zM67 83h1v1h-1zM67 84h2v1h-2zM68 85h1v1h-1zM68 86h2v1h-2zM69 87h1v1h-1zM69 88h2v1h-2zM70 89h1v1h-1zM70 90h2v1h-2zM71 91h1v1h-1zM72 92h1v1h-1zM72 93h2v1h-2zM73 94h2v1h-2zM74 95h2v1h-2zM75 96h2v1h-2zM76 97h2v1h-2zM76 98h2v1h-2zM76 99h2v1h-2zM76 100h2v1h-2zM76 101h2v1h-2zM76 102h2v1h-2zM76 103h2v1h-2zM76 104h2v1h-2z"/>
<path fill="#ff3500" d="M81 20h1v1h-1zM76 22h1v1h-1zM75 24h1v1h-1zM75 25h1v1h-1zM74 27h1v1h-1zM73 29h1v1h-1zM73 30h1v1h-1zM72 32h1v1h-1zM72 33h1v1h-1zM71 36h1v1h-1zM71 37h1v1h-1zM70 42h1v1h-1zM70 43h1v1h-1zM70 44h1v1h-1zM70 45h1v1h-1zM70 46h1v1h-1zM70 59h1v1h-1zM70 60h1v1h-1zM70 61h1v1h-1zM70 62h1v1h-1zM70 63h1v1h-1zM70 71h1v1h-1zM70 72h1v1h-1zM70 73h1v1h-1zM70 74h1v1h-1zM70 75h1v1h-1zM69 77h1v1h-1zM69 78h1v1h-1zM69 79h1v1h-1zM69 80h1v1h-1zM68 81h1v1h-1zM68 82h1v1h-1zM68 83h2v1h-2zM69 84h1v1h-1zM69 85h1v1h-1zM70 86h1v1h-1zM70 87h1v1h-1zM71 88h1v1h-1zM71 89h2v1h-2zM72 90h1v1h-1zM72 91h2v1h-2zM73 92h2v1h-2zM74 93h2v1h-2zM75 94h2v1h-2zM76 95h2v1h-2zM77 96h2v1h-2zM78 97h2v1h-2zM78 98h2v1h-2zM78 99h2v1h-2zM78 100h2v1h-2zM78 101h2v1h-2zM78 102h2v1h-2zM78 103h2v1h-2zM78 104h2v1h-2z"/>
<path fill="#ff3000" d="M82 20h8v1h-8zM79 21h1v1h-1zM77 22h1v1h-1zM76 23h1v1h-1zM76 24h1v1h-1zM75 26h1v1h-1zM74 28h1v1h-1zM74 29h1v1h-1zM73 31h1v1h-1zM73 32h1v1h-1zM72 34h1v1h-1zM72 35h1v1h-1zM71 38h1v1h-1zM71 39h1v1h-1zM71 40h1v1h-1zM70 47h1v1h-1zM70 48h1v1h-1zM70 49h1v1h-1zM70 50h1v1h-1zM70 54h1v1h-1zM70 55h1v1h-1zM70 56h1v1h-1zM70 57h1v1h-1zM70 58h1v1h-1zM71 65h1v1h-1zM71 66h1v1h-1zM71 67h1v1h-1zM71 68h1v1h-1zM71 69h1v1h-1zM71 70h1v1h-1zM71 71h1v1h-1zM71 72h1v1h-1zM70 76h1v1h-1zM70 77h1v1h-1zM70 78h1v1h-1zM70 79h1v1h-1zM70 80h1v1h-1zM69 81h1v1h-1zM69 82h1v1h-1zM70 83h1v1h-1zM70 84h1v1h-1zM70 85h2v1h-2zM71 86h1v1h-1zM71 87h2v1h-2zM72 88h1v1h-1zM73 89h1v1h-1zM73 90h2v1h-2zM74 91h2v1h-2zM75 92h2v1h-2zM76 93h1v1h-1zM77 94h1v1h-1zM78 95h2v1h-2zM79 96h2v1h-2zM80 97h2v1h-2zM80 98h2v1h-2zM80 99h2v1h-2zM80 100h2v1h-2zM80 101h2v1h-2zM80 102h2v1h-2zM80 103h2v1h-2zM80 104h2v1h-2z"/>
<path fill="#ff2c00" d="M80 21h1v1h-1zM77 23h1v1h-1zM76 25h1v1h-1zM75 27h1v1h-1zM75 28h1v1h-1zM74 30h1v1h-1zM74 31h1v1h-1zM73 33h1v1h-1zM73 34h1v1h-1zM72 36h1v1h-1zM72 37h1v1h-1zM71 41h1v1h-1zM71 42h1v1h-1zM71 43h1v1h-1zM70 51h1v1h-1zM70 52h1v1h-1zM70 53h1v1h-1zM71 62h1v1h-1zM71 63h1v1h-1zM71 64h1v1h-1zM71 73h1v1h-1zM71 74h1v1h-1zM71 75h1v1h-1zM71 76h1v1h-1zM71 77h1v1h-1zM71 78h1v1h-1zM71 79h1v1h-1zM71 80h1v1h-1zM70 81h2v1h-2zM70 82h1v1h-1zM71 83h1v1h-1zM71 84h1v1h-1zM72 85h1v1h-1zM72 86h2v1h-2zM73 87h1v1h-1zM73 88h2v1h-2zM74 89h2v1h-2zM75 90h1v1h-1zM76 91h1v1h-1zM77 92h1v1h-1zM77 93h2v1h-2zM78 94h2v1h-2zM80 95h1v1h-1zM81 96h9v1h-9zM82 97h8v1h-8zM82 98h8v1h-8zM82 99h8v1h-8zM82 100h8v1h-8zM82 101h8v1h-8zM82 102h8v1h-8zM82 103h8v1h-8zM82 104h8v1h-8z"/>
<path fill="#ff2800" d="M81 21h1v1h-1zM78 22h1v1h-1zM78 23h1v1h-1zM77 24h1v1h-1zM77 25h1v1h-1zM76 26h1v1h-1zM76 27h1v1h-1zM75 29h1v1h-1zM75 30h1v1h-1zM74 32h1v1h-1zM73 35h1v1h-1zM73 36h1v1h-1zM72 38h1v1h-1zM72 39h1v1h-1zM72 40h1v1h-1zM71 44h1v1h-1zM71 45h1v1h-1zM71 46h1v1h-1zM71 58h1v1h-1zM71 59h1v1h-1zM71 60h1v1h-1zM71 61h1v1h-1zM72 66h1v1h-1zM72 67h1v1h-1zM72 68h1v1h-1zM72 69h1v1h-1zM72 70h1v1h-1zM72 71h1v1h-1zM72 72h1v1h-1zM72 73h1v1h-1zM72 74h1v1h-1zM72 75h1v1h-1zM72 76h1v1h-1zM72 77h1v1h-1zM72 78h1v1h-1zM72 79h1v1h-1zM72 80h1v1h-1zM72 81h1v1h-1zM71 82h2v1h-2zM72 83h1v1h-1zM72 84h2v1h-2zM73 85h1v1h-1zM74 86h1v1h-1zM74 87h2v1h-2zM75 88h1v1h-1zM76 89h1v1h-1zM76 90h2v1h-2zM77 91h2v1h-2zM78 92h2v1h-2zM79 93h2v1h-2zM80 94h2v1h-2zM81 95h9v1h-9z"/>
<path fill="#ff2300" d="M79 22h1v1h-1zM78 24h1v1h-1zM77 26h1v1h-1zM76 28h1v1h-1zM76 29h1v1h-1zM75 31h1v1h-1zM74 33h1v1h-1zM74 34h1v1h-1zM73 37h1v1h-1zM72 41h1v1h-1zM72 42h1v1h-1zM71 47h1v1h-1zM71 48h1v1h-1zM71 49h1v1h-1zM71 50h1v1h-1zM71 55h1v1h-1zM71 56h1v1h-1zM71 57h1v1h-1zM72 63h1v1h-1zM72 64h1v1h-1zM72 65h1v1h-1zM73 78h1v1h-1zM73 79h1v1h-1zM73 80h1v1h-1zM73 81h1v1h-1zM73 82h1v1h-1zM73 83h1v1h-1zM74 84h1v1h-1zM74 85h2v1h-2zM75 86h1v1h-1zM76 87h1v1h-1zM76 88h2v1h-2zM77 89h2v1h-2zM78 90h1v1h-1zM79 91h1v1h-1zM80 92h1v1h-1zM81 93h9v1h-9zM82 94h8v1h-8z"/>
<path fill="#ff1f00" d="M82 21h8v1h-8zM80 22h1v1h-1zM79 23h1v1h-1zM78 25h1v1h-1zM77 27h1v1h-1zM77 28h1v1h-1zM76 30h1v1h-1zM75 32h1v1h-1zM75 33h1v1h-1zM74 35h1v1h-1zM74 36h1v1h-1zM73 38h1v1h-1zM73 39h1v1h-1zM72 43h1v1h-1zM72 44h1v1h-1zM72 45h1v1h-1zM71 51h1v1h-1zM71 52h1v1h-1zM71 53h1v1h-1zM71 54h1v1h-1zM72 61h1v1h-1zM72 62h1v1h-1zM73 66h1v1h-1zM73 67h1v1h-1zM73 68h1v1h-1zM73 69h1v1h-1zM73 70h1v1h-1zM73 71h1v1h-1zM73 72h1v1h-1zM73 73h1v1h-1zM73 74h1v1h-1zM73 75h1v1h-1zM73 76h1v1h-1zM73 77h1v1h-1zM74 80h1v1h-1zM74 81h1v1h-1zM74 82h1v1h-1zM74 83h2v1h-2zM75 84h1v1h-1zM76 85h1v1h-1zM76 86h2v1h-2zM77 87h1v1h-1zM78 88h1v1h-1zM79 89h1v1h-1zM79 90h2v1h-2zM80 91h2v1h-2zM81 92h9v1h-9z"/>
<path fill="#ff1a00" d="M80 23h1v1h-1zM79 24h1v1h-1zM79 25h1v1h-1zM78 26h1v1h-1zM78 27h1v1h-1zM77 29h1v1h-1zM76 31h1v1h-1zM76 32h1v1h-1zM75 34h1v1h-1zM74 37h1v1h-1zM74 38h1v1h-1zM73 40h1v1h-1zM73 41h1v1h-1zM72 46h1v1h-1zM72 47h1v1h-1zM72 58h1v1h-1zM72 59h1v1h-1zM72 60h1v1h-1zM73 64h1v1h-1zM73 65h1v1h-1zM74 72h1v1h-1zM74 73h1v1h-1zM74 74h1v1h-1zM74 75h1v1h-1zM74 76h1v1h-1zM74 77h1v1h-1zM74 78h1v1h-1zM74 79h1v1h-1zM75 80h1v1h-1zM75 81h1v1h-1zM75 82h1v1h-1zM76 83h1v1h-1zM76 84h1v1h-1zM77 85h1v1h-1zM78 86h1v1h-1zM78 87h2v1h-2zM79 88h2v1h-2zM80 89h2v1h-2zM81 90h9v1h-9zM82 91h8v1h-8z"/>
<path fill="#ff1500" d="M81 22h1v1h-1zM80 24h1v1h-1zM79 26h1v1h-1zM78 28h1v1h-1zM77 30h1v1h-1zM77 31h1v1h-1zM76 33h1v1h-1zM75 35h1v1h-1zM75 36h1v1h-1zM74 39h1v1h-1zM73 42h1v1h-1zM73 43h1v1h-1zM72 48h1v1h-1zM72 49h1v1h-1zM72 55h1v1h-1zM72 56h1v1h-1zM72 57h1v1h-1zM73 62h1v1h-1zM73 63h1v1h-1zM74 67h1v1h-1zM74 68h1v1h-1zM74 69h1v1h-1zM74 70h1v1h-1zM74 71h1v1h-1zM75 75h1v1h-1zM75 76h1v1h-1zM75 77h1v1h-1zM75 78h1v1h-1zM75 79h1v1h-1zM76 80h1v1h-1zM76 81h1v1h-1zM76 82h1v1h-1zM77 83h1v1h-1zM77 84h2v1h-2zM78 85h1v1h-1zM79 86h1v1h-1zM80 87h1v1h-1zM81 88h1v1h-1zM82 89h8v1h-8z"/>
<path fill="#ff1100" d="M82 22h8v1h-8zM81 23h1v1h-1zM81 24h1v1h-1zM80 25h1v1h-1zM79 27h1v1h-1zM78 29h1v1h-1zM78 30h1v1h-1zM77 32h1v1h-1zM76 34h1v1h-1zM76 35h1v1h-1zM75 37h1v1h-1zM75 38h1v1h-1zM74 40h1v1h-1zM74 41h1v1h-1zM73 44h1v1h-1zM73 45h1v1h-1zM72 50h1v1h-1zM72 51h1v1h-1zM72 52h1v1h-1zM72 53h1v1h-1zM72 54h1v1h-1zM73 60h1v1h-1zM73 61h1v1h-1zM74 65h1v1h-1zM74 66h1v1h-1zM75 70h1v1h-1zM75 71h1v1h-1zM75 72h1v1h-1zM75 73h1v1h-1zM75 74h1v1h-1zM76 77h1v1h-1zM76 78h1v1h-1zM76 79h1v1h-1zM77 80h1v1h-1zM77 81h1v1h-1zM77 82h1v1h-1zM78 83h1v1h-1zM79 84h1v1h-1zM79 85h2v1h-2zM80 86h2v1h-2zM81 87h1v1h-1zM82 88h8v1h-8z"/>
<path fill="#ff0c00" d="M82 23h8v1h-8zM81 25h1v1h-1zM80 26h1v1h-1zM80 27h1v1h-1zM79 28h1v1h-1zM79 29h1v1h-1zM78 31h1v1h-1zM77 33h1v1h-1zM77 34h1v1h-1zM76 36h1v1h-1zM75 39h1v1h-1zM74 42h1v1h-1zM73 46h1v1h-1zM73 47h1v1h-1zM73 57h1v1h-1zM73 58h1v1h-1zM73 59h1v1h-1zM74 63h1v1h-1zM74 64h1v1h-1zM75 67h1v1h-1zM75 68h1v1h-1zM75 69h1v1h-1zM76 73h1v1h-1zM76 74h1v1h-1zM76 75h1v1h-1zM76 76h1v1h-1zM77 78h1v1h-1zM77 79h1v1h-1zM78 80h1v1h-1zM78 81h1v1h-1zM78 82h2v1h-2zM79 83h1v1h-1zM80 84h1v1h-1zM81 85h1v1h-1zM82 86h8v1h-8zM82 87h8v1h-8z"/>
<path fill="#ff0700" d="M82 24h8v1h-8zM81 26h1v1h-1zM80 28h1v1h-1zM79 30h1v1h-1zM78 32h1v1h-1zM77 35h1v1h-1zM76 37h1v1h-1zM76 38h1v1h-1zM75 40h1v1h-1zM74 43h1v1h-1zM74 44h1v1h-1zM73 48h1v1h-1zM73 49h1v1h-1zM73 55h1v1h-1zM73 56h1v1h-1zM74 61h1v1h-1zM74 62h1v1h-1zM75 65h1v1h-1zM75 66h1v1h-1zM76 70h1v1h-1zM76 71h1v1h-1zM76 72h1v1h-1zM77 75h1v1h-1zM77 76h1v1h-1zM77 77h1v1h-1zM78 78h1v1h-1zM78 79h1v1h-1zM79 80h1v1h-1zM79 81h1v1h-1zM80 82h1v1h-1zM80 83h2v1h-2zM81 84h1v1h-1zM82 85h8v1h-8z"/>
<path fill="#ff0400" d="M82 25h8v1h-8zM81 27h1v1h-1zM80 29h1v1h-1zM79 31h1v1h-1zM78 33h1v1h-1zM78 34h1v1h-1zM77 36h1v1h-1zM76 39h1v1h-1zM75 41h1v1h-1zM75 42h1v1h-1zM74 45h1v1h-1zM74 46h1v1h-1zM73 50h1v1h-1zM73 51h1v1h-1zM73 53h1v1h-1zM73 54h1v1h-1zM74 59h1v1h-1zM74 60h1v1h-1zM75 64h1v1h-1zM76 67h1v1h-1zM76 68h1v1h-1zM76 69h1v1h-1zM77 72h1v1h-1zM77 73h1v1h-1zM77 74h1v1h-1zM78 76h1v1h-1zM78 77h1v1h-1zM79 78h1v1h-1zM79 79h1v1h-1zM80 80h1v1h-1zM80 81h1v1h-1zM81 82h1v1h-1zM82 83h8v1h-8zM82 84h8v1h-8z"/>
<path fill="#ff0200" d="M82 26h8v1h-8zM82 27h8v1h-8zM81 28h1v1h-1zM81 29h1v1h-1zM80 30h1v1h-1zM80 31h1v1h-1zM79 32h1v1h-1zM79 33h1v1h-1zM78 35h1v1h-1zM77 37h1v1h-1zM77 38h1v1h-1zM76 40h1v1h-1zM75 43h1v1h-1zM74 47h1v1h-1zM73 52h1v1h-1zM74 57h1v1h-1zM74 58h1v1h-1zM75 62h1v1h-1zM75 63h1v1h-1zM76 66h1v1h-1zM77 69h1v1h-1zM77 70h1v1h-1zM77 71h1v1h-1zM78 74h1v1h-1zM78 75h1v1h-1zM79 77h1v1h-1zM80 79h1v1h-1zM81 80h1v1h-1zM81 81h1v1h-1zM82 82h8v1h-8z"/>
<path fill="#ff0000" d="M82 28h8v1h-8zM81 30h1v1h-1zM80 32h1v1h-1zM79 34h1v1h-1zM78 36h1v1h-1zM78 37h1v1h-1zM77 39h1v1h-1zM76 41h1v1h-1zM75 44h1v1h-1zM75 45h1v1h-1zM74 48h1v1h-1zM74 49h1v1h-1zM74 55h1v1h-1zM74 56h1v1h-1zM75 60h1v1h-1zM75 61h1v1h-1zM76 64h1v1h-1zM76 65h1v1h-1zM77 67h1v1h-1zM77 68h1v1h-1zM78 71h1v1h-1zM78 72h1v1h-1zM78 73h1v1h-1zM79 75h1v1h-1zM79 76h1v1h-1zM80 77h1v1h-1zM80 78h1v1h-1zM81 79h1v1h-1zM82 80h8v1h-8zM82 81h8v1h-8z"/>
<path fill="#ff0000" d="M82 29h8v1h-8zM81 31h1v1h-1zM80 33h1v1h-1zM79 35h1v1h-1zM78 38h1v1h-1zM77 40h1v1h-1zM76 42h1v1h-1zM76 43h1v1h-1zM75 46h1v1h-1zM74 50h1v1h-1zM74 51h1v1h-1zM74 53h1v1h-1zM74 54h1v1h-1zM75 59h1v1h-1zM76 63h1v1h-1zM77 66h1v1h-1zM78 69h1v1h-1zM78 70h1v1h-1zM79 73h1v1h-1zM79 74h1v1h-1zM80 75h1v1h-1zM80 76h1v1h-1zM81 78h1v1h-1zM82 79h8v1h-8z"/>
<path fill="#ff0000" d="M82 30h8v1h-8zM81 32h1v1h-1zM80 34h1v1h-1zM79 36h1v1h-1zM79 37h1v1h-1zM78 39h1v1h-1zM77 41h1v1h-1zM76 44h1v1h-1zM75 47h1v1h-1zM74 52h1v1h-1zM75 57h1v1h-1zM75 58h1v1h-1zM76 61h1v1h-1zM76 62h1v1h-1zM77 65h1v1h-1zM78 67h1v1h-1zM78 68h1v1h-1zM79 71h1v1h-1zM79 72h1v1h-1zM80 74h1v1h-1zM81 76h1v1h-1zM81 77h1v1h-1zM82 78h8v1h-8z"/>
<path fill="#ff0000" d="M82 31h8v1h-8zM81 33h1v1h-1zM80 35h1v1h-1zM80 36h1v1h-1zM79 38h1v1h-1zM78 40h1v1h-1zM77 42h1v1h-1zM76 45h1v1h-1zM75 48h1v1h-1zM75 49h1v1h-1zM75 55h1v1h-1zM75 56h1v1h-1zM76 60h1v1h-1zM77 63h1v1h-1zM77 64h1v1h-1zM78 66h1v1h-1zM79 69h1v1h-1zM79 70h1v1h-1zM80 72h1v1h-1zM80 73h1v1h-1zM81 75h1v1h-1zM82 77h8v1h-8z"/>
<path fill="#ff0000" d="M82 32h8v1h-8zM82 33h8v1h-8zM81 34h1v1h-1zM81 35h1v1h-1zM80 37h1v1h-1zM79 39h1v1h-1zM78 41h1v1h-1zM77 43h1v1h-1zM76 46h1v1h-1zM75 50h1v1h-1zM75 54h1v1h-1zM76 58h1v1h-1zM76 59h1v1h-1zM77 62h1v1h-1zM78 65h1v1h-1zM79 67h1v1h-1zM79 68h1v1h-1zM80 71h1v1h-1zM81 73h1v1h-1zM81 74h1v1h-1zM82 75h8v1h-8zM82 76h8v1h-8z"/>
<path fill="#ff0000" d="M82 34h8v1h-8zM81 36h1v1h-1zM80 38h1v1h-1zM78 42h1v1h-1zM77 44h1v1h-1zM76 47h1v1h-1zM76 48h1v1h-1zM75 51h1v1h-1zM75 52h1v1h-1zM75 53h1v1h-1zM76 57h1v1h-1zM77 61h1v1h-1zM78 64h1v1h-1zM79 66h1v1h-1zM80 69h1v1h-1zM80 70h1v1h-1zM81 72h1v1h-1zM82 74h8v1h-8z"/>
<path fill="#ff0000" d="M82 35h8v1h-8zM81 37h1v1h-1zM80 39h1v1h-1zM79 40h1v1h-1zM78 43h1v1h-1zM77 45h1v1h-1zM76 49h1v1h-1zM76 56h1v1h-1zM77 59h1v1h-1zM77 60h1v1h-1zM78 63h1v1h-1zM79 65h1v1h-1zM80 67h1v1h-1zM80 68h1v1h-1zM81 70h1v1h-1zM81 71h1v1h-1zM82 73h8v1h-8z"/>
<path fill="#ff0000" d="M82 36h8v1h-8zM81 38h1v1h-1zM79 41h1v1h-1zM78 44h1v1h-1zM77 46h1v1h-1zM77 47h1v1h-1zM76 50h1v1h-1zM76 54h1v1h-1zM76 55h1v1h-1zM77 58h1v1h-1zM78 61h1v1h-1zM78 62h1v1h-1zM79 64h1v1h-1zM80 66h1v1h-1zM81 69h1v1h-1zM82 71h8v1h-8zM82 72h8v1h-8z"/>
<path fill="#ff0000" d="M82 37h8v1h-8zM80 40h1v1h-1zM79 42h1v1h-1zM78 45h1v1h-1zM77 48h1v1h-1zM76 51h1v1h-1zM76 53h1v1h-1zM77 57h1v1h-1zM78 60h1v1h-1zM79 63h1v1h-1zM80 65h1v1h-1zM81 67h1v1h-1zM81 68h1v1h-1zM82 70h8v1h-8z"/>
<path fill="#ff0000" d="M82 38h8v1h-8zM81 39h1v1h-1zM80 41h1v1h-1zM79 43h1v1h-1zM78 46h1v1h-1zM77 49h1v1h-1zM76 52h1v1h-1zM77 56h1v1h-1zM78 59h1v1h-1zM79 62h1v1h-1zM80 64h1v1h-1zM82 69h8v1h-8z"/>
<path fill="#ff0000" d="M81 40h1v1h-1zM80 42h1v1h-1zM79 44h1v1h-1zM78 47h1v1h-1zM77 50h1v1h-1zM77 54h1v1h-1zM77 55h1v1h-1zM78 58h1v1h-1zM79 61h1v1h-1zM80 63h1v1h-1zM81 66h1v1h-1zM82 67h8v1h-8zM82 68h8v1h-8z"/>
<path fill="#fb0000" d="M82 39h8v1h-8zM81 41h1v1h-1zM80 43h1v1h-1zM79 45h1v1h-1zM78 48h1v1h-1zM77 51h1v1h-1zM77 53h1v1h-1zM78 57h1v1h-1zM79 60h1v1h-1zM81 65h1v1h-1z"/>
<path fill="#f60000" d="M82 40h8v1h-8zM81 42h1v1h-1zM80 44h1v1h-1zM79 46h1v1h-1zM78 49h1v1h-1zM77 52h1v1h-1zM78 56h1v1h-1zM79 59h1v1h-1zM80 62h1v1h-1zM81 64h1v1h-1zM82 66h8v1h-8z"/>
<path fill="#f20000" d="M82 41h8v1h-8zM79 47h1v1h-1zM78 50h1v1h-1zM78 54h1v1h-1zM78 55h1v1h-1zM79 58h1v1h-1zM80 61h1v1h-1zM81 63h1v1h-1zM82 65h8v1h-8z"/>
<path fill="#ed0000" d="M81 43h1v1h-1zM80 45h1v1h-1zM79 48h1v1h-1zM78 51h1v1h-1zM78 53h1v1h-1zM79 57h1v1h-1zM80 60h1v1h-1zM81 62h1v1h-1zM82 64h8v1h-8z"/>
<path fill="#e90000" d="M82 42h8v1h-8zM81 44h1v1h-1zM80 46h1v1h-1zM79 49h1v1h-1zM78 52h1v1h-1zM79 56h1v1h-1zM80 59h1v1h-1zM81 61h1v1h-1zM82 63h8v1h-8z"/>
<path fill="#e40000" d="M82 43h8v1h-8zM81 45h1v1h-1zM80 47h1v1h-1zM79 50h1v1h-1zM79 55h1v1h-1zM80 58h1v1h-1zM81 60h1v1h-1zM82 62h8v1h-8z"/>
<path fill="#e00000" d="M82 44h8v1h-8zM81 46h1v1h-1zM80 48h1v1h-1zM79 51h1v1h-1zM79 54h1v1h-1zM80 57h1v1h-1zM81 59h1v1h-1z"/>
<path fill="#db0000" d="M80 49h1v1h-1zM79 52h1v1h-1zM79 53h1v1h-1zM80 56h1v1h-1zM81 58h1v1h-1zM82 61h8v1h-8z"/>
<path fill="#d70000" d="M82 45h8v1h-8zM81 47h1v1h-1zM80 50h1v1h-1zM80 55h1v1h-1zM82 60h8v1h-8z"/>
<path fill="#d20000" d="M82 46h8v1h-8zM81 48h1v1h-1zM80 54h1v1h-1zM81 57h1v1h-1zM82 59h8v1h-8z"/>
<path fill="#cd0000" d="M81 49h1v1h-1zM80 51h1v1h-1zM80 53h1v1h-1zM81 56h1v1h-1zM82 58h8v1h-8z"/>
<path fill="#c90000" d="M82 47h8v1h-8zM80 52h1v1h-1zM81 55h1v1h-1zM82 57h8v1h-8z"/>
<path fill="#c40000" d="M82 48h8v1h-8zM81 50h1v1h-1zM81 54h1v1h-1z"/>
<path fill="#c00000" d="M82 49h8v1h-8zM81 51h1v1h-1zM81 53h1v1h-1zM82 56h8v1h-8z"/>
<path fill="#bb0000" d="M81 52h1v1h-1zM82 55h8v1h-8z"/>
<path fill="#b60000" d="M82 50h8v1h-8zM82 54h8v1h-8z"/>
<path fill="#b20000" d="M82 51h8v1h-8zM82 53h8v1h-8z"/>
<path fill="#ad0000" d="M82 52h8v1h-8z"/>
</svg>
<g shape-rendering="crispEdges">
<rect x="1882.0" y="1555.57" width="88.5" height="6.13" fill="#000087"/><rect x="1882.0" y="1549.94" width="88.5" height="6.13" fill="#00008b"/><rect x="1882.0" y="1544.31" width="88.5" height="6.13" fill="#00008f"/><rect x="1882.0" y="1538.68" width="88.5" height="6.13" fill="#000094"/><rect x="1882.0" y="1533.06" width="88.5" height="6.13" fill="#000098"/><rect x="1882.0" y="1527.43" width="88.5" height="6.13" fill="#00009c"/><rect x="1882.0" y="1521.80" width="88.5" height="6.13" fill="#0000a0"/><rect x="1882.0" y="1516.17" width="88.5" height="6.13" fill="#0000a4"/><rect x="1882.0" y="1510.54" width="88.5" height="6.13" fill="#0000a8"/><rect x="1882.0" y="1504.91" width="88.5" height="6.13" fill="#0000ac"/><rect x="1882.0" y="1499.28" width="88.5" height="6.13" fill="#0000b0"/><rect x="1882.0" y="1493.65" width="88.5" height="6.13" fill="#0000b4"/><rect x="1882.0" y="1488.02" width="88.5" height="6.13" fill="#0000b8"/><rect x="1882.0" y="1482.40" width="88.5" height="6.13" fill="#0000bc"/><rect x="1882.0" y="1476.77" width="88.5" height="6.13" fill="#0000c0"/><rect x="1882.0" y="1471.14" width="88.5" height="6.13" fill="#0000c4"/><rect x="1882.0" y="1465.51" width="88.5" height="6.13" fill="#0000c8"/><rect x="1882.0" y="1459.88" width="88.5" height="6.13" fill="#0000cc"/><rect x="1882.0" y="1454.25" width="88.5" height="6.13" fill="#0000d0"/><rect x="1882.0" y="1448.62" width="88.5" height="6.13" fill="#0000d4"/><rect x="1882.0" y="1442.99" width="88.5" height="6.13" fill="#0000d8"/><rect x="1882.0" y="1437.36" width="88.5" height="6.13" fill="#0000dc"/><rect x="1882.0" y="1431.74" width="88.5" height="6.13" fill="#0000e0"/><rect x="1882.0" y="1426.11" width="88.5" height="6.13" fill="#0000e4"/><rect x="1882.0" y="1420.48" width="88.5" height="6.13" fill="#0000e8"/><rect x="1882.0" y="1414.85" width="88.5" height="6.13" fill="#0000ec"/><rect x="1882.0" y="1409.22" width="88.5" height="6.13" fill="#0000f0"/><rect x="1882.0" y="1403.59" width="88.5" height="6.13" fill="#0000f4"/><rect x="1882.0" y="1397.96" width="88.5" height="6.13" fill="#0000f8"/><rect x="1882.0" y="1392.33" width="88.5" height="6.13" fill="#0000fc"/><rect x="1882.0" y="1375.45" width="88.5" height="17.39" fill="#0000ff"/><rect x="1882.0" y="1369.82" width="88.5" height="6.13" fill="#0002ff"/><rect x="1882.0" y="1364.19" width="88.5" height="6.13" fill="#0004ff"/><rect x="1882.0" y="1358.56" width="88.5" height="6.13" fill="#0007ff"/><rect x="1882.0" y="1352.93" width="88.5" height="6.13" fill="#000cff"/><rect x="1882.0" y="1347.30" width="88.5" height="6.13" fill="#0011ff"/><rect x="1882.0" y="1341.67" width="88.5" height="6.13" fill="#0015ff"/><rect x="1882.0" y="1336.04" width="88.5" height="6.13" fill="#001aff"/><rect x="1882.0" y="1330.41" width="88.5" height="6.13" fill="#001fff"/><rect x="1882.0" y="1324.79" width="88.5" height="6.13" fill="#0023ff"/><rect x="1882.0" y="1319.16" width="88.5" height="6.13" fill="#0028ff"/><rect x="1882.0" y="1313.53" width="88.5" height="6.13" fill="#002cff"/><rect x="1882.0" y="1307.90" width="88.5" height="6.13" fill="#0030ff"/><rect x="1882.0" y="1302.27" width="88.5" height="6.13" fill="#0035ff"/><rect x="1882.0" y="1296.64" width="88.5" height="6.13" fill="#0039ff"/><rect x="1882.0" y="1291.01" width="88.5" height="6.13" fill="#003eff"/><rect x="1882.0" y="1285.38" width="88.5" height="6.13" fill="#0042ff"/><rect x="1882.0" y="1279.75" width="88.5" height="6.13" fill="#0046ff"/><rect x="1882.0" y="1274.13" width="88.5" height="6.13" fill="#004aff"/><rect x="1882.0" y="1268.50" width="88.5" height="6.13" fill="#004fff"/><rect x="1882.0" y="1262.87" width="88.5" height="6.13" fill="#0053ff"/><rect x="1882.0" y="1257.24" width="88.5" height="6.13" fill="#0057ff"/><rect x="1882.0" y="1251.61" width="88.5" height="6.13" fill="#005bff"/><rect x="1882.0" y="1245.98" width="88.5" height="6.13" fill="#005fff"/><rect x="1882.0" y="1240.35" width="88.5" height="6.13" fill="#0064ff"/><rect x="1882.0" y="1234.72" width="88.5" height="6.13" fill="#0068ff"/><rect x="1882.0" y="1229.09" width="88.5" height="6.13" fill="#006cff"/><rect x="1882.0" y="1223.47" width="88.5" height="6.13" fill="#0070ff"/><rect x="1882.0" y="1217.84" width="88.5" height="6.13" fill="#0074ff"/><rect x="1882.0" y="1212.21" width="88.5" height="6.13" fill="#0078ff"/><rect x="1882.0" y="1206.58" width="88.5" height="6.13" fill="#007cff"/><rect x="1882.0" y="1200.95" width="88.5" height="6.13" fill="#0081ff"/><rect x="1882.0" y="1195.32" width="88.5" height="6.13" fill="#0085ff"/><rect x="1882.0" y="1189.69" width="88.5" height="6.13" fill="#0089ff"/><rect x="1882.0" y="1184.06" width="88.5" height="6.13" fill="#008dff"/><rect x="1882.0" y="1178.43" width="88.5" height="6.13" fill="#0091ff"/><rect x="1882.0" y="1172.81" width="88.5" height="6.13" fill="#0095ff"/><rect x="1882.0" y="1167.18" width="88.5" height="6.13" fill="#0099ff"/><rect x="1882.0" y="1161.55" width="88.5" height="6.13" fill="#009dff"/><rect x="1882.0" y="1155.92" width="88.5" height="6.13" fill="#00a1ff"/><rect x="1882.0" y="1150.29" width="88.5" height="6.13" fill="#00a5ff"/><rect x="1882.0" y="1144.66" width="88.5" height="6.13" fill="#00a9ff"/><rect x="1882.0" y="1139.03" width="88.5" height="6.13" fill="#00adff"/><rect x="1882.0" y="1133.40" width="88.5" height="6.13" fill="#00b1ff"/><rect x="1882.0" y="1127.77" width="88.5" height="6.13" fill="#00b5ff"/><rect x="1882.0" y="1122.15" width="88.5" height="6.13" fill="#00b9ff"/><rect x="1882.0" y="1116.52" width="88.5" height="6.13" fill="#00bdff"/><rect x="1882.0" y="1110.89" width="88.5" height="6.13" fill="#00c1ff"/><rect x="1882.0" y="1105.26" width="88.5" height="6.13" fill="#00c5ff"/><rect x="1882.0" y="1099.63" width="88.5" height="6.13" fill="#00c9ff"/><rect x="1882.0" y="1094.00" width="88.5" height="6.13" fill="#00ccff"/><rect x="1882.0" y="1088.37" width="88.5" height="6.13" fill="#00d0ff"/><rect x="1882.0" y="1082.74" width="88.5" height="6.13" fill="#00d4ff"/><rect x="1882.0" y="1077.11" width="88.5" height="6.13" fill="#00d8ff"/><rect x="1882.0" y="1071.49" width="88.5" height="6.13" fill="#00dcff"/><rect x="1882.0" y="1065.86" width="88.5" height="6.13" fill="#00e0ff"/><rect x="1882.0" y="1060.23" width="88.5" height="6.13" fill="#00e4ff"/><rect x="1882.0" y="1054.60" width="88.5" height="6.13" fill="#00e8ff"/><rect x="1882.0" y="1048.97" width="88.5" height="6.13" fill="#00ecff"/><rect x="1882.0" y="1043.34" width="88.5" height="6.13" fill="#00f0ff"/><rect x="1882.0" y="1037.71" width="88.5" height="6.13" fill="#00f3ff"/><rect x="1882.0" y="1032.08" width="88.5" height="6.13" fill="#00f7ff"/><rect x="1882.0" y="1026.45" width="88.5" height="6.13" fill="#00fbff"/><rect x="1882.0" y="1020.83" width="88.5" height="6.13" fill="#00ffff"/><rect x="1882.0" y="1015.20" width="88.5" height="6.13" fill="#00fffb"/><rect x="1882.0" y="1009.57" width="88.5" height="6.13" fill="#00fff7"/><rect x="1882.0" y="1003.94" width="88.5" height="6.13" fill="#00fff3"/><rect x="1882.0" y="998.31" width="88.5" height="6.13" fill="#00ffef"/><rect x="1882.0" y="992.68" width="88.5" height="6.13" fill="#00ffeb"/><rect x="1882.0" y="987.05" width="88.5" height="6.13" fill="#00ffe7"/><rect x="1882.0" y="981.42" width="88.5" height="6.13" fill="#00ffe3"/><rect x="1882.0" y="975.79" width="88.5" height="6.13" fill="#00ffdf"/><rect x="1882.0" y="970.16" width="88.5" height="6.13" fill="#00ffda"/><rect x="1882.0" y="964.54" width="88.5" height="6.13" fill="#00ffd6"/><rect x="1882.0" y="958.91" width="88.5" height="6.13" fill="#00ffd2"/><rect x="1882.0" y="953.28" width="88.5" height="6.13" fill="#00ffce"/><rect x="1882.0" y="947.65" width="88.5" height="6.13" fill="#00ffca"/><rect x="1882.0" y="942.02" width="88.5" height="6.13" fill="#00ffc6"/><rect x="1882.0" y="936.39" width="88.5" height="6.13" fill="#00ffc2"/><rect x="1882.0" y="930.76" width="88.5" height="6.13" fill="#00ffbd"/><rect x="1882.0" y="925.13" width="88.5" height="6.13" fill="#00ffb9"/><rect x="1882.0" y="919.50" width="88.5" height="6.13" fill="#00ffb5"/><rect x="1882.0" y="913.88" width="88.5" height="6.13" fill="#00ffb1"/><rect x="1882.0" y="908.25" width="88.5" height="6.13" fill="#00ffac"/><rect x="1882.0" y="902.62" width="88.5" height="6.13" fill="#00ffa8"/><rect x="1882.0" y="896.99" width="88.5" height="6.13" fill="#00ffa4"/><rect x="1882.0" y="891.36" width="88.5" height="6.13" fill="#00ff9f"/><rect x="1882.0" y="885.73" width="88.5" height="6.13" fill="#00ff9b"/><rect x="1882.0" y="880.10" width="88.5" height="6.13" fill="#00ff97"/><rect x="1882.0" y="874.47" width="88.5" height="6.13" fill="#00ff92"/><rect x="1882.0" y="868.84" width="88.5" height="6.13" fill="#00ff8e"/><rect x="1882.0" y="863.22" width="88.5" height="6.13" fill="#00ff89"/><rect x="1882.0" y="857.59" width="88.5" height="6.13" fill="#00ff85"/><rect x="1882.0" y="851.96" width="88.5" height="6.13" fill="#00ff80"/><rect x="1882.0" y="846.33" width="88.5" height="6.13" fill="#00ff7c"/><rect x="1882.0" y="840.70" width="88.5" height="6.13" fill="#00ff77"/><rect x="1882.0" y="835.07" width="88.5" height="6.13" fill="#00ff72"/><rect x="1882.0" y="829.44" width="88.5" height="6.13" fill="#00ff6d"/><rect x="1882.0" y="823.81" width="88.5" height="6.13" fill="#00ff69"/><rect x="1882.0" y="818.18" width="88.5" height="6.13" fill="#00ff64"/><rect x="1882.0" y="812.56" width="88.5" height="6.13" fill="#27ff5f"/><rect x="1882.0" y="806.93" width="88.5" height="6.13" fill="#3dff59"/><rect x="1882.0" y="801.30" width="88.5" height="6.13" fill="#4cff54"/><rect x="1882.0" y="795.67" width="88.5" height="6.13" fill="#59ff4f"/><rect x="1882.0" y="790.04" width="88.5" height="6.13" fill="#64ff49"/><rect x="1882.0" y="784.41" width="88.5" height="6.13" fill="#6eff43"/><rect x="1882.0" y="778.78" width="88.5" height="6.13" fill="#77ff3d"/><rect x="1882.0" y="773.15" width="88.5" height="6.13" fill="#80ff37"/><rect x="1882.0" y="767.52" width="88.5" height="6.13" fill="#88ff30"/><rect x="1882.0" y="761.90" width="88.5" height="6.13" fill="#90ff28"/><rect x="1882.0" y="756.27" width="88.5" height="6.13" fill="#97ff1f"/><rect x="1882.0" y="750.64" width="88.5" height="6.13" fill="#9fff13"/><rect x="1882.0" y="745.01" width="88.5" height="6.13" fill="#a6ff00"/><rect x="1882.0" y="739.38" width="88.5" height="6.13" fill="#acff00"/><rect x="1882.0" y="733.75" width="88.5" height="6.13" fill="#b3ff00"/><rect x="1882.0" y="728.12" width="88.5" height="6.13" fill="#b9ff00"/><rect x="1882.0" y="722.49" width="88.5" height="6.13" fill="#c0ff00"/><rect x="1882.0" y="716.86" width="88.5" height="6.13" fill="#c6ff00"/><rect x="1882.0" y="711.24" width="88.5" height="6.13" fill="#ccff00"/><rect x="1882.0" y="705.61" width="88.5" height="6.13" fill="#d2ff00"/><rect x="1882.0" y="699.98" width="88.5" height="6.13" fill="#d8ff00"/><rect x="1882.0" y="694.35" width="88.5" height="6.13" fill="#deff00"/><rect x="1882.0" y="688.72" width="88.5" height="6.13" fill="#e3ff00"/><rect x="1882.0" y="683.09" width="88.5" height="6.13" fill="#e9ff00"/><rect x="1882.0" y="677.46" width="88.5" height="6.13" fill="#efff00"/><rect x="1882.0" y="671.83" width="88.5" height="6.13" fill="#f4ff00"/><rect x="1882.0" y="666.20" width="88.5" height="6.13" fill="#faff00"/><rect x="1882.0" y="660.58" width="88.5" height="6.13" fill="#ffff00"/><rect x="1882.0" y="654.95" width="88.5" height="6.13" fill="#fffb00"/><rect x="1882.0" y="649.32" width="88.5" height="6.13" fill="#fff700"/><rect x="1882.0" y="643.69" width="88.5" height="6.13" fill="#fff300"/><rect x="1882.0" y="638.06" width="88.5" height="6.13" fill="#fff000"/><rect x="1882.0" y="632.43" width="88.5" height="6.13" fill="#ffec00"/><rect x="1882.0" y="626.80" width="88.5" height="6.13" fill="#ffe800"/><rect x="1882.0" y="621.17" width="88.5" height="6.13" fill="#ffe400"/><rect x="1882.0" y="615.54" width="88.5" height="6.13" fill="#ffe000"/><rect x="1882.0" y="609.91" width="88.5" height="6.13" fill="#ffdc00"/><rect x="1882.0" y="604.29" width="88.5" height="6.13" fill="#ffd800"/><rect x="1882.0" y="598.66" width="88.5" height="6.13" fill="#ffd400"/><rect x="1882.0" y="593.03" width="88.5" height="6.13" fill="#ffd000"/><rect x="1882.0" y="587.40" width="88.5" height="6.13" fill="#ffcc00"/><rect x="1882.0" y="581.77" width="88.5" height="6.13" fill="#ffc900"/><rect x="1882.0" y="576.14" width="88.5" height="6.13" fill="#ffc500"/><rect x="1882.0" y="570.51" width="88.5" height="6.13" fill="#ffc100"/><rect x="1882.0" y="564.88" width="88.5" height="6.13" fill="#ffbd00"/><rect x="1882.0" y="559.25" width="88.5" height="6.13" fill="#ffb900"/><rect x="1882.0" y="553.63" width="88.5" height="6.13" fill="#ffb500"/><rect x="1882.0" y="548.00" width="88.5" height="6.13" fill="#ffb100"/><rect x="1882.0" y="542.37" width="88.5" height="6.13" fill="#ffad00"/><rect x="1882.0" y="536.74" width="88.5" height="6.13" fill="#ffa900"/><rect x="1882.0" y="531.11" width="88.5" height="6.13" fill="#ffa500"/><rect x="1882.0" y="525.48" width="88.5" height="6.13" fill="#ffa100"/><rect x="1882.0" y="519.85" width="88.5" height="6.13" fill="#ff9d00"/><rect x="1882.0" y="514.22" width="88.5" height="6.13" fill="#ff9900"/><rect x="1882.0" y="508.59" width="88.5" height="6.13" fill="#ff9500"/><rect x="1882.0" y="502.97" width="88.5" height="6.13" fill="#ff9100"/><rect x="1882.0" y="497.34" width="88.5" height="6.13" fill="#ff8d00"/><rect x="1882.0" y="491.71" width="88.5" height="6.13" fill="#ff8900"/><rect x="1882.0" y="486.08" width="88.5" height="6.13" fill="#ff8500"/><rect x="1882.0" y="480.45" width="88.5" height="6.13" fill="#ff8100"/><rect x="1882.0" y="474.82" width="88.5" height="6.13" fill="#ff7c00"/><rect x="1882.0" y="469.19" width="88.5" height="6.13" fill="#ff7800"/><rect x="1882.0" y="463.56" width="88.5" height="6.13" fill="#ff7400"/><rect x="1882.0" y="457.93" width="88.5" height="6.13" fill="#ff7000"/><rect x="1882.0" y="452.31" width="88.5" height="6.13" fill="#ff6c00"/><rect x="1882.0" y="446.68" width="88.5" height="6.13" fill="#ff6800"/><rect x="1882.0" y="441.05" width="88.5" height="6.13" fill="#ff6400"/><rect x="1882.0" y="435.42" width="88.5" height="6.13" fill="#ff5f00"/><rect x="1882.0" y="429.79" width="88.5" height="6.13" fill="#ff5b00"/><rect x="1882.0" y="424.16" width="88.5" height="6.13" fill="#ff5700"/><rect x="1882.0" y="418.53" width="88.5" height="6.13" fill="#ff5300"/><rect x="1882.0" y="412.90" width="88.5" height="6.13" fill="#ff4f00"/><rect x="1882.0" y="407.27" width="88.5" height="6.13" fill="#ff4a00"/><rect x="1882.0" y="401.65" width="88.5" height="6.13" fill="#ff4600"/><rect x="1882.0" y="396.02" width="88.5" height="6.13" fill="#ff4200"/><rect x="1882.0" y="390.39" width="88.5" height="6.13" fill="#ff3e00"/><rect x="1882.0" y="384.76" width="88.5" height="6.13" fill="#ff3900"/><rect x="1882.0" y="379.13" width="88.5" height="6.13" fill="#ff3500"/><rect x="1882.0" y="373.50" width="88.5" height="6.13" fill="#ff3000"/><rect x="1882.0" y="367.87" width="88.5" height="6.13" fill="#ff2c00"/><rect x="1882.0" y="362.24" width="88.5" height="6.13" fill="#ff2800"/><rect x="1882.0" y="356.61" width="88.5" height="6.13" fill="#ff2300"/><rect x="1882.0" y="350.99" width="88.5" height="6.13" fill="#ff1f00"/><rect x="1882.0" y="345.36" width="88.5" height="6.13" fill="#ff1a00"/><rect x="1882.0" y="339.73" width="88.5" height="6.13" fill="#ff1500"/><rect x="1882.0" y="334.10" width="88.5" height="6.13" fill="#ff1100"/><rect x="1882.0" y="328.47" width="88.5" height="6.13" fill="#ff0c00"/><rect x="1882.0" y="322.84" width="88.5" height="6.13" fill="#ff0700"/><rect x="1882.0" y="317.21" width="88.5" height="6.13" fill="#ff0400"/><rect x="1882.0" y="311.58" width="88.5" height="6.13" fill="#ff0200"/><rect x="1882.0" y="249.66" width="88.5" height="62.42" fill="#ff0000"/><rect x="1882.0" y="244.04" width="88.5" height="6.13" fill="#fb0000"/><rect x="1882.0" y="238.41" width="88.5" height="6.13" fill="#f60000"/><rect x="1882.0" y="232.78" width="88.5" height="6.13" fill="#f20000"/><rect x="1882.0" y="227.15" width="88.5" height="6.13" fill="#ed0000"/><rect x="1882.0" y="221.52" width="88.5" height="6.13" fill="#e90000"/><rect x="1882.0" y="215.89" width="88.5" height="6.13" fill="#e40000"/><rect x="1882.0" y="210.26" width="88.5" height="6.13" fill="#e00000"/><rect x="1882.0" y="204.63" width="88.5" height="6.13" fill="#db0000"/><rect x="1882.0" y="199.00" width="88.5" height="6.13" fill="#d70000"/><rect x="1882.0" y="193.38" width="88.5" height="6.13" fill="#d20000"/><rect x="1882.0" y="187.75" width="88.5" height="6.13" fill="#cd0000"/><rect x="1882.0" y="182.12" width="88.5" height="6.13" fill="#c90000"/><rect x="1882.0" y="176.49" width="88.5" height="6.13" fill="#c40000"/><rect x="1882.0" y="170.86" width="88.5" height="6.13" fill="#c00000"/><rect x="1882.0" y="165.23" width="88.5" height="6.13" fill="#bb0000"/><rect x="1882.0" y="159.60" width="88.5" height="6.13" fill="#b60000"/><rect x="1882.0" y="153.97" width="88.5" height="6.13" fill="#b20000"/><rect x="1882.0" y="148.34" width="88.5" height="6.13" fill="#ad0000"/><rect x="1882.0" y="142.72" width="88.5" height="6.13" fill="#a90000"/><rect x="1882.0" y="137.09" width="88.5" height="6.13" fill="#a40000"/><rect x="1882.0" y="131.46" width="88.5" height="6.13" fill="#9f0000"/><rect x="1882.0" y="125.83" width="88.5" height="6.13" fill="#9b0000"/><rect x="1882.0" y="120.20" width="88.5" height="6.13" fill="#960000"/>
</g>
<g fill="none" stroke="#262626" stroke-width="4" shape-rendering="crispEdges">
<rect x="204.0" y="122.4" width="1609.0" height="1436.8"/>
<path d="M212.2 1559.2v-10.5M212.2 122.4v10.5M477.6 1559.2v-10.5M477.6 122.4v10.5M743.0 1559.2v-10.5M743.0 122.4v10.5M1008.4 1559.2v-10.5M1008.4 122.4v10.5M1273.9 1559.2v-10.5M1273.9 122.4v10.5M1539.3 1559.2v-10.5M1539.3 122.4v10.5M1804.7 1559.2v-10.5M1804.7 122.4v10.5M204.0 1555.2h10.5M1813.0 1555.2h-10.5M204.0 1315.9h10.5M1813.0 1315.9h-10.5M204.0 1078.4h10.5M1813.0 1078.4h-10.5M204.0 840.9h10.5M1813.0 840.9h-10.5M204.0 603.5h10.5M1813.0 603.5h-10.5M204.0 366.0h10.5M1813.0 366.0h-10.5M204.0 126.4h10.5M1813.0 126.4h-10.5"/>
</g>
<rect x="1811" y="120.2" width="4" height="4.2" fill="#fff000" shape-rendering="crispEdges"/>
<text transform="translate(608.8 91.0) scale(0.9605 1)" style="font-size:64.5px;font-weight:bold;fill:#000">Total heating capacity [kW]</text>
<text transform="translate(673.2 1724.8) scale(0.9743 1)" style="font-size:63.5px">Ambient temperature [C]</text>
<text transform="translate(83.8 1255.8) rotate(-90) scale(0.9719 1)" style="font-size:63.5px">Leaving water temperature [C]</text>
<text transform="translate(166.0 1640.8) scale(1.0322 1)" style="font-size:56.5px">-15</text>
<text transform="translate(430.3 1640.8) scale(1.0413 1)" style="font-size:56.5px">-10</text>
<text transform="translate(716.0 1640.8) scale(1.0204 1)" style="font-size:56.5px">-5</text>
<text transform="translate(991.0 1640.8) scale(1.0114 1)" style="font-size:56.5px">0</text>
<text transform="translate(1254.9 1640.8) scale(1.0583 1)" style="font-size:56.5px">5</text>
<text transform="translate(1512.9 1640.8) scale(0.9638 1)" style="font-size:56.5px">10</text>
<text transform="translate(1777.7 1640.8) scale(0.9646 1)" style="font-size:56.5px">15</text>
<text transform="translate(114.9 153.5) scale(1.0138 1)" style="font-size:56.5px">60</text>
<text transform="translate(115.5 391.0) scale(1.0138 1)" style="font-size:56.5px">55</text>
<text transform="translate(115.5 629.0) scale(1.0041 1)" style="font-size:56.5px">50</text>
<text transform="translate(116.7 867.5) scale(0.9945 1)" style="font-size:56.5px">45</text>
<text transform="translate(116.7 1104.0) scale(0.9851 1)" style="font-size:56.5px">40</text>
<text transform="translate(116.1 1341.5) scale(1.0041 1)" style="font-size:56.5px">35</text>
<text transform="translate(116.1 1577.5) scale(0.9945 1)" style="font-size:56.5px">30</text>
<text transform="translate(1993.0 224.6) scale(0.9505 1)" style="font-size:53px;fill:#3a3a3a">3.5</text>
<text transform="translate(1993.0 507.2) scale(0.9241 1)" style="font-size:53px;fill:#3a3a3a">3</text>
<text transform="translate(1991.9 789.8) scale(0.9652 1)" style="font-size:53px;fill:#3a3a3a">2.5</text>
<text transform="translate(1991.9 1072.4) scale(0.9844 1)" style="font-size:53px;fill:#3a3a3a">2</text>
<text transform="translate(1990.9 1355.0) scale(0.9802 1)" style="font-size:53px;fill:#3a3a3a">1.5</text>
<text transform="translate(1970.9 96.6) scale(1.1992 1)" style="font-size:53px;fill:#7a7a7a">×</text>
<text transform="translate(2013.4 90.8) scale(0.9378 1)" style="font-size:53px;fill:#4a4a4a">10</text>
<text transform="translate(2070.8 65.7) scale(0.9549 1)" style="font-size:42.3px;fill:#505050">4</text>
</svg>
</body>
</html>
